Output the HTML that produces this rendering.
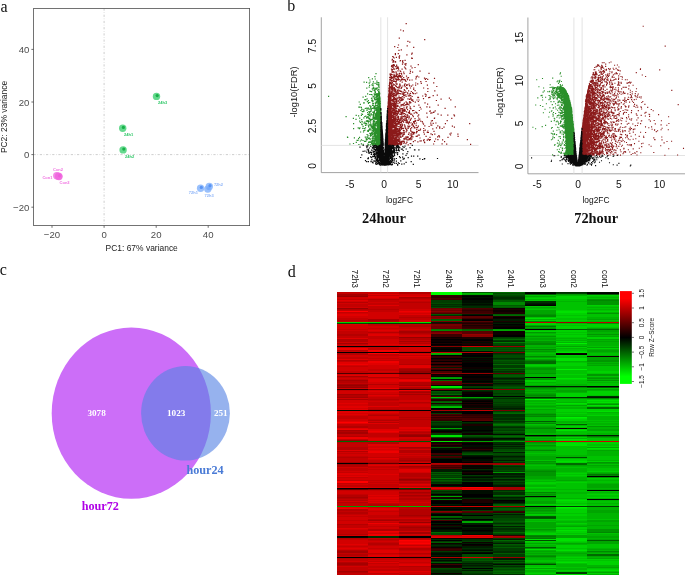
<!DOCTYPE html>
<html><head><meta charset="utf-8"><title>Figure</title>
<style>html,body{margin:0;padding:0;background:#fff}svg{display:block}.s{font-family:"Liberation Sans",Arial,sans-serif}.t{font-family:"Liberation Serif","Times New Roman",serif}</style></head><body>
<svg width="685" height="575" viewBox="0 0 685 575">
<rect width="685" height="575" fill="#fff"/>
<text class="t" x="0.5" y="11.6" font-size="16" fill="#111">a</text>
<text class="t" x="287.2" y="11.2" font-size="16" fill="#111">b</text>
<text class="t" x="-0.3" y="275.1" font-size="16" fill="#111">c</text>
<text class="t" x="287.7" y="276.7" font-size="16" fill="#111">d</text>
<g id="pca">
<line x1="104.1" y1="8.5" x2="104.1" y2="225.6" stroke="#c8c8c8" stroke-width="0.9" stroke-dasharray="2.2 1.7 0.6 1.7"/>
<line x1="33.6" y1="154.6" x2="249.6" y2="154.6" stroke="#c8c8c8" stroke-width="0.9" stroke-dasharray="2.2 1.7 0.6 1.7"/>
<rect x="33.6" y="8.5" width="216.0" height="217.1" fill="none" stroke="#505050" stroke-width="0.8"/>
<line x1="52.0" y1="225.6" x2="52.0" y2="227.79999999999998" stroke="#4a4a4a" stroke-width="0.8"/><text class="s" x="52.0" y="238.2" font-size="9.6" fill="#4d4d4d" text-anchor="middle">−20</text>
<line x1="31.400000000000002" y1="207.2" x2="33.6" y2="207.2" stroke="#4a4a4a" stroke-width="0.8"/><text class="s" x="29.4" y="210.7" font-size="9.6" fill="#4d4d4d" text-anchor="end">−20</text>
<line x1="104.1" y1="225.6" x2="104.1" y2="227.79999999999998" stroke="#4a4a4a" stroke-width="0.8"/><text class="s" x="104.1" y="238.2" font-size="9.6" fill="#4d4d4d" text-anchor="middle">0</text>
<line x1="31.400000000000002" y1="154.6" x2="33.6" y2="154.6" stroke="#4a4a4a" stroke-width="0.8"/><text class="s" x="29.4" y="158.1" font-size="9.6" fill="#4d4d4d" text-anchor="end">0</text>
<line x1="156.2" y1="225.6" x2="156.2" y2="227.79999999999998" stroke="#4a4a4a" stroke-width="0.8"/><text class="s" x="156.2" y="238.2" font-size="9.6" fill="#4d4d4d" text-anchor="middle">20</text>
<line x1="31.400000000000002" y1="102.0" x2="33.6" y2="102.0" stroke="#4a4a4a" stroke-width="0.8"/><text class="s" x="29.4" y="105.5" font-size="9.6" fill="#4d4d4d" text-anchor="end">20</text>
<line x1="208.2" y1="225.6" x2="208.2" y2="227.79999999999998" stroke="#4a4a4a" stroke-width="0.8"/><text class="s" x="208.2" y="238.2" font-size="9.6" fill="#4d4d4d" text-anchor="middle">40</text>
<line x1="31.400000000000002" y1="49.4" x2="33.6" y2="49.4" stroke="#4a4a4a" stroke-width="0.8"/><text class="s" x="29.4" y="52.9" font-size="9.6" fill="#4d4d4d" text-anchor="end">40</text>
<text class="s" x="141.7" y="250.7" font-size="8.45" fill="#222" text-anchor="middle">PC1: 67% variance</text>
<text class="s" transform="translate(7.4 117) rotate(-90)" font-size="8.45" fill="#222" text-anchor="middle">PC2: 23% variance</text>
<circle cx="156.5" cy="96.4" r="3.7" fill="#3fd072" fill-opacity="0.8"/><circle cx="157.2" cy="95.60000000000001" r="1.6" fill="#0aa83c" fill-opacity="0.85"/><circle cx="122.7" cy="128.2" r="3.7" fill="#3fd072" fill-opacity="0.8"/><circle cx="123.4" cy="127.39999999999999" r="1.6" fill="#0aa83c" fill-opacity="0.85"/><circle cx="123.1" cy="149.9" r="3.7" fill="#3fd072" fill-opacity="0.8"/><circle cx="123.8" cy="149.1" r="1.6" fill="#0aa83c" fill-opacity="0.85"/><circle cx="56.8" cy="175.8" r="3.7" fill="#f06adf" fill-opacity="0.8"/><circle cx="57.5" cy="175.0" r="1.6" fill="#ee5cdc" fill-opacity="0.85"/><circle cx="58.6" cy="176.2" r="3.7" fill="#f06adf" fill-opacity="0.8"/><circle cx="59.300000000000004" cy="175.39999999999998" r="1.6" fill="#ee5cdc" fill-opacity="0.85"/><circle cx="59.0" cy="176.6" r="3.7" fill="#f06adf" fill-opacity="0.8"/><circle cx="59.7" cy="175.79999999999998" r="1.6" fill="#ee5cdc" fill-opacity="0.85"/><circle cx="200.6" cy="188.2" r="3.7" fill="#7fb0fb" fill-opacity="0.8"/><circle cx="201.29999999999998" cy="187.39999999999998" r="1.6" fill="#4f8cf2" fill-opacity="0.85"/><circle cx="207.8" cy="189.1" r="3.7" fill="#7fb0fb" fill-opacity="0.8"/><circle cx="208.5" cy="188.29999999999998" r="1.6" fill="#4f8cf2" fill-opacity="0.85"/><circle cx="209.3" cy="186.5" r="3.7" fill="#7fb0fb" fill-opacity="0.8"/><circle cx="210.0" cy="185.7" r="1.6" fill="#4f8cf2" fill-opacity="0.85"/><text class="s" x="158.1" y="103.9" font-size="4.0" font-weight="bold" fill="#2fc868">24h3</text><text class="s" x="124.1" y="136.1" font-size="4.0" font-weight="bold" fill="#2fc868">24h1</text><text class="s" x="125.0" y="157.7" font-size="4.0" font-weight="bold" fill="#2fc868">24h2</text><text class="s" x="53.0" y="171.3" font-size="4.0" font-weight="bold" fill="#f070e0">Con2</text><text class="s" x="42.4" y="179.1" font-size="4.0" font-weight="bold" fill="#f070e0">Con1</text><text class="s" x="59.6" y="183.8" font-size="4.0" font-weight="bold" fill="#f070e0">Con3</text><text class="s" x="213.9" y="185.5" font-size="4.0" font-weight="bold" fill="#8db4f8">72h2</text><text class="s" x="188.8" y="193.6" font-size="4.0" font-weight="bold" fill="#8db4f8">72h1</text><text class="s" x="204.5" y="196.7" font-size="4.0" font-weight="bold" fill="#8db4f8">72h3</text>
</g>
<g id="volcano24">
<path d="M321.3 17.3V172.6H478.5" fill="none" stroke="#8a8a8a" stroke-width="0.8"/>
<path d="M380.8 17.3V172.6M387.6 17.3V172.6M321.3 145.4H478.5" fill="none" stroke="#dcdcdc" stroke-width="0.8"/>
<text class="s" transform="translate(316.3 166.0) rotate(-90)" font-size="10.3" fill="#111" text-anchor="middle">0</text><text class="s" transform="translate(316.3 126.0) rotate(-90)" font-size="10.3" fill="#111" text-anchor="middle">2.5</text><text class="s" transform="translate(316.3 86.0) rotate(-90)" font-size="10.3" fill="#111" text-anchor="middle">5</text><text class="s" transform="translate(316.3 46.0) rotate(-90)" font-size="10.3" fill="#111" text-anchor="middle">7.5</text><text class="s" x="349.9" y="187.7" font-size="10.3" fill="#111" text-anchor="middle">-5</text><text class="s" x="384.2" y="187.7" font-size="10.3" fill="#111" text-anchor="middle">0</text><text class="s" x="418.5" y="187.7" font-size="10.3" fill="#111" text-anchor="middle">5</text><text class="s" x="452.8" y="187.7" font-size="10.3" fill="#111" text-anchor="middle">10</text><text class="s" transform="translate(296.5 92.0) rotate(-90)" font-size="9.3" fill="#111" text-anchor="middle">-log10(FDR)</text><text class="s" x="399.5" y="203.1" font-size="8.4" fill="#111" text-anchor="middle">log2FC</text><text class="t" x="384" y="222.5" font-size="14.4" font-weight="bold" fill="#111" text-anchor="middle">24hour</text>
<path d="M380.8 145.2L380.8 143.8L380.8 142.3L380.8 140.9L380.8 139.4L380.8 138.0L380.8 136.6L380.8 135.1L380.8 133.7L380.8 132.2L380.8 130.8L380.8 129.4L380.8 127.9L380.8 126.5L380.8 125.0L380.8 123.6L380.8 122.2L380.8 120.7L380.8 119.3L380.8 117.8L380.8 116.4L380.8 115.0L380.8 113.5L380.8 112.1L380.8 110.6L380.8 109.2L380.7 107.8L380.6 106.3L380.6 104.9L380.5 103.4L380.4 102.0L380.3 100.6L380.2 99.1L380.1 97.7L380.0 96.2L380.0 94.8L379.9 93.4L379.7 91.9L379.6 90.5L379.5 89.0L379.3 87.6L379.3 87.6L379.3 89.0L379.2 90.5L379.2 91.9L379.1 93.4L379.0 94.8L378.9 96.2L378.8 97.7L378.8 99.1L378.7 100.6L378.6 102.0L378.5 103.4L378.4 104.9L378.3 106.3L378.2 107.8L378.0 109.2L377.9 110.6L377.7 112.1L377.5 113.5L377.3 115.0L377.3 116.4L377.3 117.8L377.3 119.3L377.3 120.7L377.3 122.2L377.2 123.6L377.2 125.0L377.2 126.5L377.2 127.9L377.2 129.4L377.2 130.8L377.1 132.2L377.1 133.7L377.1 135.1L377.1 136.6L377.1 138.0L377.1 139.4L377.0 140.9L377.0 142.3L377.0 143.8L377.0 145.2z" fill="#2a8f2a"/>
<path d="M387.6 145.2L387.6 143.5L387.6 141.8L387.6 140.0L387.6 138.3L387.6 136.6L387.6 134.9L387.6 133.2L387.6 131.4L387.6 129.7L387.6 128.0L387.6 126.3L387.6 124.6L387.6 122.8L387.6 121.1L387.6 119.4L387.6 117.7L387.6 116.0L387.6 114.2L387.6 112.5L387.6 110.8L387.6 109.1L387.6 107.4L387.7 105.6L387.9 103.9L388.0 102.2L388.1 100.5L388.2 98.8L388.3 97.0L388.4 95.3L388.5 93.6L388.7 91.9L388.8 90.2L388.9 88.4L389.0 86.7L389.1 85.0L389.2 83.3L389.3 81.6L389.4 79.8L389.5 78.1L389.7 76.4L389.7 76.4L389.7 78.1L389.8 79.8L389.9 81.6L390.0 83.3L390.1 85.0L390.2 86.7L390.3 88.4L390.4 90.2L390.5 91.9L390.6 93.6L390.6 95.3L390.7 97.0L390.7 98.8L390.8 100.5L390.8 102.2L390.9 103.9L390.9 105.6L391.0 107.4L391.2 109.1L391.4 110.8L391.5 112.5L391.7 114.2L391.7 116.0L391.7 117.7L391.7 119.4L391.7 121.1L391.7 122.8L391.7 124.6L391.7 126.3L391.7 128.0L391.7 129.7L391.7 131.4L391.7 133.2L391.7 134.9L391.7 136.6L391.7 138.3L391.7 140.0L391.7 141.8L391.7 143.5L391.7 145.2z" fill="#8b1a1a"/>
<path d="M383.3 145.2L383.2 144.3L383.2 143.4L383.1 142.4L383.1 141.5L383.0 140.6L382.9 139.7L382.9 138.8L382.8 137.8L382.8 136.9L382.7 136.0L382.6 135.1L382.6 134.2L382.5 133.2L382.5 132.3L382.4 131.4L382.3 130.5L382.3 129.6L382.2 128.6L382.1 127.7L382.1 126.8L382.0 125.9L382.0 125.0L381.9 124.0L381.8 123.1L381.8 122.2L381.7 121.3L381.7 120.4L381.6 119.4L381.5 118.5L381.5 117.6L381.4 116.7L381.4 115.8L381.3 114.8L381.2 113.9L381.2 113.0L381.1 112.1L381.0 111.2L380.9 110.2L380.8 109.3L380.8 108.4L380.8 108.4L380.8 109.3L380.8 110.2L380.8 111.2L380.8 112.1L380.8 113.0L380.8 113.9L380.8 114.8L380.8 115.8L380.8 116.7L380.8 117.6L380.8 118.5L380.8 119.4L380.8 120.4L380.8 121.3L380.8 122.2L380.8 123.1L380.8 124.0L380.8 125.0L380.8 125.9L380.8 126.8L380.8 127.7L380.8 128.6L380.8 129.6L380.8 130.5L380.8 131.4L380.8 132.3L380.8 133.2L380.8 134.2L380.8 135.1L380.8 136.0L380.8 136.9L380.8 137.8L380.8 138.8L380.8 139.7L380.8 140.6L380.8 141.5L380.8 142.4L380.8 143.4L380.8 144.3L380.8 145.2z" fill="#0a0a0a"/>
<path d="M384.2 165.2L384.2 164.7L384.2 164.2L384.1 163.7L384.1 163.2L384.1 162.7L384.1 162.2L384.0 161.7L384.0 161.2L384.0 160.7L384.0 160.2L384.0 159.7L383.9 159.2L383.9 158.7L383.9 158.2L383.9 157.7L383.8 157.2L383.8 156.7L383.8 156.2L383.8 155.7L383.8 155.2L383.7 154.7L383.7 154.2L383.7 153.7L383.7 153.2L383.6 152.7L383.6 152.2L383.6 151.7L383.6 151.2L383.6 150.7L383.5 150.2L383.5 149.7L383.5 149.2L383.5 148.7L383.4 148.2L383.4 147.7L383.4 147.2L383.4 146.7L383.4 146.2L383.3 145.7L383.3 145.2L375.4 145.2L375.6 145.7L375.7 146.2L375.8 146.7L376.0 147.2L376.1 147.7L376.3 148.2L376.4 148.7L376.5 149.2L376.7 149.7L376.8 150.2L377.0 150.7L377.1 151.2L377.2 151.7L377.4 152.2L377.5 152.7L377.7 153.2L377.8 153.7L377.9 154.2L378.1 154.7L378.2 155.2L378.4 155.7L378.5 156.2L378.6 156.7L378.8 157.2L378.9 157.7L379.1 158.2L379.2 158.7L379.3 159.2L379.5 159.7L379.6 160.2L379.8 160.7L379.9 161.2L380.1 161.7L380.3 162.2L380.5 162.7L380.7 163.2L380.9 163.7L381.1 164.2L381.3 164.7L381.5 165.2z" fill="#0a0a0a"/>
<path d="M385.1 145.2L385.2 144.2L385.2 143.3L385.3 142.3L385.3 141.4L385.4 140.4L385.5 139.5L385.5 138.5L385.6 137.6L385.7 136.6L385.7 135.7L385.8 134.7L385.8 133.8L385.9 132.8L386.0 131.9L386.0 130.9L386.1 130.0L386.2 129.0L386.2 128.1L386.3 127.1L386.4 126.2L386.4 125.2L386.5 124.3L386.5 123.3L386.6 122.4L386.7 121.4L386.7 120.4L386.8 119.5L386.9 118.5L386.9 117.6L387.0 116.6L387.0 115.7L387.1 114.7L387.2 113.8L387.2 112.8L387.3 111.9L387.4 110.9L387.4 110.0L387.5 109.0L387.6 108.1L387.6 107.1L387.6 107.1L387.6 108.1L387.6 109.0L387.6 110.0L387.6 110.9L387.6 111.9L387.6 112.8L387.6 113.8L387.6 114.7L387.6 115.7L387.6 116.6L387.6 117.6L387.6 118.5L387.6 119.5L387.6 120.4L387.6 121.4L387.6 122.4L387.6 123.3L387.6 124.3L387.6 125.2L387.6 126.2L387.6 127.1L387.6 128.1L387.6 129.0L387.6 130.0L387.6 130.9L387.6 131.9L387.6 132.8L387.6 133.8L387.6 134.7L387.6 135.7L387.6 136.6L387.6 137.6L387.6 138.5L387.6 139.5L387.6 140.4L387.6 141.4L387.6 142.3L387.6 143.3L387.6 144.2L387.6 145.2z" fill="#0a0a0a"/>
<path d="M384.2 165.2L384.2 164.7L384.2 164.2L384.3 163.7L384.3 163.2L384.3 162.7L384.3 162.2L384.4 161.7L384.4 161.2L384.4 160.7L384.4 160.2L384.4 159.7L384.5 159.2L384.5 158.7L384.5 158.2L384.5 157.7L384.6 157.2L384.6 156.7L384.6 156.2L384.6 155.7L384.6 155.2L384.7 154.7L384.7 154.2L384.7 153.7L384.7 153.2L384.8 152.7L384.8 152.2L384.8 151.7L384.8 151.2L384.8 150.7L384.9 150.2L384.9 149.7L384.9 149.2L384.9 148.7L385.0 148.2L385.0 147.7L385.0 147.2L385.0 146.7L385.0 146.2L385.1 145.7L385.1 145.2L393.0 145.2L392.8 145.7L392.7 146.2L392.6 146.7L392.4 147.2L392.3 147.7L392.1 148.2L392.0 148.7L391.9 149.2L391.7 149.7L391.6 150.2L391.4 150.7L391.3 151.2L391.2 151.7L391.0 152.2L390.9 152.7L390.7 153.2L390.6 153.7L390.5 154.2L390.3 154.7L390.2 155.2L390.0 155.7L389.9 156.2L389.8 156.7L389.6 157.2L389.5 157.7L389.3 158.2L389.2 158.7L389.1 159.2L388.9 159.7L388.8 160.2L388.6 160.7L388.5 161.2L388.3 161.7L388.1 162.2L387.9 162.7L387.7 163.2L387.5 163.7L387.3 164.2L387.1 164.7L386.9 165.2z" fill="#0a0a0a"/>
<path d="M379.0 125.9h0M378.5 124.6h0M379.4 112.3h0M375.1 91.5h0M375.9 108.3h0M380.1 120.7h0M372.4 78.8h0M380.1 132.5h0M379.6 107.8h0M378.5 129.8h0M380.1 140.1h0M370.7 111.5h0M377.3 130.5h0M379.8 105.9h0M379.9 110.4h0M365.7 96.4h0M379.2 109.9h0M379.1 107.3h0M372.4 141.5h0M377.5 121.0h0M374.9 92.0h0M346.1 116.7h0M369.7 118.3h0M371.8 119.4h0M377.0 112.5h0M378.0 133.2h0M378.3 133.0h0M374.1 108.6h0M370.1 128.6h0M377.8 144.9h0M375.2 103.2h0M380.7 133.1h0M379.1 94.7h0M380.2 137.0h0M373.4 128.8h0M379.2 144.1h0M380.4 112.5h0M366.4 121.1h0M379.1 134.5h0M373.8 115.0h0M373.5 142.8h0M374.3 125.5h0M374.9 110.3h0M369.6 112.5h0M379.8 134.4h0M380.4 112.7h0M375.8 117.1h0M378.2 127.5h0M371.4 133.2h0M379.6 139.4h0M377.8 144.4h0M377.8 111.7h0M380.6 143.4h0M377.1 99.1h0M378.0 135.5h0M375.5 123.0h0M379.8 131.1h0M378.2 140.6h0M377.6 127.2h0M374.9 138.4h0M370.4 135.6h0M380.5 119.4h0M379.4 100.8h0M375.7 114.9h0M368.6 142.5h0M378.2 114.4h0M377.8 108.1h0M375.5 144.8h0M378.2 106.5h0M369.9 128.3h0M373.1 100.8h0M372.3 132.3h0M378.8 114.2h0M380.1 143.2h0M379.6 125.4h0M374.9 121.8h0M376.8 144.6h0M371.8 142.4h0M375.8 128.2h0M368.5 114.8h0M379.1 143.6h0M380.3 124.1h0M376.0 125.8h0M361.4 143.8h0M369.5 138.0h0M369.5 129.9h0M380.2 142.0h0M380.2 120.4h0M378.8 131.8h0M378.6 94.2h0M378.8 137.1h0M369.2 87.2h0M380.2 129.4h0M380.2 108.6h0M380.7 122.8h0M380.6 137.5h0M375.1 83.3h0M378.0 99.5h0M380.5 129.2h0M378.0 143.1h0M376.8 141.1h0M379.0 141.9h0M377.3 96.5h0M380.2 136.0h0M378.3 102.9h0M380.2 133.9h0M375.2 125.7h0M379.3 136.8h0M374.1 125.5h0M375.7 143.4h0M375.9 137.9h0M379.3 114.4h0M377.9 120.2h0M379.0 118.1h0M373.8 120.5h0M372.8 103.6h0M378.9 118.0h0M360.4 141.0h0M380.3 140.4h0M377.8 90.3h0M378.9 126.4h0M378.5 103.7h0M378.7 93.3h0M359.9 127.9h0M379.8 138.2h0M376.6 112.1h0M358.2 127.8h0M375.0 127.0h0M375.6 129.8h0M380.1 136.0h0M373.6 127.4h0M375.9 117.6h0M379.4 121.2h0M379.9 138.2h0M379.0 136.5h0M377.3 134.8h0M380.1 125.7h0M379.0 118.1h0M380.7 124.3h0M377.4 131.5h0M379.0 110.1h0M377.5 144.8h0M376.6 112.6h0M374.9 123.4h0M378.7 126.4h0M366.9 108.9h0M368.8 118.7h0M364.9 130.1h0M359.5 137.3h0M373.5 123.9h0M376.3 102.6h0M376.3 135.9h0M376.1 141.1h0M376.8 132.1h0M356.2 115.3h0M378.0 107.1h0M376.8 101.6h0M380.1 101.7h0M376.0 102.2h0M370.0 91.1h0M374.4 111.4h0M372.8 101.8h0M378.8 110.6h0M372.2 143.9h0M353.6 128.6h0M370.6 139.2h0M357.1 140.3h0M379.9 105.6h0M379.7 96.9h0M377.4 120.7h0M362.2 121.9h0M374.9 136.7h0M371.1 126.4h0M376.6 144.3h0M379.2 98.3h0M376.6 121.7h0M373.2 127.8h0M380.7 127.6h0M373.7 113.8h0M377.2 144.2h0M379.8 105.3h0M369.7 111.9h0M380.8 126.6h0M377.9 127.4h0M376.4 144.0h0M376.5 141.1h0M378.2 97.8h0M379.4 123.4h0M377.5 143.6h0M378.9 124.4h0M373.5 108.2h0M373.8 130.7h0M376.4 134.0h0M377.5 137.5h0M370.6 136.2h0M380.2 132.8h0M377.0 129.6h0M378.6 120.4h0M375.8 93.8h0M376.6 113.9h0M373.9 131.9h0M379.1 138.3h0M377.8 138.1h0M373.3 122.7h0M372.2 135.0h0M375.9 117.6h0M376.2 109.8h0M380.4 125.7h0M380.7 127.1h0M379.8 128.2h0M372.8 114.8h0M377.7 131.8h0M378.8 111.7h0M379.0 96.3h0M380.0 131.8h0M372.9 83.5h0M380.5 129.2h0M378.4 108.6h0M377.5 114.4h0M378.6 132.7h0M368.4 122.8h0M369.9 80.0h0M375.3 144.9h0M373.6 116.4h0M380.4 114.2h0M374.5 133.7h0M380.2 122.0h0M380.7 135.4h0M379.1 139.0h0M379.0 131.4h0M368.0 135.4h0M378.7 119.9h0M375.7 103.7h0M373.3 125.5h0M379.7 130.5h0M378.8 138.4h0M380.4 144.3h0M380.7 124.2h0M376.9 81.1h0M369.2 83.1h0M368.4 121.4h0M373.6 117.9h0M377.9 121.7h0M374.5 128.9h0M369.9 114.0h0M359.2 102.0h0M379.4 119.1h0M377.7 132.2h0M378.0 110.2h0M374.2 96.2h0M377.8 107.1h0M378.1 133.0h0M374.2 93.8h0M376.9 107.5h0M379.4 117.2h0M375.1 94.8h0M380.7 134.0h0M353.6 123.7h0M377.4 132.7h0M374.9 76.6h0M359.7 121.1h0M378.1 142.9h0M373.4 115.9h0M378.2 113.6h0M380.3 143.7h0M377.4 140.8h0M365.9 123.4h0M375.1 144.9h0M377.9 117.8h0M378.1 107.8h0M371.8 129.0h0M370.8 125.5h0M380.3 131.4h0M373.7 130.6h0M379.6 138.4h0M375.4 92.5h0M378.4 136.1h0M375.5 128.6h0M379.9 131.6h0M361.7 119.7h0M374.4 135.2h0M374.8 121.8h0M372.7 144.6h0M380.7 145.0h0M378.8 85.8h0M380.1 131.0h0M380.5 131.1h0M374.6 143.2h0M367.6 93.9h0M369.9 133.4h0M374.3 119.2h0M378.0 127.7h0M379.4 134.1h0M380.0 116.7h0M364.0 123.1h0M374.1 142.3h0M372.1 140.9h0M369.6 124.8h0M373.0 133.9h0M379.2 106.8h0M379.6 137.7h0M379.3 136.6h0M373.7 140.6h0M378.4 126.6h0M378.8 99.7h0M380.1 128.3h0M380.3 141.8h0M380.3 139.5h0M379.2 143.0h0M380.3 125.8h0M353.4 118.4h0M367.1 98.8h0M379.3 92.8h0M379.7 93.3h0M377.4 119.2h0M380.7 111.2h0M376.9 88.7h0M375.5 134.5h0M380.0 124.7h0M372.1 130.4h0M377.5 135.0h0M372.1 127.5h0M377.9 120.1h0M376.8 82.9h0M378.1 82.6h0M373.7 113.1h0M376.2 136.6h0M377.6 110.3h0M374.1 98.0h0M377.5 139.6h0M376.9 116.9h0M369.7 141.8h0M379.4 139.9h0M378.4 125.5h0M377.9 114.7h0M375.1 89.5h0M368.5 130.0h0M380.7 121.2h0M377.8 133.7h0M378.4 134.1h0M380.1 126.8h0M368.4 138.3h0M363.0 140.5h0M380.5 140.7h0M377.9 99.2h0M379.0 130.1h0M379.3 121.9h0M369.9 112.0h0M368.4 131.5h0M373.4 129.3h0M362.2 111.5h0M373.1 112.0h0M376.8 99.7h0M369.5 112.4h0M376.5 121.7h0M371.3 114.1h0M376.8 95.9h0M375.7 138.5h0M380.6 127.9h0M378.5 98.6h0M370.6 123.0h0M379.5 136.8h0M378.6 137.8h0M374.4 127.4h0M379.4 132.3h0M377.5 141.8h0M368.7 126.1h0M354.4 137.8h0M377.7 135.5h0M379.6 93.8h0M377.1 121.4h0M368.7 142.2h0M362.2 124.6h0M372.0 132.1h0M378.3 112.5h0M380.6 131.1h0M375.3 132.1h0M379.4 129.6h0M368.8 102.5h0M380.0 120.2h0M374.7 94.7h0M374.6 121.2h0M373.3 87.2h0M358.6 138.7h0M376.5 108.7h0M377.1 114.6h0M377.7 118.3h0M375.9 94.6h0M377.5 128.7h0M373.8 120.7h0M380.1 141.1h0M364.1 82.2h0M379.6 114.8h0M379.3 119.1h0M379.9 121.0h0M379.2 97.6h0M374.8 106.6h0M374.6 135.7h0M380.0 123.5h0M373.9 131.0h0M379.5 119.9h0M373.0 138.9h0M369.6 85.3h0M378.3 129.9h0M379.0 144.8h0M380.1 142.0h0M375.9 135.7h0M378.4 120.9h0M379.5 132.9h0M371.4 127.1h0M375.2 108.8h0M378.5 130.4h0M370.1 82.0h0M379.2 135.8h0M373.2 96.6h0M379.0 124.8h0M378.8 120.1h0M377.8 134.8h0M366.4 139.9h0M373.2 118.5h0M379.2 133.2h0M371.2 141.0h0M376.6 138.2h0M374.2 108.1h0M373.1 117.2h0M378.5 133.5h0M378.2 124.6h0M377.1 141.5h0M375.4 136.4h0M377.8 98.9h0M362.5 114.3h0M376.2 106.0h0M369.8 102.5h0M365.3 108.5h0M379.0 123.6h0M376.8 84.4h0M368.3 117.2h0M375.1 91.0h0M365.5 125.3h0M372.3 119.5h0M374.7 141.6h0M376.8 141.8h0M372.5 126.1h0M372.3 88.8h0M379.2 129.9h0M378.5 123.9h0M378.2 112.4h0M368.9 111.5h0M380.3 132.6h0M380.4 140.9h0M379.6 114.5h0M380.4 103.6h0M375.9 115.5h0M375.3 134.9h0M370.3 129.8h0M375.7 123.1h0M377.7 112.2h0M378.7 114.8h0M376.1 123.7h0M377.4 123.3h0M374.6 90.3h0M377.4 132.1h0M374.9 134.3h0M375.8 108.1h0M375.0 135.6h0M371.2 114.8h0M380.6 129.6h0M380.0 111.6h0M376.1 99.3h0M366.9 125.0h0M374.5 121.6h0M380.4 140.7h0M377.4 117.8h0M380.1 109.8h0M380.7 130.0h0M374.8 135.0h0M379.2 110.4h0M380.2 129.6h0M380.1 130.3h0M379.7 119.4h0M380.7 141.1h0M380.6 144.3h0M379.0 108.7h0M378.4 135.7h0M378.5 116.3h0M364.9 99.6h0M380.3 141.8h0M370.7 119.7h0M380.6 128.1h0M375.6 131.8h0M376.9 143.2h0M378.1 126.5h0M380.0 126.0h0M373.5 128.4h0M378.5 117.0h0M373.8 125.0h0M378.6 143.8h0M377.2 101.2h0M376.0 95.0h0M379.3 104.2h0M379.0 104.7h0M379.0 127.3h0M370.0 142.3h0M361.7 124.2h0M379.5 109.4h0M379.7 121.7h0M356.3 142.3h0M375.3 129.7h0M377.6 137.1h0M364.8 122.0h0M372.5 108.4h0M374.5 143.1h0M376.9 144.0h0M376.0 103.0h0M379.5 120.6h0M377.0 143.3h0M379.4 130.1h0M376.1 118.8h0M371.6 143.7h0M366.5 123.7h0M378.8 82.8h0M377.2 122.0h0M378.6 145.1h0M374.8 124.3h0M379.9 130.1h0M378.1 132.7h0M362.9 111.6h0M377.2 102.8h0M375.7 136.6h0M375.4 124.2h0M377.2 113.7h0M365.3 123.7h0M379.1 137.2h0M376.6 123.6h0M366.6 82.3h0M376.7 109.9h0M374.6 127.4h0M379.6 98.8h0M374.4 118.5h0M373.4 103.6h0M367.1 139.7h0M378.9 86.5h0M371.5 94.5h0M378.6 142.3h0M379.5 109.1h0M371.6 143.8h0M375.3 143.7h0M378.5 110.0h0M379.6 145.1h0M378.8 95.1h0M372.9 85.5h0M373.3 121.7h0M371.8 100.7h0M379.7 129.6h0M370.0 106.0h0M375.6 99.1h0M378.5 141.3h0M380.5 126.2h0M377.1 124.7h0M380.7 132.2h0M378.9 140.8h0M375.2 123.2h0M375.0 123.6h0M369.9 105.7h0M378.5 93.9h0M375.6 138.1h0M362.0 109.5h0M375.9 97.3h0M379.4 106.2h0M378.3 127.8h0M380.7 126.0h0M379.1 125.2h0M378.6 140.3h0M380.6 129.4h0M375.2 119.2h0M375.6 88.9h0M380.0 136.5h0M366.7 117.4h0M374.9 128.7h0M378.9 142.8h0M379.1 123.2h0M378.1 123.8h0M376.6 125.9h0M377.4 131.5h0M368.7 77.6h0M380.2 130.2h0M376.9 105.6h0M377.7 126.2h0M378.4 93.8h0M375.6 105.9h0M374.4 129.6h0M376.0 117.8h0M370.9 106.6h0M378.9 132.5h0M371.8 125.8h0M379.9 108.1h0M377.4 121.5h0M379.4 120.1h0M379.9 142.1h0M376.0 119.3h0M378.3 115.4h0M376.9 130.7h0M378.1 122.9h0M379.4 108.6h0M379.7 142.3h0M376.4 110.6h0M378.4 99.4h0M375.5 134.1h0M379.7 131.4h0M378.8 126.3h0M377.8 136.2h0M376.2 133.7h0M377.5 111.8h0M378.3 130.2h0M378.8 132.1h0M372.0 84.8h0M379.0 137.9h0M380.7 131.4h0M378.7 103.9h0M375.6 131.4h0M363.9 111.1h0M380.5 130.7h0M378.9 131.9h0M380.2 144.9h0M365.8 141.3h0M372.5 136.8h0M377.5 109.0h0M380.2 120.5h0M376.1 97.0h0M379.1 140.0h0M379.7 93.6h0M375.4 129.9h0M379.3 107.1h0M378.1 129.9h0M370.2 116.2h0M370.7 120.9h0M366.2 108.0h0M380.4 133.3h0M363.9 117.8h0M369.8 118.2h0M380.0 143.1h0M376.5 122.3h0M367.6 137.1h0M377.5 138.0h0M377.0 143.0h0M379.5 142.0h0M376.7 140.6h0M379.9 128.3h0M378.3 116.5h0M379.2 136.6h0M376.8 123.4h0M378.5 121.1h0M358.0 140.4h0M364.8 116.5h0M376.4 137.1h0M376.9 98.2h0M377.6 127.9h0M367.2 121.3h0M367.1 120.5h0M377.3 130.3h0M379.6 115.6h0M379.6 122.1h0M380.5 142.1h0M379.6 108.2h0M376.9 144.2h0M373.5 137.2h0M379.9 101.2h0M374.9 121.4h0M376.6 88.3h0M367.6 112.7h0M378.4 102.7h0M380.6 117.1h0M379.5 116.4h0M380.2 143.5h0M378.7 143.8h0M378.1 126.7h0M377.2 133.8h0M375.3 123.6h0M368.4 100.7h0M379.0 111.3h0M373.3 143.8h0M379.7 145.0h0M369.8 121.5h0M379.7 142.7h0M374.3 133.6h0M379.8 143.3h0M380.4 143.8h0M378.8 92.3h0M380.6 121.9h0M377.1 138.1h0M379.9 111.3h0M377.2 124.0h0M375.7 141.0h0M372.4 138.4h0M374.3 111.7h0M380.5 134.3h0M377.8 128.6h0M374.9 117.0h0M375.1 99.8h0M379.4 127.1h0M378.7 145.1h0M374.9 89.2h0M378.5 123.3h0M372.5 105.4h0M380.5 111.4h0M380.0 103.0h0M376.0 136.4h0M375.2 135.9h0M376.7 142.6h0M371.1 111.0h0M378.1 116.3h0M378.3 143.5h0M380.1 141.0h0M375.7 99.7h0M376.2 107.8h0M377.1 93.6h0M375.0 127.7h0M380.3 142.6h0M379.8 121.2h0M380.7 139.1h0M376.8 110.7h0M377.4 140.0h0M371.4 109.0h0M379.4 117.7h0M378.5 91.4h0M360.9 110.5h0M367.9 144.2h0M379.0 136.2h0M373.5 127.4h0M378.6 107.3h0M380.6 110.4h0M380.7 113.8h0M379.7 125.0h0M358.6 115.8h0M369.5 115.4h0M372.7 140.2h0M379.1 117.3h0M367.0 110.5h0M366.8 118.1h0M378.0 104.1h0M359.4 128.6h0M370.7 107.3h0M379.9 142.7h0M378.5 123.4h0M379.1 101.4h0M380.0 135.6h0M377.4 114.8h0M380.5 134.6h0M379.2 142.3h0M378.6 130.0h0M378.1 137.1h0M371.3 113.9h0M365.3 137.2h0M379.7 121.9h0M379.0 111.9h0M378.3 136.4h0M363.2 144.4h0M376.0 136.9h0M379.9 129.2h0M377.0 136.4h0M380.5 120.4h0M379.2 100.5h0M378.3 144.8h0M378.4 98.8h0M363.1 97.1h0M378.5 112.8h0M380.0 98.2h0M377.4 105.5h0M375.5 115.0h0M379.0 145.0h0M380.6 142.0h0M365.8 116.2h0M377.8 116.1h0M379.9 107.2h0M380.5 114.9h0M370.4 122.8h0M379.2 126.3h0M375.7 94.7h0M379.9 143.4h0M379.4 107.9h0M377.4 134.1h0M378.1 119.1h0M369.8 94.5h0M375.0 118.6h0M375.1 94.2h0M377.8 122.4h0M380.5 119.7h0M377.7 137.6h0M370.3 91.5h0M363.9 130.6h0M377.5 140.4h0M379.9 132.2h0M378.6 124.3h0M375.1 124.8h0M378.0 115.9h0M379.0 137.3h0M368.2 121.5h0M378.7 133.6h0M379.9 99.4h0M372.2 100.9h0M361.7 109.1h0M379.5 126.6h0M369.7 109.1h0M379.9 134.0h0M370.0 128.3h0M376.2 129.4h0M377.1 125.6h0M378.6 114.6h0M370.7 139.2h0M378.7 126.9h0M375.3 113.5h0M379.7 136.5h0M378.2 140.8h0M370.6 134.6h0M368.8 125.0h0M371.2 94.5h0M379.7 136.0h0M368.6 130.5h0M367.9 116.7h0M378.3 118.8h0M375.4 114.7h0M374.2 142.0h0M380.4 136.0h0M377.2 131.2h0M362.8 128.4h0M379.0 144.2h0M378.7 82.5h0M379.3 104.2h0M380.3 127.1h0M377.7 122.3h0M375.6 135.8h0M372.9 141.4h0M378.2 128.3h0M378.9 124.1h0M379.5 114.1h0M379.0 87.5h0M379.3 126.5h0M379.8 125.7h0M373.0 144.1h0M380.6 137.4h0M377.7 137.0h0M378.8 137.6h0M369.8 129.4h0M375.9 132.3h0M377.7 113.5h0M363.8 109.9h0M370.9 142.2h0M379.3 139.7h0M368.1 117.5h0M377.8 121.4h0M379.3 97.8h0M380.4 134.4h0M377.1 109.7h0M353.5 143.5h0M380.0 141.5h0M373.9 138.8h0M378.9 115.6h0M380.0 136.0h0M360.3 104.3h0M379.3 117.4h0M377.6 100.4h0M378.7 130.5h0M379.2 117.3h0M377.0 142.6h0M374.2 106.0h0M379.0 128.5h0M371.3 108.9h0M378.5 133.9h0M372.4 140.8h0M375.9 117.5h0M374.1 140.6h0M379.8 138.6h0M379.9 109.4h0M371.1 133.7h0M380.1 107.0h0M375.6 135.8h0M380.7 140.5h0M377.4 96.7h0M378.0 137.7h0M375.3 117.1h0M372.2 95.0h0M365.8 99.9h0M376.5 94.5h0M373.0 126.3h0M377.4 110.6h0M379.7 133.8h0M373.2 120.0h0M375.2 134.0h0M377.2 125.6h0M376.2 128.6h0M366.8 88.2h0M380.0 111.8h0M375.8 131.2h0M380.5 137.2h0M380.5 119.5h0M375.8 140.4h0M379.9 121.3h0M378.5 144.7h0M377.0 139.8h0M368.1 107.8h0M379.6 139.1h0M377.0 100.0h0M360.4 122.5h0M379.2 116.0h0M347.7 137.5h0M374.4 117.4h0M377.2 130.2h0M379.6 143.9h0M379.8 107.0h0M379.8 140.5h0M380.1 142.2h0M379.0 140.1h0M379.5 93.9h0M380.4 121.0h0M380.7 126.2h0M376.0 144.5h0M380.5 131.1h0M377.4 140.6h0M375.4 138.5h0M366.1 137.1h0M376.3 143.3h0M378.9 84.4h0M375.1 135.7h0M377.1 122.6h0M373.4 88.3h0M347.5 137.2h0M374.8 128.5h0M376.7 118.7h0M367.9 131.1h0M372.6 142.9h0M373.9 133.9h0M361.5 139.9h0M375.9 126.0h0M377.8 133.3h0M374.3 112.8h0M379.3 144.5h0M373.3 126.2h0M380.2 137.0h0M378.7 91.8h0M374.4 128.7h0M379.0 129.4h0M372.2 127.2h0M373.3 130.8h0M371.5 98.7h0M374.2 126.6h0M377.8 95.4h0M373.2 131.4h0M377.3 133.7h0M376.5 122.9h0M366.2 138.6h0M379.9 110.1h0M380.7 109.3h0M372.7 128.5h0M370.4 144.8h0M368.2 120.8h0M377.2 87.9h0M379.9 129.7h0M375.0 137.9h0M375.5 125.7h0M373.1 90.1h0M377.8 126.3h0M378.7 139.5h0M379.4 135.9h0M379.3 143.8h0M378.0 125.9h0M378.9 84.8h0M379.7 132.0h0M374.0 124.4h0M374.6 99.2h0M377.8 119.4h0M377.8 122.5h0M377.1 142.8h0M375.3 91.1h0M380.4 131.0h0M378.6 126.5h0M374.9 108.8h0M376.4 143.1h0M377.4 105.3h0M376.0 73.6h0M363.9 103.1h0M371.9 132.5h0M367.5 130.8h0M378.2 143.7h0M379.4 113.9h0M376.6 88.3h0M378.0 84.8h0M379.6 144.5h0M378.7 101.2h0M380.0 143.5h0M378.1 131.9h0M374.5 97.8h0M379.6 143.1h0M369.6 129.7h0M376.0 130.8h0M378.4 130.3h0M375.3 115.6h0M373.4 144.4h0M370.8 108.2h0M374.9 139.4h0M379.5 102.5h0M375.5 140.2h0M376.8 132.6h0M380.5 122.5h0M378.3 123.7h0M378.1 144.8h0M378.7 89.4h0M360.6 132.0h0M377.5 122.8h0M380.7 117.8h0M369.2 113.9h0M379.0 136.2h0M379.6 124.2h0M362.0 121.6h0M379.8 142.1h0M380.3 101.0h0M375.0 88.5h0M376.9 133.1h0M379.7 133.8h0M365.5 127.8h0M377.5 143.0h0M376.3 96.3h0M378.3 108.8h0M370.2 135.4h0M380.4 144.6h0M372.9 112.3h0M358.9 144.5h0M372.5 134.6h0M370.8 124.9h0M377.2 130.7h0M376.3 139.8h0M379.5 121.9h0M374.6 117.9h0M377.7 113.0h0M380.7 117.4h0M379.4 136.8h0M377.6 129.9h0M367.4 101.6h0M378.3 124.8h0M358.9 107.2h0M380.6 131.0h0M374.0 106.8h0M377.0 118.7h0M374.2 131.2h0M380.7 124.2h0M375.3 79.0h0M376.0 134.0h0M378.9 142.2h0M379.0 114.2h0M364.0 102.6h0M379.5 131.7h0M368.5 103.3h0M368.5 144.9h0M372.3 133.9h0M371.0 124.4h0M380.1 126.3h0M380.1 138.7h0M375.3 132.1h0M377.9 128.8h0M377.8 106.4h0M361.4 107.4h0M380.2 120.0h0M378.8 129.8h0M372.3 138.3h0M378.8 134.3h0M374.0 133.2h0M376.6 124.0h0M380.4 111.7h0M370.9 120.4h0M371.2 135.3h0M375.0 124.4h0M378.7 92.9h0M380.3 128.4h0M363.5 132.0h0M376.5 119.1h0M380.6 115.9h0M378.5 143.5h0M379.7 119.4h0M379.9 144.0h0M375.3 124.8h0M374.4 144.2h0M376.7 89.2h0M368.7 109.0h0M367.8 136.9h0M373.4 81.8h0M375.2 132.7h0M374.4 118.5h0M379.8 134.8h0M375.9 139.2h0M377.3 143.0h0M378.3 95.6h0M361.4 115.5h0M379.6 104.8h0M378.6 102.4h0M367.1 134.5h0M380.7 117.3h0M370.2 139.2h0M364.5 141.3h0M375.6 105.0h0M375.4 118.0h0M375.3 139.0h0M377.3 121.5h0M372.7 126.0h0M378.2 120.9h0M380.7 117.9h0M380.5 115.8h0M365.6 141.3h0M376.1 142.9h0M380.3 131.6h0M379.5 129.2h0M379.3 124.0h0M376.5 123.6h0M377.6 143.5h0M379.1 124.3h0M378.4 135.1h0M374.9 88.1h0M372.0 133.4h0M380.5 143.0h0M379.9 137.8h0M373.4 124.4h0M372.4 100.1h0M376.3 117.8h0M378.2 139.8h0M378.0 111.4h0M378.1 123.0h0M378.8 120.6h0M369.7 119.9h0M377.6 131.4h0M373.3 122.8h0M367.8 114.5h0M380.3 127.8h0M379.6 98.2h0M379.5 98.7h0M379.4 125.4h0M377.4 96.4h0M379.6 112.8h0M375.2 124.1h0M378.6 129.6h0M377.7 101.4h0M376.7 115.6h0M377.9 133.7h0M373.0 118.2h0M378.8 111.4h0M380.4 116.3h0M377.3 113.8h0M380.1 137.4h0M379.9 114.9h0M380.1 106.7h0M379.0 109.5h0M375.6 99.3h0M371.9 98.2h0M380.4 141.7h0M376.5 94.0h0M377.8 134.1h0M369.8 118.0h0M379.1 111.9h0M373.1 105.4h0M380.4 112.9h0M378.3 119.5h0M377.1 95.3h0M372.5 145.1h0M378.8 109.5h0M356.0 119.4h0M379.2 100.0h0M375.0 137.2h0M379.1 134.2h0M378.4 115.7h0M380.0 143.1h0M378.7 131.1h0M376.5 145.1h0M368.8 114.0h0M375.4 137.4h0M376.4 114.5h0M373.2 144.8h0M379.0 101.9h0M377.3 94.1h0M380.2 122.9h0M374.9 130.1h0M376.6 144.7h0M369.8 138.9h0M379.9 130.4h0M364.3 128.5h0M379.1 128.0h0M379.1 134.3h0M378.5 124.1h0M374.9 107.8h0M368.1 138.7h0M376.2 125.8h0M371.1 110.1h0M380.1 134.5h0M378.0 100.7h0M376.8 133.7h0M372.3 127.7h0M379.1 108.6h0M380.1 128.8h0M367.5 109.0h0M373.0 138.6h0M377.7 95.8h0M368.6 127.0h0M380.4 141.3h0M376.3 131.6h0M379.9 140.5h0M373.5 121.4h0M379.0 144.0h0M379.3 130.6h0M379.9 142.4h0M365.3 123.4h0M376.0 73.6h0M363.1 126.4h0M375.2 113.3h0M379.8 111.8h0M371.6 91.6h0M359.7 118.1h0M372.8 124.2h0M377.4 139.7h0M379.1 132.9h0M377.2 114.5h0M380.5 143.3h0M349.9 144.0h0M375.8 116.7h0M378.8 139.3h0M380.7 125.5h0M379.1 106.0h0M373.8 136.2h0M375.0 132.9h0M380.2 121.7h0M375.3 140.7h0M378.2 103.4h0M376.5 138.7h0M373.2 85.0h0M361.5 114.0h0M375.3 143.8h0M376.4 141.8h0M380.7 110.7h0M368.6 144.9h0M380.0 127.5h0M380.2 123.2h0M359.8 107.1h0M328.6 96.4h0" stroke="#2a8f2a" stroke-width="1.2" stroke-linecap="square" fill="none"/>
<path d="M400.5 60.5h0M404.9 90.5h0M426.2 94.8h0M394.0 72.6h0M399.3 138.5h0M403.1 141.6h0M407.9 94.0h0M438.2 105.1h0M389.9 138.4h0M392.1 122.7h0M397.1 133.2h0M387.6 127.3h0M388.7 105.9h0M398.6 134.2h0M427.3 132.4h0M389.0 108.3h0M398.5 79.8h0M432.0 112.8h0M404.1 73.6h0M393.6 123.0h0M396.2 131.9h0M390.1 119.7h0M388.8 96.0h0M394.7 127.5h0M406.1 131.8h0M416.2 136.4h0M403.1 133.1h0M394.2 142.4h0M411.8 100.5h0M395.2 118.2h0M401.5 99.8h0M391.8 143.5h0M394.0 142.8h0M387.9 126.4h0M392.0 141.2h0M439.0 135.5h0M399.1 134.4h0M393.5 101.5h0M387.7 108.0h0M392.4 132.2h0M403.7 72.2h0M392.3 88.7h0M396.8 94.6h0M390.6 143.9h0M413.3 126.4h0M388.8 132.0h0M399.7 84.1h0M393.8 88.1h0M390.4 121.8h0M388.7 117.3h0M387.9 125.7h0M403.8 96.0h0M389.6 142.4h0M395.9 115.1h0M395.7 138.7h0M389.6 143.5h0M401.1 104.8h0M389.6 136.0h0M395.3 91.1h0M397.6 106.0h0M389.2 119.9h0M399.0 75.2h0M389.1 104.1h0M391.2 120.5h0M391.3 127.8h0M395.6 81.6h0M395.8 129.6h0M395.5 61.7h0M387.9 140.7h0M391.1 98.4h0M393.0 62.2h0M393.9 103.8h0M417.9 116.2h0M392.1 87.5h0M390.2 127.2h0M396.1 133.8h0M408.9 127.2h0M390.1 125.2h0M388.3 138.3h0M424.7 142.6h0M394.6 69.2h0M396.5 134.3h0M426.1 81.5h0M389.8 130.0h0M392.8 65.7h0M394.9 121.8h0M392.7 110.6h0M389.4 136.6h0M390.8 107.7h0M406.6 85.4h0M401.1 143.4h0M389.7 127.2h0M391.5 69.1h0M394.4 99.4h0M390.2 114.5h0M400.1 61.0h0M411.6 58.2h0M390.0 139.2h0M391.7 76.7h0M390.2 136.9h0M387.7 113.9h0M397.4 141.9h0M399.3 73.6h0M401.4 122.3h0M391.8 84.4h0M389.4 109.8h0M406.4 108.2h0M406.9 54.9h0M402.0 78.7h0M391.7 104.3h0M407.0 106.7h0M401.4 87.8h0M388.3 127.6h0M389.5 135.7h0M389.9 103.5h0M387.7 144.6h0M400.6 144.8h0M389.3 142.1h0M397.8 143.7h0M435.9 123.0h0M388.4 121.8h0M389.5 122.6h0M413.8 133.9h0M389.0 119.2h0M401.1 80.2h0M438.8 135.9h0M388.8 124.3h0M391.0 133.0h0M401.7 112.8h0M389.2 131.5h0M408.1 104.3h0M388.6 114.1h0M392.2 141.4h0M393.5 126.4h0M391.4 127.5h0M389.8 140.3h0M413.1 134.2h0M389.5 123.5h0M388.2 144.9h0M390.4 131.7h0M389.4 91.0h0M404.6 85.5h0M396.2 95.9h0M407.6 103.1h0M409.6 113.3h0M395.2 141.5h0M413.7 89.3h0M398.4 123.2h0M395.0 120.5h0M392.8 88.9h0M391.4 113.9h0M391.7 142.0h0M388.2 137.7h0M406.7 103.1h0M392.4 89.7h0M407.9 41.4h0M432.4 120.6h0M390.4 82.7h0M400.5 133.8h0M394.9 119.1h0M427.6 104.1h0M394.4 89.3h0M417.9 120.3h0M389.1 143.9h0M393.6 60.5h0M390.3 140.7h0M389.5 105.2h0M391.9 71.0h0M388.3 122.7h0M396.7 66.0h0M420.2 107.4h0M394.4 136.0h0M391.5 85.7h0M387.9 138.7h0M401.1 128.3h0M389.6 136.3h0M390.0 102.6h0M399.3 141.3h0M394.4 118.4h0M394.8 135.6h0M393.3 133.0h0M408.2 144.8h0M389.7 112.6h0M412.1 80.0h0M408.1 126.0h0M418.3 64.6h0M411.9 138.9h0M389.0 103.9h0M389.9 134.0h0M427.9 88.7h0M388.7 98.7h0M398.9 93.6h0M404.1 130.7h0M391.4 128.0h0M393.6 119.2h0M392.3 134.5h0M388.4 140.5h0M413.9 132.3h0M395.5 90.5h0M397.2 121.2h0M402.5 110.6h0M393.0 125.6h0M393.3 130.2h0M401.7 113.5h0M392.5 104.0h0M393.9 99.2h0M392.3 141.2h0M388.4 135.3h0M400.0 132.3h0M389.1 96.7h0M394.3 137.9h0M396.8 141.1h0M393.4 120.1h0M388.0 143.2h0M390.6 135.7h0M393.5 68.8h0M419.9 141.0h0M391.2 105.9h0M389.0 115.4h0M415.8 112.2h0M394.0 95.6h0M395.2 99.8h0M437.9 139.6h0M398.7 141.3h0M392.8 87.5h0M393.9 117.9h0M395.7 95.5h0M388.4 144.2h0M389.1 97.0h0M388.1 138.4h0M388.2 128.9h0M403.2 120.9h0M389.6 127.1h0M390.9 139.9h0M390.8 134.5h0M389.9 93.0h0M398.5 143.6h0M390.7 123.7h0M427.4 85.1h0M391.4 141.2h0M388.0 124.9h0M403.5 92.0h0M425.3 130.1h0M391.4 83.9h0M394.2 101.1h0M398.9 130.7h0M389.1 85.7h0M388.3 121.4h0M387.6 127.9h0M389.6 136.0h0M391.5 66.6h0M389.3 133.7h0M401.1 88.3h0M392.8 125.9h0M392.6 120.1h0M404.4 109.5h0M388.5 129.7h0M399.0 110.1h0M390.1 103.6h0M393.7 79.5h0M410.7 95.6h0M402.0 120.3h0M392.0 128.4h0M390.0 136.7h0M390.4 105.5h0M441.2 115.1h0M411.8 134.8h0M441.1 99.1h0M396.8 131.8h0M394.7 103.1h0M405.9 139.1h0M388.9 90.8h0M402.8 60.6h0M391.7 119.9h0M399.1 75.6h0M410.7 119.5h0M436.5 127.9h0M399.4 131.4h0M392.2 130.6h0M403.7 95.7h0M416.2 76.9h0M394.1 142.6h0M394.2 144.5h0M391.2 139.8h0M405.5 128.5h0M392.9 134.0h0M392.8 101.1h0M388.4 101.3h0M400.8 133.2h0M390.1 103.9h0M388.9 130.6h0M399.3 131.8h0M395.8 101.6h0M387.9 142.6h0M393.5 143.8h0M393.1 93.8h0M419.9 130.4h0M398.2 101.6h0M397.8 132.8h0M423.5 124.2h0M387.8 117.2h0M439.7 128.1h0M389.2 125.1h0M393.0 145.1h0M395.2 81.5h0M402.5 64.2h0M399.8 114.0h0M393.5 142.9h0M389.8 109.1h0M393.0 110.2h0M398.4 112.8h0M412.7 115.3h0M387.9 122.7h0M409.5 95.9h0M404.5 84.9h0M408.3 122.8h0M398.2 144.7h0M389.0 119.5h0M392.5 96.4h0M395.7 122.3h0M389.2 102.9h0M388.8 129.6h0M392.0 117.8h0M392.3 138.0h0M391.2 129.2h0M390.1 135.8h0M390.2 111.5h0M393.1 138.2h0M403.6 122.1h0M394.8 76.3h0M393.2 142.0h0M395.8 144.3h0M395.2 132.3h0M389.7 100.6h0M416.7 129.6h0M394.6 105.9h0M391.8 128.2h0M392.9 85.5h0M389.6 115.0h0M393.3 89.2h0M390.9 119.3h0M400.8 124.5h0M398.9 135.4h0M394.7 144.4h0M410.5 71.7h0M416.4 77.1h0M394.1 131.7h0M391.3 142.8h0M427.2 140.1h0M433.7 82.9h0M389.8 127.3h0M395.1 102.0h0M390.0 143.7h0M396.4 145.1h0M390.0 100.8h0M389.0 135.6h0M390.3 124.6h0M399.4 111.1h0M392.2 96.7h0M392.6 100.1h0M390.8 138.8h0M391.0 93.2h0M410.2 143.5h0M397.8 93.9h0M395.3 134.0h0M409.2 138.5h0M389.9 141.4h0M389.6 142.6h0M391.1 109.2h0M389.2 137.9h0M404.7 120.5h0M392.1 129.8h0M397.7 98.2h0M387.7 122.6h0M395.7 112.1h0M391.4 143.7h0M387.9 140.6h0M420.7 121.1h0M388.0 132.7h0M394.0 84.5h0M397.3 76.3h0M402.9 112.9h0M391.5 125.6h0M391.7 100.5h0M402.5 79.6h0M392.5 121.1h0M393.1 127.5h0M407.5 109.7h0M394.3 87.7h0M409.4 111.7h0M389.7 143.3h0M418.7 120.2h0M423.8 130.5h0M391.8 108.9h0M400.0 100.1h0M399.2 132.8h0M397.2 106.3h0M388.7 127.4h0M388.4 123.7h0M431.4 121.0h0M399.2 121.2h0M400.6 132.8h0M394.6 95.6h0M388.5 133.9h0M395.6 139.3h0M391.8 106.9h0M402.2 82.2h0M407.5 79.7h0M401.4 144.0h0M398.7 140.2h0M398.0 77.0h0M401.5 121.9h0M396.8 137.9h0M393.0 93.1h0M407.6 114.8h0M397.1 74.1h0M398.4 130.3h0M393.8 141.5h0M396.4 110.0h0M393.3 143.0h0M391.8 142.2h0M389.1 139.2h0M396.9 84.5h0M411.6 114.1h0M395.1 141.1h0M392.2 121.4h0M408.1 137.5h0M418.8 77.0h0M401.2 142.4h0M388.1 130.5h0M398.5 116.4h0M388.0 133.3h0M389.2 137.8h0M393.5 97.0h0M398.9 126.5h0M430.2 110.8h0M394.7 81.5h0M397.0 68.4h0M406.9 137.8h0M393.5 134.0h0M401.1 116.7h0M391.8 134.5h0M396.2 133.0h0M392.1 136.3h0M388.0 114.7h0M395.9 95.3h0M393.5 113.1h0M392.7 121.4h0M393.6 90.9h0M391.9 135.0h0M409.6 112.6h0M398.0 144.1h0M401.7 141.6h0M393.5 77.2h0M389.7 101.6h0M401.4 144.5h0M469.7 123.6h0M388.4 122.3h0M392.3 65.3h0M388.4 118.5h0M388.3 114.1h0M395.7 107.9h0M401.0 133.5h0M394.6 118.2h0M394.5 138.4h0M392.2 138.6h0M390.6 130.2h0M458.1 136.4h0M393.7 112.5h0M392.2 143.2h0M388.6 96.0h0M388.6 133.8h0M414.7 121.0h0M412.7 93.0h0M390.3 141.8h0M394.2 103.7h0M407.0 139.9h0M414.5 132.6h0M389.7 129.3h0M391.1 130.7h0M394.1 97.7h0M388.9 139.0h0M388.6 112.2h0M401.8 79.5h0M397.8 79.8h0M405.7 114.4h0M404.5 113.5h0M424.4 134.1h0M409.1 84.2h0M422.7 96.0h0M396.6 125.2h0M389.4 103.5h0M398.0 113.3h0M405.3 110.9h0M390.2 141.4h0M394.9 145.1h0M388.5 119.4h0M388.9 128.6h0M395.0 128.5h0M400.0 84.4h0M398.3 117.8h0M389.3 108.7h0M391.2 143.5h0M401.0 114.2h0M397.2 126.1h0M400.5 134.0h0M393.7 143.9h0M395.8 123.3h0M407.2 45.9h0M390.8 118.7h0M392.2 130.7h0M390.9 130.2h0M392.3 122.1h0M396.9 124.7h0M389.9 118.4h0M389.2 91.6h0M410.6 114.2h0M398.1 117.3h0M410.0 73.3h0M394.1 130.3h0M391.2 128.2h0M388.6 142.1h0M410.2 106.9h0M399.1 86.5h0M400.9 142.7h0M395.5 79.1h0M391.2 77.2h0M393.3 95.8h0M398.7 143.7h0M400.3 130.3h0M404.7 95.3h0M393.1 132.7h0M393.1 118.0h0M391.1 131.7h0M392.9 112.6h0M398.3 53.6h0M394.4 102.1h0M391.5 144.4h0M399.7 73.3h0M402.2 109.6h0M393.0 94.0h0M406.3 129.4h0M411.3 99.2h0M392.1 108.2h0M395.3 131.2h0M409.1 132.9h0M394.9 125.1h0M394.8 88.5h0M394.3 81.5h0M389.5 103.7h0M392.2 60.1h0M391.0 73.8h0M391.3 88.6h0M420.8 81.7h0M390.8 107.1h0M389.4 128.9h0M409.8 126.1h0M388.3 126.6h0M411.7 136.0h0M406.0 63.7h0M390.3 121.9h0M410.6 130.0h0M389.1 128.9h0M408.6 90.9h0M389.4 133.7h0M404.9 109.7h0M391.7 138.9h0M392.6 125.4h0M390.3 83.5h0M391.8 139.8h0M401.0 137.5h0M409.1 126.5h0M400.1 91.4h0M408.0 136.8h0M396.4 68.6h0M388.6 142.9h0M397.2 74.5h0M407.5 122.5h0M391.4 95.3h0M389.7 123.0h0M390.0 127.1h0M427.3 117.1h0M392.1 89.6h0M405.8 116.8h0M406.1 122.4h0M407.8 128.0h0M396.8 144.9h0M432.4 134.7h0M395.0 90.5h0M392.5 131.8h0M391.9 129.6h0M388.3 121.8h0M398.9 111.7h0M396.0 136.3h0M396.8 116.0h0M393.8 71.8h0M411.6 136.8h0M406.1 96.5h0M389.5 116.4h0M388.8 131.7h0M392.3 130.6h0M388.3 106.0h0M392.5 137.1h0M399.1 76.3h0M389.3 112.5h0M388.6 111.0h0M390.0 119.4h0M388.3 132.6h0M391.8 112.9h0M395.8 104.4h0M389.0 141.8h0M387.8 122.6h0M442.2 128.5h0M387.6 136.0h0M400.6 108.9h0M398.9 119.7h0M396.9 108.3h0M399.5 141.7h0M397.1 114.9h0M429.6 140.4h0M410.9 131.1h0M389.2 116.6h0M412.7 99.8h0M391.3 76.6h0M387.9 139.4h0M392.9 80.3h0M391.9 127.1h0M397.0 91.7h0M406.6 87.8h0M389.0 103.6h0M397.7 113.6h0M411.2 118.3h0M425.7 96.3h0M389.0 111.0h0M399.6 134.2h0M403.7 77.6h0M395.0 108.0h0M397.0 135.1h0M393.3 100.7h0M388.2 115.3h0M396.0 93.3h0M390.7 118.0h0M395.6 142.0h0M390.6 132.0h0M410.8 97.9h0M396.5 139.3h0M392.7 138.8h0M415.3 102.1h0M395.8 103.7h0M389.8 143.6h0M388.3 113.6h0M408.5 77.6h0M395.7 120.2h0M403.5 128.3h0M390.6 128.5h0M393.9 78.5h0M401.6 74.2h0M395.3 66.6h0M388.8 128.5h0M393.8 113.2h0M402.7 120.9h0M404.3 90.0h0M399.1 109.0h0M389.8 140.3h0M390.9 106.3h0M433.2 123.4h0M387.7 109.3h0M389.8 104.3h0M395.7 144.4h0M388.1 135.9h0M394.6 107.5h0M400.6 98.0h0M407.2 78.2h0M400.3 120.6h0M390.5 131.6h0M389.5 126.9h0M390.0 128.7h0M396.7 113.4h0M395.0 138.8h0M389.1 136.2h0M410.5 93.3h0M396.1 121.4h0M390.8 108.4h0M389.6 131.8h0M391.1 137.1h0M388.4 129.4h0M391.7 123.6h0M392.4 59.3h0M408.9 116.0h0M394.4 132.8h0M416.0 127.8h0M388.4 139.2h0M391.0 137.2h0M447.2 120.6h0M388.4 131.5h0M392.3 117.4h0M389.3 134.8h0M390.4 75.4h0M388.7 133.3h0M390.2 119.5h0M389.3 88.9h0M396.4 139.4h0M417.0 100.0h0M406.9 88.7h0M415.7 83.0h0M392.1 130.7h0M399.4 110.8h0M399.7 144.2h0M390.6 86.8h0M391.6 108.7h0M388.1 112.6h0M392.8 62.0h0M395.8 111.7h0M413.7 47.4h0M387.7 119.4h0M395.0 144.2h0M392.1 112.2h0M389.2 118.8h0M416.8 93.0h0M392.2 145.1h0M406.7 107.5h0M390.0 94.1h0M425.4 79.4h0M397.1 138.2h0M393.5 126.1h0M401.4 77.1h0M394.5 75.2h0M396.2 81.2h0M395.4 145.0h0M391.6 100.3h0M394.5 109.5h0M394.3 104.0h0M389.0 120.6h0M395.5 142.1h0M394.8 130.9h0M403.2 99.6h0M393.2 142.4h0M392.2 105.3h0M388.7 120.6h0M401.5 142.2h0M426.8 113.2h0M388.2 119.9h0M454.4 127.1h0M389.7 143.1h0M395.4 53.5h0M399.7 122.1h0M396.7 126.8h0M418.3 101.5h0M397.6 124.1h0M395.1 143.1h0M393.6 115.1h0M389.6 142.8h0M389.6 103.6h0M444.0 127.2h0M405.4 80.6h0M422.3 121.6h0M445.4 123.7h0M389.1 116.1h0M397.8 111.4h0M393.4 64.7h0M401.8 128.7h0M389.5 121.3h0M393.9 145.1h0M398.1 92.5h0M391.1 123.4h0M402.4 125.8h0M394.8 106.6h0M395.9 76.5h0M388.7 126.1h0M390.3 125.0h0M396.8 99.3h0M408.9 118.8h0M401.2 141.4h0M422.8 123.0h0M407.3 121.3h0M390.5 105.8h0M391.7 111.2h0M394.5 113.7h0M399.5 128.6h0M403.9 119.5h0M421.1 109.0h0M395.0 112.8h0M401.0 125.9h0M410.3 95.6h0M409.3 121.5h0M387.8 134.8h0M391.5 107.9h0M389.4 128.5h0M397.8 79.5h0M404.9 138.0h0M392.7 56.5h0M393.8 65.5h0M396.7 124.6h0M413.4 93.7h0M390.6 135.0h0M391.2 106.6h0M394.8 129.3h0M388.2 122.8h0M393.8 122.4h0M393.4 127.6h0M403.4 116.7h0M397.2 123.3h0M395.2 135.5h0M390.0 140.8h0M388.0 109.8h0M406.6 111.8h0M390.0 142.6h0M389.8 98.9h0M407.9 117.4h0M396.3 81.7h0M393.0 138.1h0M403.9 138.7h0M405.7 104.7h0M393.0 121.7h0M410.9 137.7h0M399.5 133.0h0M437.6 136.9h0M396.9 66.7h0M391.8 134.7h0M397.6 135.8h0M390.1 133.5h0M401.9 119.2h0M401.0 141.5h0M393.8 117.7h0M399.8 103.0h0M406.0 137.0h0M391.3 122.3h0M391.6 120.1h0M389.0 136.1h0M390.0 111.9h0M410.8 143.7h0M399.4 143.6h0M395.4 54.7h0M394.8 126.6h0M398.9 137.6h0M391.3 138.7h0M388.8 128.3h0M391.0 131.5h0M401.8 114.9h0M406.0 81.4h0M390.3 143.7h0M389.2 141.4h0M395.0 137.9h0M396.4 134.8h0M392.3 141.0h0M389.5 107.1h0M405.3 68.2h0M394.9 134.4h0M390.5 131.2h0M400.1 120.6h0M398.3 131.1h0M393.5 122.5h0M390.0 79.6h0M389.2 129.8h0M442.6 139.9h0M388.3 135.8h0M414.4 127.8h0M389.2 135.0h0M393.7 61.3h0M397.9 117.0h0M391.3 131.0h0M394.2 126.6h0M388.9 94.5h0M395.6 103.8h0M388.6 106.5h0M399.1 141.2h0M395.8 125.5h0M411.0 122.8h0M388.8 101.9h0M394.9 111.5h0M418.5 97.3h0M398.3 76.0h0M399.4 87.8h0M413.2 133.6h0M388.9 138.5h0M390.0 140.7h0M414.5 127.2h0M439.5 136.8h0M391.8 105.8h0M389.4 117.4h0M402.1 100.4h0M389.5 105.6h0M387.6 128.9h0M400.1 70.8h0M394.7 140.4h0M389.3 122.1h0M387.9 115.0h0M395.4 112.3h0M394.5 110.5h0M393.8 141.1h0M394.1 90.8h0M402.6 61.6h0M396.6 86.6h0M391.1 115.8h0M394.5 97.5h0M402.8 99.2h0M398.7 139.0h0M388.2 135.7h0M400.0 98.3h0M407.1 120.8h0M414.2 122.4h0M418.9 105.1h0M395.4 137.5h0M433.2 95.6h0M389.0 128.8h0M413.7 88.0h0M420.0 138.0h0M403.4 130.4h0M393.9 129.5h0M400.3 119.8h0M390.5 114.6h0M406.1 101.9h0M398.1 134.0h0M396.0 78.5h0M399.4 58.2h0M412.7 123.6h0M388.3 127.2h0M398.0 70.9h0M433.6 144.0h0M393.8 142.8h0M409.7 94.2h0M413.5 122.1h0M397.8 119.4h0M393.3 141.3h0M406.0 92.1h0M389.1 126.2h0M393.0 94.4h0M392.1 143.5h0M393.7 119.4h0M388.2 143.9h0M400.5 91.0h0M393.4 109.3h0M404.5 142.2h0M396.7 101.1h0M395.6 98.3h0M404.0 119.5h0M398.4 140.2h0M405.2 116.5h0M389.8 106.6h0M398.5 121.8h0M391.9 111.2h0M391.9 137.9h0M391.5 80.3h0M408.0 98.9h0M391.2 141.6h0M392.5 139.9h0M414.1 106.3h0M402.9 112.5h0M397.6 134.8h0M404.8 105.7h0M403.0 116.3h0M392.7 69.5h0M389.6 99.6h0M388.4 140.4h0M397.4 87.5h0M393.1 143.2h0M406.8 130.6h0M389.1 140.0h0M388.5 116.1h0M394.6 99.3h0M395.7 85.3h0M395.9 94.8h0M390.1 140.6h0M388.6 113.4h0M418.1 97.6h0M392.5 115.2h0M415.1 121.2h0M389.7 82.9h0M398.2 133.6h0M393.6 108.2h0M388.3 119.9h0M391.1 139.2h0M389.5 83.8h0M417.1 113.1h0M392.5 124.4h0M388.8 104.9h0M391.1 87.3h0M390.9 115.1h0M392.8 130.2h0M390.6 138.5h0M426.1 136.4h0M412.9 136.8h0M389.0 133.8h0M399.6 127.0h0M388.6 133.9h0M388.5 116.3h0M390.3 137.3h0M391.4 135.1h0M395.8 129.4h0M389.7 77.4h0M418.7 114.8h0M390.7 125.0h0M408.2 128.5h0M415.1 90.6h0M391.5 138.4h0M388.5 99.5h0M409.2 121.6h0M406.9 142.3h0M391.0 87.8h0M397.9 128.6h0M388.5 139.5h0M392.9 140.0h0M392.6 136.1h0M390.5 106.4h0M393.0 77.5h0M411.0 66.2h0M389.3 122.3h0M390.0 133.6h0M388.1 135.0h0M388.5 138.1h0M401.8 104.8h0M388.1 116.4h0M394.6 132.7h0M434.6 118.0h0M401.8 142.9h0M389.9 84.2h0M390.0 108.2h0M392.0 126.3h0M391.1 124.4h0M419.8 119.1h0M451.8 118.4h0M400.9 126.9h0M393.8 126.4h0M392.1 113.2h0M388.4 142.1h0M393.6 108.2h0M390.5 112.3h0M391.8 127.9h0M398.1 106.5h0M427.7 79.3h0M388.7 115.2h0M398.6 131.6h0M402.6 124.8h0M396.7 143.0h0M412.2 53.2h0M388.0 103.0h0M439.7 126.8h0M400.0 124.4h0M390.1 140.7h0M390.7 77.1h0M388.2 111.8h0M393.5 117.2h0M389.5 113.8h0M398.0 121.6h0M434.6 141.3h0M390.2 140.1h0M396.2 130.1h0M390.3 117.1h0M401.4 104.8h0M428.3 139.2h0M417.8 97.3h0M390.9 115.1h0M389.0 127.7h0M389.6 97.7h0M400.3 125.5h0M394.3 110.7h0M402.1 69.2h0M427.8 91.5h0M393.3 89.0h0M390.0 118.8h0M395.3 144.7h0M392.7 87.1h0M392.1 78.4h0M396.4 143.5h0M395.7 143.7h0M389.0 127.3h0M391.7 66.5h0M403.9 141.7h0M388.0 142.2h0M391.0 106.0h0M389.3 142.6h0M396.3 134.0h0M388.7 126.3h0M389.5 110.8h0M393.0 134.3h0M409.9 99.1h0M391.6 86.0h0M405.1 60.4h0M412.1 67.9h0M395.9 107.1h0M388.2 108.3h0M426.2 78.5h0M389.1 118.0h0M416.6 131.9h0M417.9 141.8h0M388.2 137.8h0M391.6 93.4h0M395.9 137.2h0M388.7 102.2h0M391.2 124.1h0M400.2 135.0h0M393.3 66.9h0M413.6 121.7h0M418.6 118.0h0M393.5 94.2h0M392.9 131.4h0M425.2 94.1h0M399.7 120.2h0M403.0 62.7h0M388.2 144.9h0M412.1 132.4h0M390.7 144.4h0M391.8 123.6h0M423.6 88.0h0M424.8 125.8h0M402.3 96.6h0M400.0 142.3h0M396.3 93.2h0M401.0 125.9h0M401.7 87.4h0M398.5 141.1h0M396.8 98.0h0M391.3 139.5h0M388.7 97.4h0M437.8 125.9h0M393.1 120.8h0M391.5 86.5h0M388.4 144.6h0M410.5 88.0h0M391.5 130.7h0M417.2 127.4h0M404.1 97.7h0M389.3 132.4h0M404.9 111.1h0M407.7 136.8h0M391.6 93.9h0M412.8 85.0h0M387.8 133.4h0M388.8 106.8h0M391.1 74.8h0M407.4 136.8h0M454.0 114.8h0M387.9 106.5h0M390.9 120.5h0M390.3 113.3h0M390.4 133.8h0M388.2 131.7h0M402.1 92.1h0M397.1 121.6h0M395.1 114.0h0M390.9 113.0h0M392.8 142.7h0M393.2 103.9h0M394.2 58.0h0M401.1 129.4h0M390.1 120.6h0M393.0 144.4h0M388.7 100.1h0M396.3 73.1h0M404.2 139.1h0M392.6 110.4h0M410.2 135.2h0M401.6 97.8h0M393.8 140.4h0M399.3 38.2h0M398.7 126.6h0M431.8 125.2h0M393.0 122.5h0M393.3 109.4h0M403.7 119.3h0M391.5 132.3h0M403.9 113.9h0M390.6 141.8h0M390.7 122.4h0M395.8 92.2h0M389.9 131.0h0M390.4 112.0h0M405.0 79.6h0M393.2 144.0h0M393.9 136.5h0M388.7 114.0h0M390.1 98.6h0M390.7 141.0h0M391.4 111.8h0M388.3 134.4h0M391.1 126.8h0M391.2 112.3h0M396.2 131.2h0M388.9 112.0h0M389.6 111.8h0M399.9 139.9h0M409.5 110.8h0M396.1 101.2h0M400.0 93.5h0M388.3 143.0h0M389.7 128.8h0M388.2 139.2h0M410.9 139.6h0M389.7 136.9h0M404.2 139.3h0M389.2 90.2h0M392.9 140.7h0M388.5 140.2h0M389.2 136.6h0M393.6 140.8h0M413.2 125.4h0M388.7 139.9h0M394.4 118.8h0M393.2 140.0h0M390.5 138.0h0M390.9 78.0h0M417.4 136.2h0M393.5 140.9h0M392.0 138.2h0M407.0 130.1h0M396.4 57.4h0M408.4 112.6h0M390.7 141.4h0M420.5 129.2h0M396.2 140.2h0M391.2 121.4h0M399.9 132.7h0M393.9 138.3h0M413.4 93.7h0M409.9 101.5h0M392.2 125.2h0M394.6 95.4h0M398.2 100.3h0M390.1 124.4h0M390.9 109.7h0M398.2 90.6h0M395.7 125.6h0M398.2 67.1h0M389.2 134.3h0M398.9 139.3h0M390.4 119.7h0M396.0 75.8h0M401.9 98.8h0M402.0 132.9h0M392.7 100.0h0M391.5 85.8h0M396.1 128.3h0M435.6 139.0h0M410.2 70.0h0M389.1 141.8h0M395.9 108.4h0M390.8 94.4h0M392.2 101.2h0M429.5 139.6h0M391.6 142.1h0M388.5 105.0h0M388.7 133.1h0M406.0 120.7h0M391.6 131.2h0M393.8 101.8h0M392.5 103.2h0M399.1 137.1h0M395.9 99.5h0M402.4 128.3h0M392.3 130.1h0M409.2 105.0h0M391.9 108.8h0M407.6 92.9h0M396.4 142.0h0M434.4 118.3h0M402.4 108.6h0M387.7 109.8h0M390.8 145.1h0M393.2 123.8h0M398.2 89.2h0M390.9 117.2h0M395.8 123.0h0M391.3 118.8h0M395.1 109.8h0M389.2 103.6h0M387.6 137.7h0M404.0 95.1h0M394.0 121.7h0M399.0 143.7h0M389.9 144.0h0M393.5 125.6h0M415.1 140.6h0M395.3 111.1h0M390.5 106.9h0M399.4 128.5h0M391.8 123.3h0M388.7 138.1h0M412.6 92.6h0M401.2 112.7h0M402.1 121.3h0M390.9 125.1h0M388.9 95.7h0M411.7 54.1h0M393.3 137.2h0M391.9 134.1h0M400.4 111.8h0M411.3 91.5h0M404.3 89.6h0M438.0 114.1h0M388.2 126.3h0M390.2 125.6h0M389.7 120.5h0M389.6 135.6h0M392.8 67.4h0M397.4 134.1h0M388.8 143.0h0M399.7 143.7h0M400.8 122.5h0M391.5 93.1h0M391.2 133.1h0M415.2 93.6h0M395.4 105.7h0M412.4 124.7h0M451.1 133.2h0M395.3 104.2h0M389.6 128.2h0M391.1 100.6h0M393.0 67.1h0M393.7 116.8h0M392.3 103.2h0M400.2 136.4h0M391.1 99.8h0M395.3 137.7h0M409.4 117.1h0M400.1 102.0h0M388.1 138.4h0M398.6 110.2h0M430.8 125.0h0M393.6 106.4h0M427.9 131.0h0M398.6 116.6h0M389.4 111.5h0M455.3 106.8h0M406.8 142.1h0M389.6 107.8h0M419.2 135.2h0M400.9 142.2h0M390.7 82.3h0M394.6 109.8h0M394.2 93.6h0M401.5 143.6h0M401.6 127.3h0M388.7 110.1h0M404.9 126.8h0M389.1 141.8h0M394.9 119.9h0M419.3 110.5h0M389.3 138.4h0M396.1 137.9h0M397.3 131.5h0M388.9 88.1h0M390.3 136.7h0M398.7 87.5h0M392.6 133.0h0M394.4 93.8h0M393.0 135.6h0M391.5 138.5h0M400.6 133.2h0M406.2 120.1h0M397.1 142.0h0M395.8 104.9h0M387.7 135.1h0M390.3 126.3h0M395.3 124.6h0M408.3 95.9h0M389.5 143.0h0M404.4 134.1h0M394.3 114.8h0M421.2 140.8h0M414.7 123.6h0M395.0 104.8h0M387.7 108.9h0M393.7 71.8h0M391.7 141.6h0M396.6 119.1h0M410.9 137.3h0M430.4 139.5h0M393.9 125.6h0M413.2 101.4h0M407.5 109.3h0M393.5 122.2h0M394.0 74.8h0M393.9 64.6h0M391.4 141.4h0M395.4 127.9h0M388.3 128.1h0M389.7 116.1h0M393.3 112.6h0M390.9 133.6h0M390.4 83.1h0M400.3 127.7h0M406.8 119.8h0M401.1 105.8h0M416.3 132.9h0M396.1 136.7h0M391.6 129.7h0M388.1 122.7h0M395.3 116.6h0M407.0 122.8h0M399.7 123.2h0M388.8 139.3h0M390.4 136.5h0M388.8 95.9h0M389.3 95.2h0M396.0 83.2h0M398.0 103.5h0M392.5 105.4h0M392.1 130.8h0M419.0 100.0h0M405.5 92.1h0M395.2 95.7h0M392.8 144.4h0M403.9 104.0h0M389.0 110.8h0M389.2 97.1h0M391.6 134.8h0M393.1 131.3h0M397.8 47.5h0M390.0 94.7h0M396.7 111.1h0M393.4 99.0h0M394.3 141.2h0M401.1 142.3h0M404.1 110.6h0M389.6 137.5h0M389.5 135.8h0M389.7 112.4h0M404.4 92.6h0M388.7 116.8h0M392.6 123.3h0M404.7 116.9h0M388.5 140.9h0M391.4 117.4h0M402.1 118.2h0M388.5 114.2h0M412.6 110.7h0M388.3 119.6h0M401.0 144.1h0M388.1 132.8h0M391.6 126.8h0M411.5 86.2h0M390.8 143.1h0M429.8 97.4h0M392.2 144.4h0M398.0 136.6h0M390.1 117.2h0M391.4 132.9h0M401.0 100.7h0M389.6 132.2h0M395.9 106.5h0M389.0 144.6h0M388.9 118.9h0M417.6 127.6h0M396.8 135.7h0M396.7 128.6h0M389.6 135.4h0M391.0 77.9h0M389.7 108.3h0M395.5 140.7h0M388.9 136.9h0M409.7 80.1h0M395.9 141.0h0M390.0 74.1h0M389.1 140.9h0M431.0 133.9h0M390.8 129.9h0M389.2 90.3h0M395.1 142.8h0M396.2 131.8h0M397.2 143.9h0M393.9 104.4h0M397.9 124.0h0M450.6 135.0h0M412.1 100.4h0M390.7 105.4h0M406.0 136.9h0M391.1 125.7h0M398.3 68.4h0M389.8 138.8h0M388.0 141.0h0M423.6 140.6h0M388.0 127.0h0M402.4 93.9h0M388.3 113.6h0M394.4 106.7h0M388.3 145.1h0M391.8 77.5h0M400.6 85.9h0M394.0 120.9h0M416.5 123.0h0M396.8 125.5h0M393.3 93.1h0M408.7 123.9h0M387.8 136.2h0M389.4 109.7h0M398.6 117.4h0M390.7 77.6h0M394.1 101.7h0M391.6 128.0h0M414.3 127.9h0M403.8 79.6h0M393.4 93.4h0M397.5 117.1h0M388.4 122.1h0M399.3 129.7h0M393.9 126.9h0M393.5 108.6h0M452.4 126.2h0M395.8 118.3h0M426.9 106.8h0M394.0 116.7h0M401.9 123.8h0M409.4 139.2h0M417.2 131.6h0M388.8 117.6h0M392.9 112.3h0M391.7 115.0h0M389.7 125.4h0M406.1 121.0h0M402.8 141.2h0M399.7 99.6h0M392.5 145.0h0M398.5 109.7h0M402.8 86.0h0M399.6 102.1h0M428.4 132.5h0M391.3 134.8h0M397.2 67.6h0M390.5 126.4h0M399.7 90.4h0M391.5 123.6h0M400.7 137.2h0M400.2 81.1h0M391.3 118.0h0M393.3 143.2h0M392.4 123.0h0M396.0 71.9h0M410.8 102.6h0M394.6 142.4h0M392.0 81.3h0M388.5 131.3h0M390.4 98.0h0M388.3 107.6h0M415.9 78.8h0M389.5 137.1h0M405.1 83.8h0M402.2 104.5h0M409.8 86.0h0M390.0 97.2h0M399.6 143.2h0M391.9 134.0h0M389.3 135.3h0M393.6 143.1h0M403.2 104.4h0M390.8 135.5h0M391.7 89.8h0M388.5 143.4h0M389.2 126.3h0M397.8 123.9h0M392.9 96.0h0M388.9 134.7h0M407.1 115.3h0M392.4 88.9h0M405.7 128.2h0M391.4 124.3h0M392.2 99.6h0M396.3 102.0h0M388.5 133.1h0M389.6 114.5h0M388.5 108.6h0M394.4 81.1h0M424.1 139.6h0M404.5 67.0h0M412.7 132.4h0M389.6 129.7h0M389.6 126.5h0M397.7 77.6h0M389.7 128.9h0M409.5 101.8h0M412.3 58.3h0M393.4 99.4h0M397.3 140.5h0M396.7 102.1h0M389.7 130.3h0M387.7 136.8h0M408.9 112.8h0M398.2 143.0h0M391.1 78.5h0M390.8 95.4h0M411.1 133.6h0M389.5 103.5h0M390.5 123.1h0M398.9 118.7h0M388.0 117.7h0M389.3 116.2h0M405.7 65.1h0M388.2 144.8h0M399.7 107.2h0M391.2 117.0h0M397.5 105.7h0M392.7 145.2h0M394.8 143.8h0M394.8 130.3h0M396.4 142.8h0M389.7 116.5h0M393.4 113.9h0M399.6 55.8h0M389.3 117.6h0M389.9 133.7h0M393.8 102.0h0M388.9 105.5h0M428.7 97.7h0M393.6 120.8h0M410.2 108.4h0M404.0 107.8h0M390.4 117.4h0M392.2 92.2h0M389.9 125.6h0M434.0 112.2h0M396.1 104.9h0M389.1 102.3h0M396.3 74.8h0M404.4 103.0h0M395.8 86.1h0M454.5 115.9h0M395.2 135.5h0M446.7 144.1h0M397.7 139.7h0M449.8 134.0h0M389.0 123.2h0M410.4 138.3h0M389.4 109.3h0M406.4 117.9h0M394.7 112.0h0M389.8 111.3h0M388.9 118.2h0M467.4 139.7h0M415.0 67.5h0M389.5 144.6h0M401.4 79.6h0M392.5 132.0h0M392.1 70.4h0M394.9 109.2h0M423.7 132.1h0M396.6 76.7h0M400.7 118.2h0M390.7 102.9h0M416.2 125.4h0M395.9 117.5h0M418.4 135.0h0M400.7 118.6h0M400.5 77.1h0M413.8 110.5h0M393.6 125.0h0M398.0 130.8h0M394.7 95.8h0M390.3 144.7h0M416.4 112.6h0M393.4 57.1h0M394.3 84.8h0M404.0 141.1h0M388.1 117.8h0M392.0 144.3h0M390.1 90.0h0M401.4 73.4h0M391.3 83.5h0M390.9 80.7h0M395.8 94.5h0M391.8 125.7h0M388.2 135.0h0M388.9 141.4h0M392.4 136.9h0M393.7 137.8h0M389.0 117.1h0M411.7 127.6h0M393.3 126.3h0M391.7 132.5h0M392.3 110.8h0M412.6 72.2h0M389.3 131.3h0M398.3 122.1h0M390.0 127.1h0M434.8 90.8h0M404.3 132.6h0M390.5 104.1h0M395.7 89.3h0M427.6 140.0h0M432.8 128.8h0M399.1 56.8h0M389.3 97.5h0M388.3 124.7h0M415.0 118.7h0M394.3 128.0h0M410.9 108.9h0M388.1 114.9h0M390.4 133.5h0M389.7 93.3h0M437.3 95.1h0M397.6 136.6h0M399.2 132.3h0M391.3 108.6h0M391.0 111.0h0M390.6 106.7h0M403.9 111.3h0M436.8 86.5h0M395.6 130.4h0M413.4 141.6h0M388.1 138.0h0M396.2 128.0h0M401.5 141.7h0M421.1 141.0h0M393.2 124.7h0M400.7 71.5h0M392.1 131.6h0M389.9 126.9h0M418.4 126.1h0M393.1 141.1h0M399.1 122.0h0M400.2 76.9h0M449.4 98.1h0M389.4 128.9h0M398.8 137.6h0M397.6 120.1h0M389.7 126.3h0M397.2 145.0h0M393.6 127.5h0M389.9 105.2h0M394.3 110.5h0M394.6 102.6h0M388.1 126.4h0M388.1 127.1h0M399.5 110.0h0M407.2 117.5h0M406.1 118.9h0M402.5 118.0h0M403.1 94.3h0M411.5 137.0h0M388.5 97.2h0M391.9 133.4h0M389.3 113.7h0M388.7 133.7h0M391.6 128.7h0M394.6 126.4h0M390.9 126.7h0M388.4 143.9h0M410.3 120.5h0M391.6 121.8h0M407.3 88.3h0M388.7 127.3h0M415.3 121.5h0M388.1 130.5h0M393.0 121.5h0M394.4 65.4h0M391.5 127.9h0M392.3 139.2h0M412.2 96.5h0M402.8 99.2h0M397.9 136.1h0M396.7 131.5h0M397.7 129.1h0M391.6 107.3h0M417.7 83.9h0M447.8 115.1h0M392.7 136.0h0M394.9 90.0h0M395.0 141.8h0M392.7 127.3h0M393.5 135.3h0M391.8 122.6h0M392.6 119.7h0M402.2 76.2h0M389.9 138.8h0M394.2 133.6h0M396.7 79.8h0M429.1 126.5h0M393.3 143.1h0M391.2 96.8h0M387.7 136.0h0M394.6 112.8h0M388.0 128.2h0M394.8 91.8h0M391.7 65.6h0M396.0 128.5h0M391.1 111.1h0M393.0 135.0h0M388.0 116.6h0M395.3 127.4h0M397.5 114.6h0M390.8 83.2h0M392.6 86.5h0M389.3 134.1h0M389.5 136.2h0M390.3 107.9h0M409.4 122.5h0M392.4 82.6h0M391.2 126.8h0M400.8 112.0h0M392.7 125.6h0M388.6 128.1h0M388.6 130.6h0M407.2 116.1h0M434.5 78.4h0M414.2 122.0h0M418.5 130.4h0M388.5 106.3h0M400.6 132.7h0M392.1 141.7h0M388.7 138.1h0M391.0 144.9h0M390.0 116.3h0M396.5 103.2h0M398.1 79.2h0M388.5 138.4h0M402.1 114.0h0M390.5 118.0h0M403.8 109.3h0M390.6 133.0h0M406.5 76.1h0M396.1 144.9h0M436.4 100.5h0M389.7 129.5h0M430.0 137.4h0M403.9 132.0h0M393.9 62.0h0M388.9 139.5h0M388.2 144.3h0M388.9 130.1h0M429.0 73.3h0M398.7 93.5h0M388.3 96.7h0M434.8 134.1h0M393.1 108.6h0M423.5 98.7h0M403.7 110.7h0M389.9 138.7h0M399.2 130.3h0M390.8 121.2h0M388.7 102.2h0M388.3 120.9h0M391.5 95.4h0M392.1 138.3h0M399.1 137.4h0M401.3 49.8h0M408.5 134.3h0M392.3 140.1h0M390.5 117.0h0M394.8 77.4h0M391.9 103.1h0M425.0 102.9h0M391.9 142.0h0M389.2 108.8h0M396.6 79.5h0M389.1 112.5h0M389.7 137.4h0M392.4 131.3h0M398.4 134.3h0M390.2 96.0h0M390.0 131.5h0M394.6 107.0h0M403.9 143.4h0M387.7 123.6h0M390.3 98.0h0M399.4 75.3h0M409.5 85.6h0M403.0 135.8h0M410.7 128.6h0M390.2 107.0h0M409.5 99.5h0M402.8 116.6h0M388.1 106.3h0M392.8 120.3h0M395.1 95.8h0M389.4 119.8h0M388.4 101.4h0M394.3 120.7h0M398.6 69.2h0M388.0 144.0h0M395.1 126.2h0M397.1 119.0h0M391.1 144.7h0M389.7 99.9h0M409.2 132.8h0M402.2 136.5h0M388.9 131.0h0M396.6 100.5h0M395.3 133.3h0M394.7 126.8h0M421.3 83.3h0M407.5 84.8h0M396.0 132.6h0M390.9 131.3h0M387.7 127.0h0M389.5 125.9h0M396.8 124.1h0M406.6 84.9h0M397.5 142.1h0M397.3 93.2h0M429.7 107.2h0M387.7 142.6h0M393.8 75.0h0M392.6 134.6h0M401.3 91.3h0M389.3 142.0h0M390.4 126.1h0M409.8 103.2h0M392.5 124.1h0M393.2 61.9h0M389.7 108.6h0M392.6 134.1h0M401.5 126.5h0M398.5 78.1h0M389.0 127.4h0M396.1 119.0h0M390.5 139.6h0M390.1 137.0h0M398.1 139.6h0M399.6 122.4h0M404.9 118.9h0M388.4 140.2h0M388.3 143.0h0M388.9 129.1h0M404.5 124.8h0M392.5 94.4h0M388.3 138.6h0M399.3 143.8h0M388.0 129.1h0M396.8 145.0h0M397.4 111.9h0M397.3 90.4h0M394.8 134.2h0M389.1 134.0h0M392.7 132.3h0M395.6 131.5h0M388.6 133.1h0M405.9 69.0h0M393.0 103.0h0M394.4 126.6h0M395.4 115.1h0M389.1 118.7h0M430.8 123.2h0M398.0 129.0h0M391.6 135.3h0M397.0 129.6h0M393.7 144.8h0M403.6 134.5h0M394.9 123.5h0M395.3 108.4h0M394.3 98.6h0M405.9 138.4h0M414.2 113.1h0M393.2 132.7h0M399.4 97.7h0M394.3 130.1h0M387.8 114.0h0M389.2 143.7h0M388.2 136.6h0M394.1 135.8h0M393.8 98.9h0M394.1 106.9h0M394.5 112.8h0M445.1 108.4h0M388.3 122.3h0M393.5 105.1h0M415.6 85.1h0M450.8 99.9h0M393.3 136.3h0M392.8 139.3h0M394.4 88.4h0M388.2 119.3h0M389.8 142.6h0M391.9 83.2h0M388.5 144.6h0M391.0 109.6h0M409.8 42.2h0M401.4 108.5h0M396.6 75.8h0M403.7 93.4h0M390.8 119.2h0M395.6 125.9h0M393.0 71.5h0M395.1 126.0h0M393.1 95.6h0M392.3 90.8h0M402.2 109.8h0M388.1 123.6h0M390.2 126.6h0M388.2 112.3h0M404.0 109.9h0M395.3 123.5h0M388.6 132.9h0M394.1 122.9h0M403.2 105.7h0M393.0 132.6h0M391.7 123.5h0M400.4 97.5h0M389.5 137.3h0M390.3 127.3h0M398.3 92.0h0M399.0 50.4h0M390.2 126.8h0M390.7 79.7h0M400.5 75.7h0M393.7 135.8h0M406.9 104.7h0M392.7 104.0h0M399.4 86.0h0M393.4 110.8h0M393.4 117.4h0M394.6 123.4h0M390.6 102.4h0M390.7 93.4h0M390.2 113.2h0M396.1 145.0h0M397.4 136.3h0M402.3 111.8h0M392.1 74.7h0M388.2 117.0h0M402.0 110.1h0M416.8 131.6h0M392.6 131.8h0M448.0 137.3h0M394.0 75.7h0M389.1 102.8h0M392.0 134.3h0M402.2 136.2h0M457.9 134.2h0M400.5 132.0h0M420.0 71.1h0M389.3 111.3h0M392.6 123.7h0M430.8 113.2h0M391.0 91.5h0M401.3 117.2h0M392.1 127.3h0M391.9 141.1h0M401.6 143.9h0M388.5 143.4h0M442.1 143.8h0M390.5 144.1h0M397.9 105.4h0M405.9 94.9h0M389.4 134.5h0M394.7 46.6h0M390.8 119.9h0M401.1 106.0h0M413.3 116.6h0M404.8 115.7h0M429.9 111.5h0M397.4 130.1h0M397.6 140.1h0M396.0 113.7h0M392.0 112.7h0M397.9 139.5h0M396.3 105.2h0M390.5 132.4h0M411.7 125.0h0M394.5 118.1h0M397.0 111.9h0M388.9 107.1h0M395.8 140.6h0M424.5 78.1h0M388.4 129.4h0M387.7 131.2h0M400.2 136.6h0M388.5 104.4h0M417.3 76.1h0M389.0 94.2h0M396.6 129.7h0M396.5 123.9h0M393.4 98.4h0M395.6 62.1h0M394.3 125.5h0M433.5 112.3h0M398.2 97.8h0M409.2 139.6h0M398.5 124.2h0M393.8 76.5h0M395.9 136.2h0M405.1 126.2h0M399.8 85.9h0M393.0 116.2h0M408.0 139.9h0M401.3 144.0h0M444.6 141.6h0M398.5 45.0h0M415.7 120.7h0M393.6 81.4h0M397.3 120.3h0M396.6 144.8h0M392.0 134.8h0M390.0 87.9h0M391.4 126.1h0M392.1 129.2h0M403.8 113.6h0M394.8 99.3h0M391.6 116.5h0M390.1 130.7h0M393.5 84.2h0M391.5 80.4h0M391.2 92.0h0M406.0 143.7h0M389.9 114.0h0M391.4 129.6h0M389.6 95.9h0M391.9 130.4h0M405.1 86.7h0M388.0 115.7h0M392.9 124.1h0M394.3 139.1h0M397.6 93.6h0M390.3 77.3h0M391.7 116.1h0M388.0 139.8h0M400.8 93.8h0M392.5 136.8h0M394.5 143.1h0M389.7 107.2h0M403.7 94.5h0M389.8 107.6h0M400.1 114.4h0M390.7 126.0h0M407.9 126.2h0M402.9 134.9h0M399.0 96.1h0M435.2 110.8h0M390.3 123.2h0M423.7 128.5h0M434.0 131.4h0M394.3 105.5h0M398.6 69.2h0M424.5 142.2h0M395.0 131.5h0M389.8 132.6h0M396.6 65.0h0M400.2 110.4h0M399.3 79.5h0M390.0 145.1h0M400.3 75.9h0M392.9 134.2h0M389.1 144.2h0M394.1 112.4h0M401.5 133.9h0M397.0 83.9h0M397.1 137.7h0M389.1 138.9h0M395.4 131.7h0M397.5 105.3h0M388.1 128.0h0M389.0 129.3h0M412.0 131.9h0M399.5 129.3h0M392.2 72.4h0M404.9 64.2h0M470.6 144.4h0M406.2 23.6h0M424.7 39.6h0M400.7 30.0h0M403.4 30.8h0" stroke="#8b1a1a" stroke-width="1.2" stroke-linecap="square" fill="none"/>
<path d="M383.2 149.0h0M384.1 164.9h0M382.2 160.4h0M382.5 138.5h0M382.2 152.6h0M375.1 158.5h0M383.8 160.3h0M378.4 150.6h0M382.7 156.8h0M380.2 157.3h0M381.5 145.4h0M382.3 135.1h0M379.6 153.5h0M381.4 123.8h0M376.0 145.9h0M382.3 150.8h0M381.4 139.3h0M381.0 143.5h0M379.3 164.5h0M374.0 154.3h0M370.5 152.4h0M382.5 153.2h0M377.4 161.8h0M374.6 156.6h0M376.2 155.3h0M382.2 130.5h0M382.0 144.5h0M382.9 164.3h0M382.0 139.4h0M383.0 155.8h0M374.6 156.1h0M381.2 130.0h0M360.0 147.2h0M381.1 114.2h0M382.3 143.4h0M381.5 128.8h0M378.3 154.7h0M378.9 148.2h0M375.2 156.5h0M383.0 141.5h0M382.9 160.7h0M382.8 155.0h0M382.4 145.2h0M383.0 150.7h0M381.8 131.7h0M384.1 163.8h0M381.4 127.9h0M371.2 161.1h0M382.3 131.4h0M381.6 132.3h0M380.5 158.1h0M380.9 146.3h0M381.4 132.5h0M381.4 122.0h0M381.1 155.8h0M383.1 144.8h0M371.9 150.1h0M379.6 147.1h0M383.9 164.2h0M377.8 147.3h0M380.8 122.3h0M383.0 164.0h0M382.8 142.3h0M378.8 151.7h0M382.9 147.7h0M380.2 159.1h0M380.3 153.9h0M379.0 163.6h0M377.3 152.5h0M382.7 152.2h0M374.5 156.0h0M383.5 163.0h0M382.3 150.9h0M379.6 159.6h0M380.5 146.2h0M383.3 162.1h0M374.1 148.8h0M383.6 159.8h0M382.0 142.7h0M380.9 135.8h0M371.7 157.3h0M381.9 145.4h0M381.0 139.4h0M382.7 142.6h0M383.9 162.7h0M380.4 158.6h0M378.4 157.6h0M379.1 150.9h0M381.6 139.5h0M378.7 147.1h0M382.6 139.8h0M366.7 161.6h0M381.8 124.4h0M381.9 155.8h0M381.5 140.2h0M382.4 135.0h0M382.3 136.0h0M381.9 156.3h0M382.3 151.3h0M382.1 132.7h0M383.7 154.4h0M382.4 136.2h0M380.8 139.5h0M373.9 152.6h0M383.2 163.1h0M383.2 159.1h0M379.5 160.5h0M377.1 159.2h0M381.9 127.3h0M383.1 159.5h0M381.7 140.5h0M380.3 155.4h0M381.4 155.3h0M382.7 159.0h0M381.9 148.8h0M376.1 151.4h0M382.9 157.0h0M383.5 160.4h0M382.3 136.2h0M375.2 145.3h0M383.2 160.1h0M381.2 158.3h0M382.3 161.1h0M382.5 139.2h0M382.5 133.9h0M376.2 160.0h0M382.0 137.2h0M380.9 144.6h0M375.1 147.6h0M381.9 143.7h0M384.0 162.2h0M381.7 131.6h0M380.6 161.1h0M381.3 133.0h0M382.4 134.6h0M376.0 152.6h0M368.6 151.4h0M382.4 138.3h0M381.4 128.7h0M382.9 163.3h0M380.1 153.5h0M381.1 144.6h0M381.4 157.1h0M380.9 129.8h0M381.1 158.3h0M382.3 133.2h0M381.9 155.1h0M381.8 140.9h0M382.3 140.1h0M381.5 163.8h0M381.3 156.2h0M383.1 147.9h0M380.9 137.7h0M382.8 138.4h0M381.4 164.4h0M383.0 141.8h0M381.3 126.5h0M382.3 163.1h0M383.0 141.8h0M381.5 141.1h0M382.6 155.6h0M383.3 163.9h0M368.4 161.6h0M380.4 147.9h0M382.1 140.1h0M381.0 163.7h0M381.0 127.9h0M381.1 132.5h0M382.0 144.6h0M382.2 140.1h0M375.5 147.6h0M363.2 145.4h0M383.1 157.0h0M382.9 158.1h0M381.4 133.4h0M381.7 145.4h0M381.7 128.0h0M381.0 126.9h0M382.5 140.9h0M377.8 158.3h0M379.0 161.6h0M377.7 152.6h0M383.5 151.8h0M381.1 135.6h0M380.9 118.9h0M381.7 129.9h0M380.8 123.5h0M374.7 153.6h0M381.6 143.4h0M382.1 138.0h0M380.8 137.7h0M380.8 147.3h0M382.1 157.8h0M369.5 148.0h0M381.3 158.2h0M379.8 149.4h0M383.3 153.8h0M381.4 136.3h0M381.8 130.2h0M376.1 163.0h0M376.4 160.0h0M381.3 136.1h0M381.6 154.6h0M383.2 163.2h0M383.8 157.1h0M383.4 163.3h0M371.7 152.7h0M381.5 126.4h0M377.1 156.9h0M383.2 147.7h0M379.1 150.4h0M382.4 158.3h0M381.4 135.2h0M376.6 148.7h0M381.1 130.4h0M379.7 151.2h0M381.9 142.5h0M383.2 154.5h0M381.9 144.6h0M374.2 146.5h0M378.8 156.1h0M366.5 146.2h0M382.7 143.2h0M382.9 143.5h0M376.6 153.8h0M380.8 113.0h0M380.9 139.9h0M379.1 155.4h0M381.2 123.3h0M382.4 162.2h0M382.8 160.6h0M382.3 149.9h0M382.4 143.4h0M366.9 147.6h0M383.9 161.5h0M382.8 142.9h0M382.8 158.6h0M380.8 144.5h0M380.6 161.9h0M381.0 164.8h0M383.0 159.1h0M381.7 140.3h0M379.6 151.5h0M380.3 155.3h0M381.9 142.8h0M381.4 134.6h0M381.2 140.1h0M381.1 145.6h0M363.1 151.3h0M382.8 141.7h0M381.7 134.3h0M370.3 152.2h0M379.9 147.9h0M383.7 158.6h0M382.7 139.7h0M378.3 154.2h0M381.8 130.3h0M382.2 159.8h0M378.8 156.7h0M383.3 151.0h0M380.9 144.7h0M377.5 159.1h0M382.7 156.9h0M378.3 146.9h0M381.2 141.3h0M382.5 134.1h0M381.1 163.5h0M382.1 129.0h0M381.4 134.8h0M368.5 152.8h0M379.5 157.9h0M374.6 151.3h0M381.7 124.8h0M381.3 163.2h0M380.3 159.7h0M380.9 134.0h0M384.1 164.8h0M380.8 122.9h0M379.1 160.3h0M383.1 143.1h0M383.4 157.4h0M383.3 160.8h0M367.2 150.0h0M381.7 142.4h0M381.2 117.1h0M382.3 149.2h0M375.8 161.9h0M381.8 137.5h0M381.5 123.2h0M381.1 133.2h0M377.0 159.6h0M383.1 161.5h0M380.7 155.4h0M381.3 164.6h0M377.9 155.2h0M382.3 147.9h0M384.0 162.0h0M382.3 133.2h0M381.7 123.9h0M383.6 159.5h0M382.8 152.4h0M382.3 133.0h0M382.9 139.6h0M381.3 118.2h0M383.3 157.1h0M381.6 143.5h0M381.9 139.7h0M382.6 134.8h0M368.3 158.6h0M381.9 143.4h0M380.9 135.5h0M381.5 130.1h0M383.8 164.5h0M382.7 163.2h0M383.0 142.0h0M384.0 164.6h0M381.3 162.6h0M382.8 143.9h0M381.5 129.3h0M383.6 156.3h0M382.9 164.5h0M380.9 112.5h0M371.7 152.3h0M371.4 154.3h0M381.2 126.2h0M380.8 116.9h0M382.3 161.8h0M381.6 133.9h0M382.1 136.0h0M383.2 152.4h0M382.6 136.9h0M382.1 163.7h0M382.3 156.1h0M370.6 156.8h0M379.1 149.0h0M383.7 163.3h0M381.8 162.0h0M374.6 154.2h0M381.3 159.9h0M381.3 132.0h0M382.3 137.6h0M381.6 161.2h0M380.4 145.5h0M382.3 148.7h0M378.1 161.9h0M376.6 152.2h0M382.0 133.2h0M376.9 149.9h0M381.3 142.9h0M380.8 129.7h0M381.3 140.3h0M382.6 138.5h0M381.3 144.7h0M382.3 133.4h0M382.6 136.2h0M381.1 144.7h0M381.6 127.4h0M376.7 150.1h0M383.3 151.0h0M379.6 156.3h0M381.8 158.5h0M382.2 135.7h0M383.3 150.6h0M377.3 160.4h0M365.5 160.7h0M382.0 126.4h0M381.6 138.0h0M376.0 147.8h0M382.2 134.2h0M367.9 158.7h0M382.3 137.0h0M383.7 154.6h0M382.5 137.3h0M379.6 162.6h0M382.4 151.8h0M383.3 163.2h0M379.5 147.5h0M383.1 144.4h0M380.9 132.0h0M382.1 164.2h0M381.5 136.3h0M383.1 164.6h0M381.9 143.8h0M367.5 145.9h0M377.2 159.3h0M382.1 142.9h0M381.4 123.2h0M380.6 155.6h0M383.3 151.3h0M370.8 146.5h0M382.3 139.1h0M380.0 149.1h0M383.0 152.4h0M381.8 159.1h0M374.2 147.8h0M382.6 138.9h0M379.2 151.7h0M381.0 153.8h0M378.9 156.9h0M382.0 130.3h0M381.2 125.4h0M382.8 143.5h0M378.9 161.2h0M381.7 124.4h0M381.0 164.9h0M382.5 135.8h0M381.2 150.1h0M381.2 133.3h0M377.4 157.9h0M372.7 156.4h0M382.1 149.4h0M382.5 139.3h0M383.0 155.0h0M382.1 140.1h0M379.7 145.7h0M381.5 136.5h0M380.9 131.7h0M380.9 145.7h0M383.0 145.4h0M381.8 137.0h0M382.7 164.1h0M382.5 155.4h0M382.1 142.6h0M381.4 130.4h0M383.5 152.3h0M382.4 154.3h0M371.4 154.0h0M381.6 128.9h0M383.1 155.6h0M381.4 137.7h0M382.4 140.7h0M378.3 162.7h0M382.9 144.0h0M382.1 149.6h0M382.5 163.8h0M381.5 126.2h0M377.0 159.2h0M377.9 157.6h0M378.2 153.6h0M383.9 160.1h0M382.2 140.1h0M378.1 157.2h0M382.1 132.0h0M382.6 135.2h0M369.5 152.9h0M381.1 119.1h0M383.5 161.7h0M383.2 162.4h0M374.0 148.8h0M383.2 156.6h0M378.4 152.4h0M379.4 159.3h0M382.2 132.8h0M378.6 146.0h0M381.6 126.8h0M380.8 127.4h0M382.4 132.7h0M381.8 128.2h0M381.4 132.1h0M383.0 155.0h0M382.7 139.8h0M378.9 150.6h0M375.4 150.3h0M381.4 122.5h0M381.4 144.9h0M369.3 153.2h0M380.8 131.1h0M374.0 149.5h0M380.8 109.9h0M381.9 136.0h0M376.5 153.3h0M382.1 137.3h0M383.0 163.3h0M381.7 130.5h0M381.2 119.8h0M368.2 149.4h0M380.9 122.2h0M383.4 163.6h0M382.6 143.9h0M378.1 146.7h0M381.7 132.6h0M373.9 156.7h0M382.9 139.5h0M381.1 139.0h0M383.6 159.4h0M382.5 138.7h0M382.4 138.3h0M374.5 153.6h0M382.6 157.5h0M382.2 160.3h0M379.2 156.8h0M378.7 155.2h0M381.0 119.7h0M376.6 160.6h0M378.7 155.5h0M380.9 117.0h0M382.8 160.0h0M380.3 163.5h0M381.0 154.9h0M381.8 125.7h0M383.3 153.5h0M382.6 158.9h0M377.4 163.7h0M378.6 154.0h0M382.6 145.0h0M382.4 141.9h0M379.1 161.4h0M382.0 132.2h0M380.8 137.7h0M382.5 153.7h0M381.3 141.4h0M383.1 164.7h0M376.9 158.2h0M377.8 158.8h0M382.7 156.4h0M375.3 154.3h0M381.3 116.0h0M383.2 143.9h0M380.7 147.6h0M382.6 153.8h0M376.3 147.3h0M381.9 131.1h0M381.8 147.2h0M371.3 154.5h0M382.1 131.4h0M381.8 163.2h0M380.6 158.6h0M381.8 122.5h0M378.4 163.2h0M373.1 162.9h0M383.1 144.7h0M382.5 162.8h0M377.5 163.7h0M381.5 144.9h0M378.7 152.0h0M382.5 151.1h0M382.7 148.5h0M381.0 138.3h0M383.2 144.3h0M382.0 144.2h0M381.0 144.6h0M381.4 155.8h0M380.9 119.7h0M382.6 141.6h0M381.2 150.6h0M381.4 144.6h0M381.3 128.1h0M381.6 142.5h0M381.6 140.4h0M382.0 143.4h0M382.8 152.9h0M381.7 129.8h0M382.8 156.1h0M379.9 151.2h0M381.1 160.5h0M381.7 160.0h0M380.2 154.8h0M382.2 159.1h0M379.0 148.0h0M382.4 141.5h0M382.0 156.0h0M381.9 128.8h0M382.7 138.3h0M381.0 139.4h0M382.7 136.3h0M380.1 160.4h0M383.6 153.9h0M380.0 164.8h0M380.8 131.5h0M380.8 129.3h0M381.3 137.1h0M380.1 157.9h0M381.6 147.1h0M381.0 136.4h0M382.7 137.4h0M382.5 147.6h0M383.4 150.6h0M375.4 157.3h0M383.6 160.3h0M381.1 141.7h0M382.3 136.4h0M382.5 160.9h0M381.9 148.6h0M381.9 134.2h0M381.0 134.6h0M382.1 129.6h0M383.0 154.7h0M373.4 154.7h0M382.0 129.9h0M380.3 146.4h0M380.9 140.4h0M373.3 152.0h0M383.4 151.8h0M382.9 139.2h0M381.4 141.4h0M381.0 151.1h0M375.4 147.0h0M381.2 142.9h0M382.0 157.7h0M379.1 162.6h0M381.3 156.2h0M377.4 150.3h0M382.3 154.8h0M373.9 152.9h0M382.8 143.5h0M383.6 161.7h0M381.1 155.2h0M382.7 159.8h0M380.6 156.9h0M380.2 158.0h0M382.7 144.3h0M382.3 140.8h0M381.4 126.4h0M378.6 152.7h0M379.6 163.2h0M379.4 148.6h0M377.7 150.1h0M381.4 122.0h0M383.0 142.2h0M376.4 145.9h0M381.1 125.8h0M382.4 137.1h0M380.9 117.4h0M374.5 161.1h0M383.7 156.9h0M381.3 143.3h0M381.9 159.4h0M382.1 145.5h0M375.0 160.9h0M383.5 151.8h0M377.8 148.7h0M382.8 144.9h0M380.0 153.3h0M383.3 164.8h0M382.1 139.5h0M378.2 149.1h0M376.4 162.8h0M374.0 151.9h0M380.8 161.1h0M382.5 149.5h0M364.9 151.1h0M381.1 133.7h0M381.0 147.8h0M373.3 161.0h0M379.5 145.8h0M383.0 160.4h0M382.2 137.5h0M379.9 147.0h0M374.0 145.5h0M382.0 159.4h0M381.7 125.4h0M383.9 162.6h0M381.4 135.9h0M380.8 134.2h0M382.7 144.5h0M378.0 157.6h0M378.6 155.6h0M381.9 154.5h0M380.6 154.9h0M381.6 138.8h0M381.9 150.4h0M382.0 132.0h0M383.8 162.8h0M379.5 160.5h0M381.3 156.0h0M382.4 132.9h0M380.2 152.2h0M381.4 146.4h0M373.2 151.1h0M380.6 159.5h0M381.3 126.5h0M382.9 145.2h0M382.4 141.5h0M371.9 159.4h0M378.6 160.4h0M381.1 138.4h0M382.3 140.2h0M378.2 149.0h0M380.0 157.5h0M380.2 159.4h0M380.1 154.1h0M382.8 140.4h0M383.0 159.5h0M368.6 150.3h0M381.5 139.0h0M382.2 144.5h0M381.1 120.2h0M360.7 157.5h0M382.5 153.0h0M381.8 164.2h0M383.3 161.1h0M366.7 152.2h0M382.0 127.1h0M382.7 143.2h0M379.9 149.8h0M381.3 126.8h0M382.6 157.8h0M379.5 145.4h0M382.2 153.1h0M382.9 139.2h0M382.2 136.0h0M380.9 142.9h0M382.2 143.4h0M368.4 157.8h0M382.0 137.9h0M381.3 136.6h0M382.2 137.6h0M380.9 130.2h0M383.7 157.1h0M378.8 154.4h0M377.2 154.2h0M382.7 143.7h0M377.8 153.8h0M382.4 139.1h0M381.4 140.1h0M383.6 163.5h0M381.3 141.5h0M381.8 128.7h0M376.1 147.5h0M361.8 154.9h0M381.6 152.5h0M373.7 148.2h0M382.7 160.5h0M371.5 150.1h0M375.2 149.6h0M381.0 157.9h0M381.3 121.6h0M382.1 144.0h0M383.7 160.2h0M381.6 133.8h0M381.5 162.2h0M381.5 159.9h0M380.9 129.9h0M380.6 153.9h0M383.0 143.5h0M380.0 158.2h0M372.9 146.0h0M381.3 121.5h0M382.2 141.3h0M381.7 157.8h0M381.0 132.1h0M381.4 141.8h0M382.1 137.9h0M383.4 159.8h0M380.8 108.7h0M372.5 162.3h0M382.9 139.6h0M375.2 158.6h0M383.2 157.3h0M383.9 161.4h0M383.0 157.3h0M381.3 125.6h0M383.5 162.7h0M382.1 134.9h0M381.0 133.9h0M377.6 155.8h0M381.4 164.6h0M382.7 136.0h0M381.3 131.0h0M380.6 157.9h0M381.3 150.1h0M382.9 140.1h0M376.8 164.5h0M381.9 139.7h0M381.0 112.5h0M382.2 140.3h0M383.1 163.2h0M383.8 161.6h0M382.6 144.0h0M382.3 142.8h0M380.4 146.9h0M383.7 159.6h0M375.3 154.0h0M382.3 148.1h0M381.8 146.6h0M382.4 165.0h0M382.6 144.5h0M382.6 164.0h0M383.3 147.5h0M381.4 130.2h0M380.8 117.0h0M381.8 137.3h0M376.8 154.1h0M371.0 161.6h0M380.4 165.1h0M377.5 160.6h0M380.9 125.3h0M378.3 152.4h0M379.0 148.6h0M380.8 160.5h0M381.9 164.2h0M383.8 159.6h0M381.2 129.1h0M381.0 125.4h0M381.0 141.9h0M372.4 147.5h0M382.1 151.8h0M376.8 156.6h0M380.4 150.2h0M382.1 153.5h0M380.6 156.3h0M383.8 157.7h0M378.8 154.7h0M375.6 163.9h0M381.1 123.8h0M380.4 146.2h0M381.1 129.0h0M381.0 143.8h0M376.7 152.2h0M381.2 153.6h0M378.7 154.7h0M377.7 155.5h0M383.2 156.0h0M378.2 153.8h0M382.0 131.5h0M383.4 156.6h0M379.9 155.3h0M374.5 153.9h0M382.5 141.8h0M380.9 113.3h0M382.8 150.9h0M375.9 149.5h0M382.2 138.2h0M381.0 134.2h0M383.7 161.0h0M383.9 162.6h0M382.4 135.2h0M382.3 137.9h0M380.2 163.5h0M367.7 146.1h0M381.1 130.9h0M374.4 155.0h0M382.5 157.4h0M373.8 147.8h0M382.1 152.8h0M381.2 131.8h0M381.2 149.3h0M383.0 159.7h0M383.5 159.6h0M382.5 138.0h0M373.6 146.8h0M376.4 159.4h0M381.0 155.0h0M382.3 162.7h0M383.3 164.8h0M382.4 153.6h0M382.4 151.0h0M383.1 153.5h0M381.8 123.7h0M381.2 124.2h0M382.4 133.1h0M379.3 146.7h0M372.4 148.2h0M384.0 163.9h0M380.8 122.3h0M381.3 116.1h0M381.9 141.6h0M379.4 154.4h0M382.2 145.0h0M381.6 137.1h0M381.9 138.6h0M382.4 156.3h0M387.5 151.2h0M387.2 114.4h0M385.1 161.3h0M384.9 149.6h0M422.6 159.5h0M387.5 136.5h0M387.4 132.0h0M387.2 163.5h0M399.5 156.7h0M386.4 137.1h0M385.4 159.3h0M393.6 149.9h0M385.7 141.9h0M391.7 150.6h0M385.0 158.7h0M384.5 157.4h0M387.6 108.7h0M386.5 132.3h0M389.6 150.8h0M385.5 141.3h0M387.5 141.0h0M387.0 136.0h0M386.8 131.0h0M387.0 127.6h0M387.2 138.0h0M391.9 152.5h0M390.2 158.3h0M387.2 142.5h0M386.9 137.3h0M413.7 156.1h0M387.2 136.5h0M389.5 151.5h0M386.8 163.1h0M384.8 156.1h0M391.9 155.6h0M389.5 151.8h0M387.3 136.4h0M386.5 144.8h0M387.4 123.4h0M385.5 162.6h0M385.6 162.6h0M393.9 152.6h0M386.6 143.1h0M386.9 160.1h0M385.8 148.8h0M386.7 143.4h0M387.5 145.7h0M385.5 145.0h0M386.1 135.7h0M388.2 164.0h0M384.6 164.2h0M384.5 160.9h0M390.9 149.2h0M389.3 147.0h0M386.6 124.9h0M387.1 126.9h0M385.4 161.1h0M384.4 164.6h0M386.0 141.8h0M390.1 153.6h0M385.3 152.9h0M391.3 159.1h0M391.8 149.7h0M385.5 153.2h0M386.4 141.3h0M397.6 154.5h0M386.0 144.9h0M389.6 162.3h0M410.1 147.7h0M385.2 157.8h0M385.2 147.8h0M385.3 157.1h0M384.9 160.0h0M386.4 138.3h0M385.4 156.3h0M384.9 155.0h0M385.8 136.3h0M390.6 147.0h0M386.0 149.2h0M385.3 147.1h0M387.4 131.3h0M387.6 144.7h0M385.9 143.6h0M394.2 151.9h0M385.7 163.1h0M388.4 161.9h0M386.9 130.3h0M387.1 131.1h0M384.8 163.7h0M414.9 149.8h0M384.6 165.2h0M389.6 150.9h0M387.2 151.7h0M384.8 156.4h0M385.0 162.9h0M387.3 147.3h0M387.2 136.4h0M384.9 163.2h0M387.6 164.4h0M385.9 133.9h0M384.5 160.6h0M386.2 134.4h0M385.2 154.3h0M386.8 148.3h0M387.3 136.5h0M387.5 162.3h0M387.4 126.9h0M393.2 146.1h0M384.6 162.6h0M387.4 117.5h0M384.9 164.6h0M385.1 153.4h0M387.3 144.6h0M384.8 155.0h0M391.3 153.8h0M389.0 159.6h0M387.0 122.5h0M388.5 157.4h0M384.6 160.8h0M384.3 164.0h0M385.4 153.1h0M386.1 155.8h0M387.5 139.4h0M385.5 141.0h0M388.4 148.9h0M387.3 140.9h0M390.1 162.9h0M387.2 138.5h0M387.3 134.2h0M387.4 130.8h0M387.4 140.7h0M386.2 139.5h0M388.5 150.0h0M387.0 147.8h0M390.3 154.9h0M399.8 147.6h0M387.1 143.4h0M386.8 124.5h0M384.6 159.8h0M397.9 145.4h0M386.0 139.7h0M387.4 154.3h0M385.3 144.5h0M385.2 154.8h0M385.1 144.9h0M388.1 157.1h0M385.3 156.8h0M388.5 160.6h0M386.8 158.5h0M386.1 133.0h0M386.8 141.6h0M398.4 162.8h0M390.1 150.3h0M386.7 137.1h0M387.2 153.7h0M386.4 142.9h0M387.1 146.2h0M386.4 126.2h0M385.1 149.4h0M387.6 155.2h0M386.8 126.7h0M387.5 160.3h0M392.1 145.4h0M391.2 146.3h0M386.7 135.5h0M386.8 146.2h0M386.3 140.9h0M394.1 147.2h0M387.1 144.5h0M385.7 158.4h0M393.7 147.9h0M397.3 147.6h0M396.3 146.1h0M393.8 148.7h0M387.1 153.7h0M389.6 147.9h0M386.9 145.1h0M387.6 163.3h0M387.9 155.1h0M385.5 162.8h0M387.0 135.4h0M390.3 145.8h0M391.8 156.5h0M391.3 146.5h0M386.1 164.9h0M386.2 161.2h0M394.0 147.0h0M387.5 138.1h0M387.2 138.2h0M386.8 140.2h0M396.4 161.1h0M386.7 164.2h0M385.2 149.0h0M387.0 141.0h0M386.4 159.5h0M386.4 149.0h0M387.5 111.6h0M389.0 150.0h0M384.8 164.5h0M387.3 133.8h0M389.8 162.1h0M389.9 155.5h0M396.3 148.5h0M387.4 128.9h0M385.9 138.8h0M386.4 159.2h0M387.1 145.3h0M413.3 164.3h0M386.4 133.0h0M387.1 138.9h0M386.5 158.4h0M385.1 155.3h0M385.7 139.3h0M387.4 123.6h0M387.2 135.9h0M387.2 141.4h0M399.3 150.8h0M387.5 144.5h0M388.2 158.2h0M389.8 163.3h0M386.6 125.2h0M387.5 163.6h0M385.8 145.3h0M386.3 164.3h0M384.9 160.1h0M384.6 158.5h0M386.7 132.7h0M387.9 159.2h0M390.3 147.8h0M392.0 148.4h0M386.0 150.8h0M387.7 149.2h0M389.6 163.9h0M386.5 140.1h0M388.8 164.4h0M390.3 155.9h0M386.7 148.7h0M385.2 152.1h0M387.1 153.4h0M387.4 116.4h0M385.1 163.6h0M387.6 142.4h0M388.6 162.8h0M386.1 144.7h0M396.7 147.3h0M388.3 150.3h0M385.4 153.1h0M387.0 140.4h0M397.7 152.6h0M387.5 138.6h0M386.7 154.5h0M384.5 160.2h0M387.4 160.8h0M387.4 151.2h0M385.5 140.3h0M387.4 153.6h0M385.8 164.0h0M391.1 153.3h0M406.0 155.4h0M389.1 164.5h0M387.0 133.8h0M385.7 162.5h0M392.0 153.3h0M386.1 136.5h0M385.1 149.6h0M385.0 150.7h0M386.3 163.5h0M386.3 161.7h0M386.8 159.8h0M385.2 153.7h0M384.7 161.4h0M386.1 161.3h0M387.4 157.2h0M388.5 157.7h0M387.4 147.3h0M391.5 146.2h0M398.2 146.5h0M386.5 136.5h0M386.5 163.7h0M387.6 124.2h0M388.3 153.1h0M384.7 162.8h0M386.3 137.4h0M386.4 127.0h0M384.7 159.6h0M386.7 144.7h0M388.7 152.4h0M387.9 150.4h0M385.5 162.7h0M387.2 129.7h0M385.9 157.1h0M385.8 145.1h0M385.1 161.0h0M389.1 146.2h0M386.9 157.3h0M384.9 162.8h0M391.8 148.4h0M386.8 130.2h0M387.3 136.9h0M396.3 149.7h0M385.3 151.6h0M391.6 149.4h0M387.2 113.9h0M384.9 149.7h0M389.7 155.0h0M388.5 159.5h0M386.5 128.4h0M386.9 143.8h0M386.4 130.2h0M385.7 137.4h0M385.2 144.2h0M407.0 153.7h0M389.9 145.2h0M386.9 143.0h0M388.9 164.3h0M418.9 149.8h0M394.9 150.5h0M384.4 164.3h0M385.8 155.2h0M389.2 162.8h0M385.7 162.0h0M384.4 160.5h0M385.3 150.5h0M387.5 132.7h0M386.4 155.8h0M385.7 139.6h0M386.7 150.4h0M387.6 151.0h0M386.2 157.3h0M387.6 129.2h0M391.8 159.3h0M386.6 162.8h0M387.4 138.9h0M385.7 156.9h0M387.5 118.6h0M385.8 157.5h0M385.9 158.7h0M386.0 143.3h0M387.6 140.3h0M391.5 151.6h0M389.0 162.1h0M387.6 123.0h0M387.5 112.4h0M394.4 152.0h0M389.4 164.6h0M384.4 163.3h0M386.6 135.4h0M386.2 154.8h0M387.0 135.8h0M392.7 152.0h0M386.4 136.9h0M389.6 148.4h0M386.4 136.8h0M386.3 163.9h0M391.5 159.0h0M387.9 151.8h0M389.0 153.8h0M386.5 124.3h0M390.8 146.2h0M387.5 142.3h0M386.5 123.6h0M385.8 142.2h0M392.4 147.3h0M387.2 162.6h0M387.4 110.5h0M390.5 153.1h0M387.2 133.0h0M385.3 143.8h0M384.8 154.1h0M396.0 152.3h0M387.3 145.1h0M385.5 144.8h0M384.8 154.7h0M402.6 157.1h0M385.9 152.7h0M392.0 150.9h0M388.7 155.1h0M391.7 156.2h0M386.8 132.8h0M386.3 131.2h0M388.5 147.3h0M386.7 149.0h0M391.3 150.6h0M385.2 160.6h0M393.7 156.1h0M403.2 150.5h0M387.1 130.5h0M391.5 154.9h0M386.9 152.2h0M385.9 138.8h0M387.6 155.8h0M385.8 140.8h0M388.7 152.7h0M386.0 142.5h0M386.8 121.1h0M395.2 148.0h0M424.7 158.6h0M385.3 156.4h0M387.4 145.3h0M385.7 141.5h0M417.7 156.2h0M386.1 162.0h0M385.5 164.7h0M389.0 156.9h0M387.4 141.6h0M387.4 143.7h0M387.3 156.0h0M384.6 156.8h0M424.3 158.8h0M390.9 147.3h0M386.0 162.5h0M388.7 161.3h0M389.5 164.4h0M386.9 137.0h0M397.6 165.1h0M388.6 161.7h0M403.9 158.9h0M388.3 152.4h0M388.7 161.6h0M386.4 142.1h0M388.6 154.7h0M398.1 147.4h0M385.2 159.4h0M386.0 153.2h0M386.1 140.2h0M386.8 163.5h0M385.5 161.9h0M386.4 142.2h0M390.3 152.5h0M391.8 146.2h0M386.5 147.1h0M392.3 157.7h0M392.7 151.2h0M396.4 158.5h0M389.5 159.9h0M386.1 136.5h0M386.5 140.3h0M394.4 151.7h0M386.7 148.2h0M385.1 161.1h0M387.6 143.1h0M387.8 162.6h0M386.9 146.4h0M389.3 161.7h0M386.5 126.2h0M387.2 162.0h0M386.8 128.6h0M387.3 154.5h0M387.2 128.1h0M386.3 163.8h0M386.8 156.9h0M386.7 124.8h0M385.4 159.8h0M388.0 145.8h0M385.6 146.5h0M386.6 156.3h0M385.2 158.0h0M389.9 164.2h0M402.9 146.7h0M385.4 150.3h0M387.0 163.1h0M387.6 126.2h0M385.2 151.9h0M389.0 152.6h0M384.5 162.5h0M387.4 128.0h0M393.9 148.2h0M385.4 160.1h0M387.6 162.4h0M403.1 159.1h0M386.7 159.1h0M385.3 142.4h0M387.0 140.5h0M387.5 141.6h0M388.2 158.7h0M392.4 156.2h0M387.2 113.9h0M384.9 159.4h0M386.1 130.8h0M386.9 136.3h0M387.0 127.8h0M390.2 156.5h0M386.4 126.2h0M385.5 155.6h0M387.9 159.2h0M399.0 150.1h0M387.2 150.8h0M398.8 146.5h0M386.2 136.4h0M387.5 159.6h0M385.9 146.8h0M386.1 154.7h0M388.3 155.3h0M389.4 164.1h0M386.2 141.5h0M386.3 146.7h0M388.4 160.5h0M406.1 162.4h0M384.7 153.3h0M387.4 119.1h0M396.6 150.6h0M387.3 124.0h0M390.4 156.7h0M390.3 157.4h0M387.6 141.3h0M384.4 162.4h0M386.8 131.9h0M387.2 138.6h0M385.1 165.1h0M397.6 153.1h0M384.9 156.8h0M388.9 148.4h0M391.8 161.6h0M411.5 156.2h0M391.0 161.1h0M390.5 157.5h0M385.1 152.8h0M386.8 136.5h0M387.6 164.0h0M396.9 146.5h0M392.4 159.7h0M385.6 158.6h0M389.4 153.8h0M391.0 150.0h0M407.8 151.6h0M386.0 139.3h0M394.3 153.2h0M386.1 129.8h0M402.9 153.8h0M392.2 156.4h0M385.5 144.3h0M386.0 149.4h0M387.3 135.1h0M384.3 164.5h0M385.5 146.5h0M386.7 150.3h0M386.8 133.1h0M385.4 151.6h0M386.6 126.2h0M387.5 152.6h0M387.2 136.8h0M387.4 148.9h0M384.9 156.1h0M385.2 149.2h0M390.0 158.4h0M387.4 150.1h0M387.1 136.4h0M385.7 152.4h0M386.0 150.3h0M397.7 164.6h0M386.4 155.5h0M385.5 140.5h0M390.4 151.1h0M390.7 152.5h0M385.9 142.6h0M386.8 128.6h0M392.8 160.9h0M385.4 157.4h0M387.4 114.1h0M391.5 157.4h0M387.2 141.1h0M390.5 147.8h0M385.9 154.2h0M386.7 150.6h0M387.5 123.2h0M396.1 152.9h0M387.7 163.1h0M385.8 139.4h0M406.2 149.0h0M390.9 160.7h0M389.3 156.8h0M385.9 151.2h0M386.1 136.1h0M386.9 156.5h0M386.1 143.7h0M386.7 152.1h0M386.8 123.9h0M388.4 150.4h0M386.5 125.3h0M386.2 153.0h0M394.3 150.5h0M387.3 134.5h0M387.0 136.7h0M386.4 139.6h0M393.8 145.5h0M384.4 163.3h0M385.0 162.1h0M391.8 158.8h0M387.1 142.1h0M387.2 158.6h0M391.8 153.7h0M386.2 151.9h0M387.3 156.7h0M386.7 134.5h0M388.7 153.1h0M387.1 141.4h0M386.9 131.0h0M385.5 139.4h0M386.5 138.2h0M387.5 153.3h0M414.5 149.9h0M387.7 146.7h0M385.3 159.6h0M387.1 128.3h0M385.7 165.0h0M385.3 158.1h0M385.8 139.6h0M385.0 159.4h0M385.0 159.7h0M388.4 151.6h0M386.1 144.4h0M389.4 161.5h0M385.2 152.5h0M387.9 157.7h0M391.6 159.7h0M385.8 135.6h0M388.1 152.2h0M387.2 133.2h0M388.2 160.0h0M390.2 153.4h0M387.8 158.5h0M387.1 152.8h0M386.0 159.5h0M386.6 147.4h0M388.9 161.7h0M384.9 153.1h0M387.2 115.4h0M387.1 124.5h0M386.7 128.4h0M393.1 145.5h0M384.7 163.1h0M390.7 154.0h0M385.4 140.2h0M390.1 163.6h0M385.7 149.5h0M385.4 145.8h0M387.0 135.6h0M401.4 149.2h0M385.6 153.0h0M398.5 149.2h0M391.9 154.8h0M396.3 163.4h0M385.3 143.6h0M384.4 164.7h0M385.5 152.3h0M389.5 161.9h0M386.0 141.3h0M394.6 159.2h0M385.9 140.8h0M387.9 150.8h0M386.6 152.1h0M388.2 147.3h0M390.9 164.5h0M384.5 163.4h0M395.8 152.5h0M387.5 151.2h0M387.6 136.2h0M387.0 133.4h0M385.9 157.9h0M385.5 156.5h0M387.1 116.4h0M387.2 138.1h0M385.4 143.6h0M386.7 155.7h0M391.7 162.1h0M386.3 145.9h0M385.8 134.6h0M385.1 156.6h0M397.3 145.6h0M387.2 120.0h0M394.6 155.4h0M385.4 164.5h0M384.5 157.9h0M384.4 162.5h0M388.6 158.3h0M392.5 158.9h0M385.2 163.1h0M386.4 133.9h0M385.3 150.9h0M391.2 162.4h0M387.2 127.9h0M386.1 145.0h0M386.1 144.1h0M386.7 164.1h0M387.2 122.0h0M387.6 149.3h0M384.6 160.2h0M386.2 141.6h0M388.4 145.5h0M386.9 153.8h0M387.2 139.5h0M385.6 153.9h0M386.8 143.7h0M392.4 164.6h0M387.4 117.2h0M386.5 140.1h0M387.6 138.0h0M386.7 139.5h0M386.6 144.9h0M387.7 149.1h0M387.1 123.2h0M386.6 153.0h0M387.1 151.7h0M385.6 147.2h0M387.6 128.7h0M385.9 140.5h0M390.7 163.6h0M386.7 134.6h0M385.1 163.0h0M387.3 160.9h0M384.3 164.1h0M388.8 159.0h0M398.9 146.6h0M388.3 155.2h0M385.8 138.2h0M386.4 145.0h0M388.4 148.6h0M388.1 152.5h0M389.1 152.2h0M387.6 141.6h0M386.5 139.2h0M386.6 139.2h0M385.2 156.7h0M387.3 135.8h0M385.2 162.5h0M387.4 147.2h0M385.6 141.8h0M386.6 163.2h0M385.6 162.2h0M387.0 142.7h0M385.1 158.9h0M388.3 164.9h0M386.9 165.0h0M387.6 150.5h0M405.0 146.2h0M400.3 157.7h0M412.3 145.4h0M387.2 140.7h0M393.1 147.6h0M392.5 155.4h0M385.6 142.6h0M386.0 154.5h0M387.0 144.7h0M386.0 160.6h0M391.2 164.8h0M437.5 158.5h0M388.9 151.8h0M398.4 146.1h0M391.9 159.9h0M394.5 163.1h0M385.5 144.6h0M387.1 118.5h0M398.1 150.4h0M387.7 154.1h0M387.5 115.8h0M387.1 164.3h0M385.2 159.8h0M402.6 149.2h0M386.9 156.4h0M389.1 160.2h0M386.5 125.3h0M386.6 139.3h0M385.3 164.8h0M393.1 148.4h0M386.0 132.8h0M386.3 135.6h0M404.2 163.9h0M386.5 135.7h0M386.8 144.7h0M387.0 143.0h0M385.4 148.6h0M384.8 160.9h0M390.3 154.3h0M385.8 138.8h0M387.5 153.4h0M388.7 146.4h0M385.9 137.4h0M386.1 134.6h0M386.7 134.3h0M394.3 160.8h0M385.7 142.4h0M388.9 152.5h0M386.7 128.1h0M392.5 164.0h0M398.9 148.0h0M387.3 135.9h0M390.5 160.9h0M385.8 158.3h0M387.5 156.4h0M387.7 149.1h0M387.0 140.8h0M386.4 159.8h0M392.9 158.8h0M392.2 154.2h0M387.3 138.7h0M384.4 160.8h0M387.1 134.1h0M411.2 161.6h0M394.4 149.4h0M386.2 153.8h0M386.1 151.7h0M389.6 161.7h0M389.1 159.6h0M389.9 149.7h0M385.8 134.5h0M385.9 137.4h0M389.0 147.2h0M392.4 152.5h0M408.2 157.6h0M386.2 147.8h0M386.1 142.5h0M389.9 153.3h0M387.0 159.8h0M386.1 140.5h0M393.2 162.5h0M392.6 160.3h0M387.6 161.8h0M388.0 154.0h0M387.1 155.0h0M386.5 154.9h0M384.7 165.0h0M388.7 158.6h0M391.6 157.5h0M385.1 154.7h0M393.4 146.6h0M387.0 117.1h0M387.4 150.0h0M384.5 160.2h0M387.3 156.1h0M384.4 161.3h0M397.5 154.6h0M386.2 157.4h0M387.3 111.9h0M387.5 142.0h0M387.6 123.8h0M386.8 125.5h0M386.9 135.6h0M384.8 163.8h0M387.2 124.1h0M386.6 129.8h0M419.9 158.9h0M387.0 133.1h0M386.4 150.8h0M389.8 161.9h0M384.6 163.3h0M385.6 159.4h0M385.6 151.7h0M386.5 142.8h0M385.8 148.3h0M385.0 163.3h0M387.3 142.9h0M387.4 156.2h0M393.5 150.7h0M386.3 129.6h0M386.6 132.6h0M404.2 158.3h0M388.8 152.0h0M388.4 152.8h0M387.2 148.5h0M385.6 144.9h0M391.2 154.5h0M386.4 134.1h0M386.8 134.3h0M393.6 156.6h0M387.3 122.5h0M385.2 143.6h0M387.4 152.8h0M386.0 160.4h0M388.8 152.4h0M395.4 147.9h0M387.0 151.5h0M386.3 141.4h0M386.2 135.9h0M386.4 137.3h0M387.3 130.6h0M394.5 150.3h0M384.8 161.5h0M388.2 160.8h0M404.1 147.5h0M385.6 145.0h0M385.5 155.9h0M393.9 151.9h0M389.3 146.9h0M385.3 146.0h0M386.3 136.7h0M386.3 158.8h0M385.1 156.3h0M387.3 161.0h0M385.6 139.2h0M388.0 150.7h0M385.6 141.8h0M385.9 158.5h0M386.2 143.6h0M387.1 124.1h0M384.9 157.0h0M399.3 163.5h0M393.1 148.4h0M386.5 142.8h0M400.8 160.8h0M385.3 157.0h0M386.7 142.6h0M385.5 162.2h0M387.3 141.4h0M385.6 145.6h0M401.8 164.1h0M386.2 141.7h0M384.5 163.6h0M387.0 124.7h0M387.2 120.1h0M388.0 151.3h0M387.1 122.8h0M386.0 155.0h0M387.4 147.1h0M390.8 158.0h0M387.5 120.9h0M389.2 148.7h0M386.5 162.2h0M386.3 138.5h0M387.6 112.1h0M394.3 154.1h0M386.1 161.5h0M392.9 152.8h0M385.8 142.6h0M386.1 163.7h0M387.0 154.7h0M385.6 162.3h0M386.7 128.3h0M385.5 141.9h0M386.8 141.8h0M388.4 162.8h0M387.2 138.6h0M394.4 158.9h0" stroke="#0a0a0a" stroke-width="1.2" stroke-linecap="square" fill="none"/>
</g>
<g id="volcano72">
<path d="M527.9 17.5V173.8H686" fill="none" stroke="#8a8a8a" stroke-width="0.8"/>
<path d="M573.9 17.5V173.8M582.1 17.5V173.8M527.9 155.5H686" fill="none" stroke="#dcdcdc" stroke-width="0.8"/>
<text class="s" transform="translate(522.9 166.5) rotate(-90)" font-size="10.3" fill="#111" text-anchor="middle">0</text><text class="s" transform="translate(522.9 123.5) rotate(-90)" font-size="10.3" fill="#111" text-anchor="middle">5</text><text class="s" transform="translate(522.9 80.5) rotate(-90)" font-size="10.3" fill="#111" text-anchor="middle">10</text><text class="s" transform="translate(522.9 37.5) rotate(-90)" font-size="10.3" fill="#111" text-anchor="middle">15</text><text class="s" x="537.2" y="187.7" font-size="10.3" fill="#111" text-anchor="middle">-5</text><text class="s" x="578.0" y="187.7" font-size="10.3" fill="#111" text-anchor="middle">0</text><text class="s" x="618.8" y="187.7" font-size="10.3" fill="#111" text-anchor="middle">5</text><text class="s" x="659.5" y="187.7" font-size="10.3" fill="#111" text-anchor="middle">10</text><text class="s" transform="translate(503.1 92.7) rotate(-90)" font-size="9.3" fill="#111" text-anchor="middle">-log10(FDR)</text><text class="s" x="596" y="203.1" font-size="8.4" fill="#111" text-anchor="middle">log2FC</text><text class="t" x="596.2" y="222.5" font-size="14.4" font-weight="bold" fill="#111" text-anchor="middle">72hour</text>
<path d="M573.9 155.3L573.9 153.6L573.9 151.9L573.9 150.2L573.9 148.4L573.9 146.7L573.9 145.0L573.9 143.3L573.9 141.6L573.9 139.8L573.9 138.1L573.9 136.4L573.9 134.7L573.9 133.0L573.9 131.2L573.9 129.5L573.7 127.8L573.5 126.1L573.3 124.4L573.1 122.6L573.0 120.9L572.8 119.2L572.6 117.5L572.4 115.8L572.2 114.0L572.1 112.3L571.9 110.6L571.7 108.9L571.4 107.2L570.9 105.4L570.5 103.7L570.1 102.0L569.7 100.3L569.3 98.6L568.8 96.8L568.2 95.1L567.3 93.4L566.4 91.7L565.6 90.0L564.3 88.2L562.5 86.5L562.5 86.5L562.4 88.2L562.4 90.0L562.7 91.7L563.1 93.4L563.4 95.1L563.4 96.8L563.3 98.6L563.2 100.3L563.4 102.0L563.7 103.7L563.9 105.4L564.2 107.2L564.4 108.9L564.4 110.6L564.4 112.3L564.4 114.0L564.4 115.8L564.5 117.5L564.5 119.2L564.5 120.9L564.5 122.6L564.5 124.4L564.5 126.1L564.8 127.8L565.0 129.5L565.2 131.2L565.2 133.0L565.3 134.7L565.4 136.4L565.5 138.1L565.5 139.8L565.6 141.6L565.7 143.3L565.8 145.0L565.8 146.7L565.9 148.4L566.0 150.2L566.0 151.9L566.1 153.6L566.2 155.3z" fill="#2a8f2a"/>
<path d="M582.1 155.3L582.1 153.4L582.1 151.6L582.1 149.7L582.1 147.8L582.1 146.0L582.1 144.1L582.1 142.2L582.1 140.4L582.1 138.5L582.1 136.6L582.1 134.7L582.1 132.9L582.1 131.0L582.1 129.1L582.1 127.3L582.4 125.4L582.7 123.5L582.9 121.7L583.2 119.8L583.4 117.9L583.7 116.0L583.9 114.2L584.2 112.3L584.5 110.4L584.7 108.6L584.9 106.7L585.2 104.8L585.4 102.9L585.6 101.1L585.8 99.2L586.0 97.3L586.3 95.5L586.8 93.6L587.2 91.7L587.7 89.9L588.2 88.0L588.7 86.1L589.1 84.2L589.6 82.4L590.2 80.5L590.2 80.5L589.8 82.4L589.5 84.2L589.2 86.1L589.0 88.0L588.7 89.9L588.4 91.7L588.1 93.6L587.8 95.5L587.7 97.3L587.7 99.2L587.7 101.1L587.6 102.9L587.5 104.8L587.4 106.7L587.3 108.6L587.1 110.4L587.0 112.3L586.9 114.2L586.7 116.0L586.6 117.9L586.4 119.8L586.3 121.7L586.2 123.5L586.0 125.4L585.8 127.3L585.8 129.1L585.8 131.0L585.8 132.9L585.9 134.7L585.9 136.6L585.9 138.5L585.9 140.4L586.0 142.2L586.0 144.1L586.0 146.0L586.0 147.8L586.1 149.7L586.1 151.6L586.1 153.4L586.1 155.3z" fill="#8b1a1a"/>
<path d="M576.4 155.3L576.3 154.7L576.2 154.0L576.2 153.4L576.1 152.8L576.0 152.1L576.0 151.5L575.9 150.9L575.9 150.2L575.8 149.6L575.7 149.0L575.7 148.3L575.6 147.7L575.6 147.0L575.5 146.4L575.4 145.8L575.4 145.1L575.3 144.5L575.3 143.9L575.2 143.2L575.1 142.6L575.1 142.0L575.0 141.3L574.9 140.7L574.9 140.0L574.8 139.4L574.8 138.8L574.7 138.1L574.6 137.5L574.6 136.9L574.5 136.2L574.5 135.6L574.4 135.0L574.3 134.3L574.3 133.7L574.2 133.0L574.2 132.4L574.1 131.8L574.0 131.1L574.0 130.5L573.9 129.9L573.9 129.9L573.9 130.5L573.9 131.1L573.9 131.8L573.9 132.4L573.9 133.0L573.9 133.7L573.9 134.3L573.9 135.0L573.9 135.6L573.9 136.2L573.9 136.9L573.9 137.5L573.9 138.1L573.9 138.8L573.9 139.4L573.9 140.0L573.9 140.7L573.9 141.3L573.9 142.0L573.9 142.6L573.9 143.2L573.9 143.9L573.9 144.5L573.9 145.1L573.9 145.8L573.9 146.4L573.9 147.0L573.9 147.7L573.9 148.3L573.9 149.0L573.9 149.6L573.9 150.2L573.9 150.9L573.9 151.5L573.9 152.1L573.9 152.8L573.9 153.4L573.9 154.0L573.9 154.7L573.9 155.3z" fill="#0a0a0a"/>
<path d="M578.0 166.1L578.0 165.8L577.9 165.5L577.9 165.3L577.8 165.0L577.8 164.7L577.8 164.5L577.7 164.2L577.7 163.9L577.6 163.7L577.6 163.4L577.5 163.1L577.5 162.8L577.5 162.6L577.4 162.3L577.4 162.0L577.3 161.8L577.3 161.5L577.3 161.2L577.2 161.0L577.2 160.7L577.1 160.4L577.1 160.2L577.0 159.9L577.0 159.6L577.0 159.4L576.9 159.1L576.9 158.8L576.8 158.5L576.8 158.3L576.8 158.0L576.7 157.7L576.7 157.5L576.6 157.2L576.6 156.9L576.6 156.7L576.5 156.4L576.5 156.1L576.4 155.9L576.4 155.6L576.4 155.3L564.9 155.3L565.2 155.6L565.5 155.9L565.7 156.1L566.0 156.4L566.2 156.7L566.5 156.9L566.8 157.2L567.0 157.5L567.3 157.7L567.5 158.0L567.8 158.3L568.1 158.5L568.3 158.8L568.6 159.1L568.8 159.4L569.1 159.6L569.3 159.9L569.6 160.2L569.9 160.4L570.1 160.7L570.4 161.0L570.6 161.2L570.9 161.5L571.2 161.8L571.4 162.0L571.7 162.3L571.9 162.6L572.2 162.8L572.5 163.1L572.7 163.4L573.0 163.7L573.2 163.9L573.5 164.2L573.8 164.5L574.0 164.7L574.2 165.0L574.5 165.3L574.7 165.5L575.0 165.8L575.2 166.1z" fill="#0a0a0a"/>
<path d="M579.1 155.3L579.2 154.6L579.2 153.9L579.3 153.2L579.4 152.6L579.4 151.9L579.5 151.2L579.6 150.5L579.7 149.8L579.7 149.1L579.8 148.4L579.9 147.7L580.0 147.0L580.0 146.3L580.1 145.6L580.2 144.9L580.2 144.2L580.3 143.6L580.4 142.9L580.5 142.2L580.5 141.5L580.6 140.8L580.7 140.1L580.8 139.4L580.8 138.7L580.9 138.0L581.0 137.3L581.1 136.6L581.1 135.9L581.2 135.2L581.3 134.6L581.3 133.9L581.4 133.2L581.5 132.5L581.6 131.8L581.6 131.1L581.7 130.4L581.8 129.7L581.9 129.0L582.0 128.3L582.1 127.6L582.1 127.6L582.1 128.3L582.1 129.0L582.1 129.7L582.1 130.4L582.1 131.1L582.1 131.8L582.1 132.5L582.1 133.2L582.1 133.9L582.1 134.6L582.1 135.2L582.1 135.9L582.1 136.6L582.1 137.3L582.1 138.0L582.1 138.7L582.1 139.4L582.1 140.1L582.1 140.8L582.1 141.5L582.1 142.2L582.1 142.9L582.1 143.6L582.1 144.2L582.1 144.9L582.1 145.6L582.1 146.3L582.1 147.0L582.1 147.7L582.1 148.4L582.1 149.1L582.1 149.8L582.1 150.5L582.1 151.2L582.1 151.9L582.1 152.6L582.1 153.2L582.1 153.9L582.1 154.6L582.1 155.3z" fill="#0a0a0a"/>
<path d="M578.0 166.1L578.0 165.8L578.1 165.5L578.1 165.3L578.1 165.0L578.1 164.7L578.2 164.5L578.2 164.2L578.2 163.9L578.2 163.7L578.3 163.4L578.3 163.1L578.3 162.8L578.3 162.6L578.4 162.3L578.4 162.0L578.4 161.8L578.5 161.5L578.5 161.2L578.5 161.0L578.5 160.7L578.6 160.4L578.6 160.2L578.6 159.9L578.6 159.6L578.7 159.4L578.7 159.1L578.7 158.8L578.8 158.5L578.8 158.3L578.8 158.0L578.8 157.7L578.9 157.5L578.9 157.2L578.9 156.9L578.9 156.7L579.0 156.4L579.0 156.1L579.0 155.9L579.0 155.6L579.1 155.3L590.5 155.3L590.2 155.6L590.0 155.9L589.8 156.1L589.5 156.4L589.3 156.7L589.0 156.9L588.8 157.2L588.5 157.5L588.3 157.7L588.0 158.0L587.8 158.3L587.5 158.5L587.3 158.8L587.1 159.1L586.8 159.4L586.6 159.6L586.3 159.9L586.1 160.2L585.8 160.4L585.6 160.7L585.3 161.0L585.1 161.2L584.8 161.5L584.6 161.8L584.4 162.0L584.1 162.3L583.9 162.6L583.6 162.8L583.4 163.1L583.1 163.4L582.9 163.7L582.6 163.9L582.4 164.2L582.2 164.5L581.9 164.7L581.7 165.0L581.5 165.3L581.2 165.5L581.0 165.8L580.8 166.1z" fill="#0a0a0a"/>
<path d="M565.6 90.9h0M572.9 126.5h0M570.4 125.1h0M570.7 105.4h0M567.6 115.3h0M565.5 94.2h0M571.4 110.4h0M568.3 106.5h0M573.3 143.0h0M572.2 130.2h0M572.1 118.0h0M570.1 107.3h0M552.8 92.9h0M544.3 90.9h0M569.5 131.8h0M565.4 90.7h0M567.1 143.8h0M570.7 126.7h0M556.9 94.7h0M565.0 127.3h0M572.2 139.1h0M564.0 117.5h0M568.7 118.5h0M573.4 124.8h0M560.2 101.9h0M568.8 109.0h0M572.6 149.8h0M569.1 118.7h0M557.5 94.3h0M567.6 121.5h0M572.3 135.5h0M563.2 90.1h0M565.6 99.8h0M573.3 136.4h0M568.4 97.4h0M572.7 147.1h0M573.3 137.7h0M557.5 89.9h0M565.1 130.7h0M570.6 150.0h0M564.2 107.1h0M570.3 114.4h0M570.6 133.8h0M568.3 125.7h0M556.2 92.4h0M561.5 96.6h0M569.8 152.6h0M570.2 119.0h0M571.8 127.2h0M565.0 125.1h0M560.6 89.6h0M552.8 114.0h0M564.5 126.1h0M573.7 129.3h0M559.1 89.1h0M570.1 136.8h0M567.6 134.3h0M570.7 119.2h0M564.9 95.3h0M553.9 101.6h0M568.1 149.9h0M562.2 90.3h0M562.3 116.4h0M568.6 141.9h0M569.2 101.1h0M570.5 131.3h0M573.2 127.2h0M563.1 109.8h0M569.0 100.7h0M569.4 120.9h0M564.5 115.0h0M566.1 137.2h0M565.2 90.7h0M570.6 131.0h0M560.2 86.4h0M567.4 95.2h0M570.3 138.5h0M561.2 86.1h0M569.1 112.0h0M569.7 102.4h0M570.6 122.7h0M573.0 129.8h0M556.6 91.2h0M565.2 108.2h0M543.4 112.8h0M565.1 92.5h0M563.0 119.8h0M569.6 113.1h0M570.3 114.5h0M570.3 110.1h0M567.7 95.1h0M558.8 108.2h0M563.4 118.4h0M568.2 96.5h0M567.4 132.7h0M561.6 105.5h0M566.0 94.1h0M563.9 102.9h0M564.4 99.3h0M562.8 125.5h0M564.8 142.3h0M567.0 147.9h0M566.1 100.5h0M564.6 89.9h0M569.9 140.0h0M563.5 93.4h0M568.9 106.4h0M562.3 112.6h0M569.8 102.9h0M569.4 100.3h0M571.5 154.8h0M560.8 153.1h0M562.8 110.1h0M565.4 122.2h0M553.5 107.7h0M573.1 134.1h0M557.6 93.8h0M561.1 116.5h0M571.5 147.8h0M559.6 94.1h0M564.3 105.8h0M572.6 137.7h0M558.8 102.3h0M564.0 90.3h0M572.4 153.7h0M571.9 140.5h0M566.2 115.8h0M561.6 100.7h0M569.7 118.5h0M564.0 90.8h0M557.8 97.2h0M564.5 96.0h0M567.2 95.3h0M573.8 140.1h0M568.4 132.0h0M560.3 132.8h0M563.3 99.6h0M568.0 116.5h0M564.7 113.5h0M571.7 127.6h0M571.0 149.3h0M559.3 93.6h0M566.9 129.4h0M573.5 145.1h0M571.4 154.0h0M569.9 107.5h0M571.8 153.9h0M569.1 104.5h0M566.5 96.4h0M558.3 97.1h0M567.1 131.3h0M569.4 137.2h0M566.7 120.5h0M567.8 116.0h0M555.9 87.5h0M572.6 130.0h0M570.0 125.5h0M563.4 96.4h0M568.2 128.0h0M573.2 139.5h0M572.8 121.9h0M556.7 89.2h0M568.4 152.7h0M554.1 94.2h0M569.9 127.4h0M570.7 135.9h0M558.6 151.6h0M570.5 110.5h0M571.7 137.3h0M554.3 87.6h0M557.9 94.6h0M560.6 93.9h0M573.0 133.5h0M570.3 106.1h0M567.9 154.0h0M563.9 96.5h0M563.0 115.6h0M572.3 117.2h0M553.3 131.1h0M572.1 144.8h0M560.4 136.8h0M565.8 117.9h0M569.3 102.1h0M552.6 88.0h0M565.6 112.1h0M567.2 131.0h0M572.1 140.9h0M571.7 111.0h0M572.6 147.4h0M560.7 97.7h0M561.4 81.5h0M571.5 141.2h0M572.4 131.6h0M568.2 153.9h0M566.0 132.2h0M570.3 113.1h0M571.2 137.9h0M567.2 144.7h0M571.6 111.6h0M568.6 103.3h0M569.0 107.4h0M571.9 118.2h0M566.0 92.6h0M569.1 112.9h0M570.9 121.6h0M571.6 113.3h0M569.4 137.5h0M571.1 138.9h0M572.5 124.3h0M569.3 143.2h0M561.5 100.6h0M560.9 102.7h0M568.6 101.9h0M560.5 123.2h0M561.8 115.6h0M572.0 118.7h0M571.3 112.9h0M565.9 135.4h0M565.2 94.2h0M571.7 139.0h0M562.6 148.6h0M567.4 123.8h0M568.6 154.0h0M572.2 118.8h0M563.8 89.7h0M563.5 89.5h0M568.7 147.8h0M564.6 144.5h0M563.5 136.8h0M571.1 123.1h0M571.3 136.8h0M570.3 102.9h0M566.2 93.4h0M572.1 146.5h0M567.6 123.8h0M561.8 89.2h0M572.8 146.6h0M559.3 89.1h0M560.4 93.9h0M568.8 106.4h0M567.8 113.2h0M570.7 122.1h0M566.5 108.5h0M562.5 85.1h0M552.9 94.5h0M562.2 91.9h0M559.4 98.0h0M570.2 124.4h0M571.7 140.6h0M557.9 86.5h0M554.2 118.2h0M572.4 128.4h0M559.8 95.7h0M567.1 103.4h0M560.1 89.2h0M567.8 117.8h0M572.1 114.2h0M572.3 134.4h0M573.7 143.1h0M536.7 79.7h0M570.0 134.6h0M572.7 132.8h0M573.3 135.8h0M569.4 104.5h0M571.8 130.8h0M571.5 116.0h0M562.5 150.4h0M557.7 88.5h0M564.6 109.5h0M570.8 114.2h0M571.0 135.7h0M563.8 102.9h0M569.8 120.7h0M565.5 141.0h0M571.9 126.9h0M567.5 105.9h0M569.5 130.5h0M568.2 109.3h0M564.4 111.9h0M566.5 138.2h0M568.7 96.5h0M570.2 150.2h0M559.1 143.9h0M568.7 98.7h0M572.0 121.1h0M564.8 122.8h0M566.5 94.9h0M568.2 119.5h0M568.1 120.0h0M561.2 88.7h0M573.9 144.4h0M568.4 107.6h0M552.3 127.5h0M563.7 132.2h0M573.6 152.2h0M569.6 110.2h0M560.2 90.4h0M569.9 113.9h0M565.2 101.6h0M567.6 113.6h0M567.5 98.4h0M571.4 135.2h0M568.4 122.3h0M571.8 110.2h0M572.6 127.1h0M573.2 143.2h0M572.0 122.7h0M568.1 99.5h0M566.9 149.5h0M561.1 108.0h0M560.0 90.8h0M571.1 127.7h0M565.7 99.7h0M560.2 87.4h0M565.1 103.7h0M569.5 150.9h0M565.8 100.2h0M561.2 152.1h0M564.6 91.1h0M564.1 91.2h0M565.2 99.5h0M571.4 115.0h0M561.7 92.6h0M566.6 130.9h0M571.9 138.0h0M557.8 96.1h0M562.0 116.1h0M569.9 108.5h0M569.0 132.7h0M571.4 133.2h0M571.7 129.3h0M567.8 96.2h0M568.5 103.7h0M566.9 120.4h0M565.9 90.8h0M570.2 124.6h0M569.1 153.6h0M563.5 96.5h0M570.5 107.7h0M562.1 90.0h0M564.3 110.9h0M573.0 140.1h0M570.5 147.1h0M569.0 110.6h0M558.3 140.4h0M569.3 112.2h0M573.4 152.6h0M569.8 110.4h0M559.6 100.9h0M566.9 100.2h0M566.8 109.6h0M572.5 121.2h0M573.3 143.8h0M569.4 127.5h0M572.2 143.0h0M567.8 143.5h0M554.4 88.6h0M572.7 133.3h0M569.4 132.9h0M572.6 133.3h0M568.9 132.3h0M565.1 95.3h0M570.6 151.6h0M561.8 125.4h0M560.2 131.3h0M564.9 124.4h0M565.7 94.2h0M549.7 91.3h0M567.2 110.1h0M558.0 96.7h0M569.3 113.2h0M571.5 150.5h0M565.9 98.6h0M559.1 88.0h0M567.5 142.7h0M570.6 144.3h0M568.0 97.5h0M572.9 127.1h0M572.0 146.9h0M570.3 122.3h0M567.1 93.7h0M568.2 97.6h0M557.1 99.3h0M573.1 147.1h0M558.8 96.5h0M569.9 102.7h0M568.2 96.2h0M560.8 85.8h0M560.1 109.1h0M569.6 138.4h0M564.0 97.1h0M553.0 116.2h0M551.3 121.4h0M554.4 137.6h0M571.9 116.9h0M557.4 115.6h0M570.6 131.2h0M572.8 130.9h0M562.0 95.3h0M561.8 92.7h0M545.6 125.4h0M569.2 109.4h0M568.2 96.1h0M562.8 96.9h0M573.7 133.7h0M565.7 99.8h0M568.7 101.0h0M567.2 100.2h0M538.9 86.7h0M561.4 91.2h0M573.2 147.4h0M567.7 118.8h0M568.2 122.4h0M568.7 129.7h0M569.0 98.1h0M570.3 140.1h0M567.8 98.2h0M567.3 135.4h0M568.9 141.7h0M568.6 111.2h0M566.4 99.6h0M559.2 145.0h0M572.2 118.6h0M561.2 126.5h0M555.8 93.4h0M568.5 142.1h0M571.1 118.9h0M565.6 94.5h0M571.0 147.1h0M573.9 143.3h0M562.7 88.1h0M566.3 102.9h0M549.5 112.2h0M568.5 113.4h0M569.6 133.8h0M571.9 145.2h0M570.4 117.4h0M571.5 120.2h0M569.4 142.6h0M572.4 131.4h0M568.2 126.7h0M569.8 104.5h0M566.2 98.8h0M556.9 98.1h0M564.0 127.2h0M552.7 89.3h0M562.0 104.8h0M573.4 135.3h0M562.3 112.4h0M562.6 90.8h0M573.0 121.6h0M571.9 147.0h0M561.4 105.8h0M572.6 120.3h0M572.1 138.4h0M555.6 91.4h0M565.1 111.8h0M556.6 92.7h0M570.0 106.6h0M563.0 112.6h0M571.2 126.1h0M571.0 124.0h0M560.4 91.2h0M565.8 101.8h0M567.4 149.0h0M570.4 115.8h0M560.7 88.2h0M570.2 144.7h0M572.8 130.9h0M570.1 113.7h0M559.6 88.3h0M571.4 149.2h0M568.8 129.5h0M565.0 142.0h0M570.8 107.8h0M566.7 93.3h0M566.8 125.7h0M564.4 112.8h0M572.9 149.6h0M561.5 89.8h0M558.8 127.7h0M573.3 151.0h0M565.5 108.4h0M567.8 97.0h0M555.6 113.5h0M567.7 132.2h0M571.1 121.4h0M562.8 100.5h0M572.4 118.2h0M553.3 115.0h0M543.1 92.1h0M566.4 99.5h0M573.0 140.4h0M568.0 139.1h0M570.9 110.6h0M551.7 91.0h0M563.3 126.4h0M572.7 121.5h0M560.7 98.8h0M569.0 108.8h0M569.7 144.8h0M565.6 115.0h0M560.4 113.6h0M559.0 95.1h0M570.7 137.6h0M563.1 97.8h0M564.3 92.7h0M570.2 124.2h0M558.3 145.7h0M564.2 90.2h0M563.7 95.3h0M569.5 106.7h0M564.0 99.1h0M562.3 98.0h0M563.5 91.6h0M570.1 118.1h0M565.3 106.9h0M549.1 95.5h0M563.7 137.7h0M571.0 137.1h0M557.2 87.4h0M561.4 152.8h0M570.5 107.9h0M569.1 112.3h0M572.8 126.2h0M565.7 130.1h0M558.8 105.1h0M570.6 131.3h0M570.5 150.5h0M567.4 138.0h0M573.0 133.0h0M567.7 97.1h0M571.4 144.4h0M557.5 98.9h0M564.9 153.3h0M573.8 145.8h0M563.9 91.1h0M571.4 126.7h0M559.5 88.6h0M570.6 110.0h0M573.9 131.9h0M556.2 89.6h0M571.2 109.0h0M557.5 127.3h0M569.3 103.9h0M561.1 153.5h0M571.0 120.8h0M565.4 117.3h0M542.8 106.5h0M565.6 143.5h0M559.3 91.5h0M567.5 118.9h0M560.4 93.6h0M559.0 123.5h0M565.1 111.7h0M566.5 111.8h0M572.8 132.1h0M570.2 134.8h0M572.0 114.4h0M566.0 150.2h0M559.4 152.1h0M560.8 147.3h0M571.0 129.5h0M570.6 123.9h0M562.7 127.2h0M571.6 128.8h0M566.3 94.2h0M568.1 95.8h0M572.8 122.2h0M563.7 99.0h0M569.5 107.5h0M573.7 135.1h0M565.4 131.3h0M562.3 97.7h0M563.3 101.6h0M553.0 97.6h0M563.4 107.5h0M573.2 124.0h0M555.5 103.7h0M563.2 95.5h0M542.5 78.5h0M570.6 107.2h0M567.6 105.0h0M568.9 110.0h0M551.5 128.1h0M568.6 109.9h0M573.1 130.2h0M567.9 120.8h0M572.0 141.8h0M569.2 102.3h0M569.9 122.0h0M570.3 112.5h0M560.3 110.2h0M564.2 145.3h0M572.6 129.6h0M567.4 113.8h0M568.0 102.9h0M562.4 89.2h0M561.4 102.2h0M571.8 120.2h0M571.8 131.5h0M564.0 90.7h0M560.3 115.3h0M541.1 95.6h0M551.0 96.7h0M566.2 126.2h0M554.6 134.4h0M565.9 120.0h0M561.6 99.4h0M561.5 110.8h0M549.9 107.7h0M565.8 136.9h0M570.9 148.6h0M566.3 153.2h0M567.1 109.3h0M571.6 112.9h0M563.9 122.3h0M570.4 135.8h0M569.8 109.4h0M560.8 120.7h0M570.1 117.9h0M572.7 149.4h0M568.8 138.7h0M550.2 84.8h0M569.8 150.0h0M566.5 95.4h0M565.2 90.7h0M571.1 142.9h0M561.4 89.1h0M571.7 146.4h0M569.2 149.5h0M573.3 127.4h0M569.3 113.3h0M565.0 91.8h0M569.9 124.9h0M569.8 106.0h0M571.5 126.0h0M572.6 152.2h0M570.2 124.1h0M572.5 138.3h0M551.4 111.2h0M572.1 118.7h0M566.1 151.4h0M562.0 93.5h0M566.0 120.5h0M561.0 88.0h0M564.5 114.6h0M562.6 148.0h0M566.3 141.0h0M554.2 133.5h0M569.2 109.1h0M573.9 142.6h0M559.4 97.1h0M573.3 128.9h0M552.8 95.6h0M570.1 103.2h0M565.4 115.5h0M565.4 116.8h0M573.2 131.1h0M564.5 89.5h0M569.2 104.0h0M569.8 101.0h0M572.0 146.4h0M556.9 92.5h0M571.7 118.0h0M573.4 129.6h0M569.6 111.4h0M569.1 132.2h0M572.8 145.0h0M571.2 111.4h0M572.2 141.4h0M567.5 124.0h0M563.3 140.6h0M567.4 98.5h0M570.3 115.4h0M559.8 107.7h0M570.2 129.0h0M566.8 145.7h0M570.5 120.8h0M570.0 104.5h0M571.8 139.8h0M573.9 129.8h0M573.4 144.7h0M567.5 130.0h0M564.6 153.2h0M571.7 130.6h0M553.5 98.6h0M569.9 113.2h0M555.0 144.6h0M573.6 130.8h0M563.3 153.3h0M565.5 91.7h0M567.9 98.3h0M561.4 88.4h0M572.3 148.8h0M560.0 94.9h0M566.3 92.2h0M570.2 135.9h0M570.1 119.9h0M569.7 139.1h0M572.8 152.2h0M564.6 92.9h0M573.6 152.0h0M570.0 132.6h0M564.2 99.2h0M561.4 108.0h0M560.6 145.4h0M558.8 88.7h0M545.0 109.2h0M568.9 126.4h0M573.2 127.5h0M565.9 133.1h0M565.2 90.8h0M565.8 91.3h0M559.8 91.9h0M569.7 111.4h0M566.4 99.1h0M571.7 133.5h0M568.8 134.0h0M563.2 103.6h0M569.8 138.7h0M570.1 110.4h0M572.1 119.5h0M569.3 141.0h0M569.2 100.0h0M570.6 125.6h0M540.4 105.5h0M566.7 120.5h0M569.4 144.3h0M564.7 115.7h0M569.7 120.0h0M572.0 127.4h0M559.5 94.8h0M573.9 151.0h0M571.7 110.2h0M563.5 88.7h0M562.7 143.7h0M565.3 131.0h0M567.3 93.5h0M572.0 118.6h0M571.7 134.8h0M562.7 95.3h0M565.0 148.5h0M566.8 129.8h0M568.7 104.6h0M559.6 87.6h0M570.3 142.8h0M573.1 123.8h0M572.5 120.2h0M568.6 101.8h0M564.0 101.0h0M563.6 114.6h0M546.4 103.7h0M569.6 134.3h0M561.5 91.7h0M566.3 141.4h0M571.4 133.3h0M553.5 90.5h0M558.1 97.4h0M559.9 94.9h0M571.4 111.4h0M571.8 128.2h0M560.0 74.0h0M568.4 111.4h0M558.3 91.8h0M560.4 125.9h0M569.6 119.8h0M571.2 144.5h0M570.8 117.7h0M570.6 112.0h0M573.3 136.2h0M571.6 110.2h0M573.3 127.0h0M545.6 97.2h0M565.1 107.0h0M563.4 89.3h0M571.5 119.9h0M570.9 110.0h0M568.2 134.8h0M563.6 127.9h0M570.8 129.7h0M573.3 124.7h0M567.3 113.0h0M570.4 118.4h0M553.5 88.4h0M565.5 101.1h0M569.9 108.1h0M566.6 115.5h0M565.1 96.0h0M569.5 121.8h0M566.5 140.0h0M569.8 121.4h0M572.0 120.6h0M567.0 142.5h0M563.5 92.1h0M571.7 126.4h0M565.9 95.2h0M567.7 100.5h0M570.2 102.9h0M573.5 147.7h0M563.9 90.9h0M556.1 94.0h0M564.4 125.9h0M570.0 121.7h0M567.1 106.5h0M563.9 88.4h0M563.3 132.0h0M571.4 123.0h0M565.9 104.0h0M572.7 145.9h0M567.7 114.4h0M565.2 89.9h0M567.9 147.5h0M558.1 101.0h0M569.6 114.9h0M569.4 136.2h0M566.4 110.9h0M568.5 100.9h0M569.6 110.0h0M572.9 130.6h0M569.4 105.5h0M567.7 111.6h0M565.5 128.7h0M571.4 131.0h0M567.6 146.1h0M563.0 94.1h0M572.7 124.1h0M571.3 131.2h0M561.0 88.9h0M569.2 147.7h0M554.6 95.5h0M571.9 127.8h0M565.6 101.9h0M563.0 131.9h0M568.2 108.2h0M571.6 125.3h0M571.4 117.3h0M562.5 87.6h0M559.1 129.8h0M557.4 92.3h0M568.6 130.5h0M562.3 94.5h0M565.5 90.3h0M571.5 129.8h0M563.6 134.0h0M567.2 120.5h0M571.3 139.0h0M551.3 133.2h0M565.9 115.0h0M565.7 92.3h0M562.0 98.9h0M569.4 126.7h0M564.6 109.4h0M565.5 99.0h0M558.0 102.7h0M561.6 92.2h0M569.3 134.3h0M570.9 113.2h0M571.4 126.8h0M560.9 91.9h0M563.2 115.4h0M568.8 100.3h0M573.5 136.3h0M564.9 133.4h0M564.7 121.2h0M560.8 132.1h0M573.7 130.2h0M561.3 113.4h0M566.2 92.5h0M573.2 136.5h0M552.7 137.0h0M566.6 92.5h0M555.5 87.7h0M570.5 148.2h0M560.6 121.3h0M561.4 104.2h0M558.5 88.0h0M563.9 136.4h0M560.2 112.6h0M572.3 115.3h0M568.6 101.0h0M571.5 123.8h0M563.7 88.3h0M564.2 90.3h0M564.4 132.1h0M571.3 131.8h0M573.3 139.1h0M572.2 124.3h0M566.7 119.3h0M566.5 103.7h0M561.3 107.6h0M560.4 93.6h0M567.9 141.5h0M565.5 155.1h0M569.8 124.7h0M569.7 105.9h0M542.6 100.0h0M570.1 107.0h0M560.1 132.9h0M567.5 93.9h0M566.9 97.1h0M566.1 103.1h0M566.4 144.3h0M562.2 89.6h0M563.3 139.5h0M550.1 96.0h0M567.9 103.0h0M573.7 128.4h0M572.0 150.5h0M559.3 118.0h0M561.2 121.6h0M542.0 95.4h0M566.6 103.1h0M558.6 124.2h0M562.2 90.7h0M568.7 100.2h0M563.5 102.1h0M573.6 142.4h0M570.2 108.1h0M561.9 93.1h0M561.7 94.2h0M566.2 126.1h0M571.9 134.2h0M560.3 96.1h0M570.0 113.3h0M570.3 103.2h0M568.6 106.8h0M560.3 84.6h0M569.2 101.2h0M562.7 100.4h0M561.2 87.4h0M571.0 114.3h0M573.5 149.0h0M572.3 122.6h0M570.6 140.9h0M567.4 116.1h0M573.4 127.7h0M564.7 112.3h0M571.7 127.8h0M573.0 138.5h0M557.7 94.9h0M571.4 124.9h0M569.7 143.1h0M561.6 112.0h0M562.3 88.0h0M566.9 94.2h0M560.5 122.1h0M567.7 112.0h0M568.2 131.5h0M552.6 138.9h0M562.2 92.7h0M572.2 117.9h0M569.8 151.5h0M571.2 117.7h0M552.9 87.1h0M543.6 88.0h0M568.4 107.7h0M565.2 99.9h0M551.4 87.3h0M557.2 121.1h0M569.8 104.2h0M554.7 92.5h0M566.5 94.6h0M571.8 123.8h0M564.7 101.8h0M567.3 99.4h0M565.5 122.4h0M568.9 116.0h0M564.5 116.8h0M573.1 139.1h0M556.6 134.6h0M566.4 100.8h0M573.8 131.0h0M551.9 110.7h0M555.1 93.7h0M555.9 124.8h0M535.7 105.0h0M565.5 98.1h0M565.4 137.7h0M553.6 89.0h0M566.8 137.6h0M568.3 137.2h0M572.5 127.6h0M565.4 106.0h0M568.4 96.4h0M569.3 106.9h0M568.1 96.7h0M560.9 93.9h0M572.0 111.7h0M569.0 145.0h0M563.7 109.2h0M561.4 95.8h0M559.4 82.3h0M567.2 118.7h0M571.2 134.9h0M564.7 155.3h0M571.9 126.3h0M570.3 107.7h0M572.6 153.7h0M571.1 121.2h0M571.0 108.0h0M569.4 131.0h0M564.5 90.3h0M571.2 107.1h0M571.4 132.7h0M542.2 126.6h0M565.8 98.4h0M542.5 97.2h0M568.8 122.4h0M563.5 92.0h0M571.7 117.0h0M551.6 91.0h0M569.2 153.1h0M566.1 116.2h0M571.6 134.1h0M572.4 147.8h0M567.5 142.8h0M556.4 88.6h0M573.1 140.2h0M565.7 96.1h0M570.9 110.1h0M568.4 101.8h0M563.0 108.5h0M568.2 95.3h0M566.0 130.5h0M570.9 117.2h0M571.3 137.3h0M564.3 102.8h0M564.5 118.4h0M564.4 89.9h0M566.5 100.2h0M571.6 108.1h0M564.7 93.7h0M560.1 106.6h0M562.0 134.0h0M563.7 91.2h0M573.3 124.7h0M573.1 155.3h0M552.5 89.2h0M573.0 135.2h0M559.9 98.0h0M561.5 97.7h0M570.4 115.2h0M559.5 91.5h0M568.5 96.8h0M573.3 127.3h0M558.5 93.6h0M564.9 102.1h0M571.6 122.1h0M569.2 145.0h0M570.5 104.7h0M559.0 96.1h0M571.5 108.5h0M552.7 78.1h0M561.8 87.9h0M572.6 133.3h0M562.2 142.1h0M561.8 88.5h0M572.8 150.8h0M567.0 133.6h0M567.0 117.8h0M570.4 150.0h0M570.0 131.6h0M558.9 95.4h0M569.5 152.1h0M570.6 122.9h0M562.7 95.3h0M563.7 89.6h0M570.0 104.6h0M570.7 120.8h0M570.5 111.6h0M554.3 94.0h0M572.3 118.7h0M554.5 145.2h0M571.8 110.9h0M566.4 94.8h0M565.1 108.9h0M567.6 96.4h0M572.6 122.5h0M566.5 94.6h0M566.6 110.0h0M572.5 138.9h0M572.0 130.8h0M561.0 90.3h0M566.0 92.9h0M563.9 88.7h0M573.0 125.3h0M572.4 142.0h0M570.0 133.9h0M564.2 101.0h0M569.9 107.8h0M553.8 93.7h0M570.8 139.6h0M570.9 113.4h0M537.8 97.9h0M563.2 88.3h0M572.1 119.6h0M573.6 140.6h0M571.6 109.8h0M572.5 131.0h0M573.7 132.3h0M567.7 125.6h0M567.0 135.5h0M569.5 101.7h0M568.7 129.7h0M558.0 92.9h0M563.8 96.2h0M570.7 119.4h0M567.9 124.8h0M570.7 113.6h0M558.2 96.7h0M573.5 143.8h0M563.4 134.7h0M568.6 128.4h0M564.4 92.8h0M566.3 94.5h0M570.8 117.1h0M567.9 101.4h0M570.3 118.9h0M570.0 112.2h0M561.7 94.4h0M569.6 137.9h0M572.9 122.8h0M570.3 104.5h0M565.6 90.7h0M564.6 120.7h0M567.1 148.5h0M569.1 102.8h0M555.1 96.7h0M567.7 101.3h0M573.3 155.1h0M568.0 97.8h0M563.4 101.7h0M569.4 116.9h0M558.9 115.8h0M562.4 92.7h0M570.7 124.3h0M557.1 81.7h0M553.1 134.7h0M565.0 110.5h0M568.2 111.4h0M564.2 88.8h0M569.9 128.7h0M573.5 127.9h0M565.9 102.4h0M566.9 124.5h0M571.1 138.1h0M570.6 111.3h0M564.0 118.7h0M570.5 111.8h0M555.4 107.0h0M567.7 144.6h0M569.5 116.1h0M569.9 153.3h0M557.9 89.8h0M571.4 145.4h0M565.3 112.8h0M554.7 118.9h0M565.8 118.8h0M569.6 152.2h0M565.7 125.0h0M562.2 88.5h0M565.3 90.8h0M568.6 96.3h0M572.6 127.3h0M556.3 90.2h0M553.5 88.0h0M567.8 133.7h0M567.3 102.0h0M560.2 92.1h0M569.8 108.2h0M560.1 91.2h0M572.6 124.8h0M571.2 115.3h0M557.1 95.4h0M569.2 109.0h0M559.1 93.9h0M572.6 147.0h0M570.5 106.7h0M567.2 118.5h0M562.9 124.2h0M569.0 141.4h0M569.8 145.2h0M569.0 117.2h0M566.9 97.0h0M572.2 138.6h0M557.4 143.1h0M562.5 102.8h0M553.0 91.9h0M560.6 92.4h0M570.7 112.0h0M563.7 95.3h0M571.7 115.7h0M568.8 121.4h0M572.9 144.6h0M564.8 115.2h0M566.0 101.0h0M570.1 147.8h0M565.8 93.1h0M550.5 99.0h0M572.0 131.2h0M556.9 117.3h0M573.1 138.4h0M568.6 109.0h0M561.6 119.1h0M567.8 122.5h0M564.3 93.0h0M565.6 102.3h0M572.0 130.2h0M571.3 154.2h0M570.6 110.4h0M573.2 126.3h0M573.0 141.3h0M568.1 143.5h0M570.1 114.1h0M567.3 101.1h0M567.1 129.8h0M567.8 96.6h0M572.4 125.2h0M561.3 90.0h0M570.7 149.7h0M565.6 92.2h0M566.1 94.9h0M566.1 100.6h0M571.8 112.3h0M566.7 133.4h0M569.8 142.2h0M569.6 106.7h0M568.7 115.7h0M570.4 144.5h0M568.8 133.2h0M562.6 111.7h0M569.6 101.6h0M570.0 106.4h0M567.7 128.0h0M565.3 145.5h0M565.0 98.0h0M567.3 113.0h0M569.8 101.9h0M566.6 95.6h0M559.6 96.9h0M557.6 110.2h0M572.0 134.7h0M570.1 120.1h0M571.4 138.9h0M568.7 134.0h0M569.2 114.5h0M554.8 94.0h0M563.9 116.3h0M572.4 121.2h0M568.1 105.3h0M570.8 111.8h0M566.2 125.3h0M563.1 95.4h0M554.8 97.9h0M562.6 105.1h0M560.0 96.7h0M569.8 112.4h0M572.1 118.1h0M573.8 143.9h0M550.1 87.5h0M568.5 108.0h0M570.5 121.3h0M567.6 94.9h0M554.3 120.6h0M568.8 106.6h0M565.1 108.1h0M559.1 89.1h0M561.1 90.0h0M571.6 109.5h0M570.1 145.8h0M565.9 94.6h0M557.3 149.7h0M564.0 92.1h0M570.9 109.7h0M573.4 135.1h0M565.4 137.3h0M568.3 110.2h0M568.3 97.1h0M566.1 105.0h0M566.2 91.3h0M565.9 100.1h0M563.3 89.8h0M567.5 109.1h0M570.3 153.3h0M568.5 95.9h0M568.1 102.2h0M564.8 110.5h0M553.5 95.8h0M568.6 97.4h0M565.5 152.0h0M573.2 141.2h0M568.8 119.5h0M559.4 90.3h0M564.1 155.2h0M557.1 89.5h0M572.6 139.4h0M566.8 108.1h0M566.0 111.9h0M559.9 80.3h0M569.1 106.1h0M568.6 129.0h0M568.6 135.5h0M572.0 117.2h0M571.0 147.2h0M560.0 96.8h0M572.7 143.8h0M572.3 154.0h0M559.4 149.2h0M554.6 87.9h0M573.8 148.1h0M571.9 148.3h0M557.4 87.6h0M552.6 154.9h0M567.6 140.0h0M565.1 155.0h0M566.1 135.6h0M553.1 96.1h0M553.2 88.5h0M570.7 116.5h0M558.7 101.9h0M561.7 97.4h0M567.4 94.5h0M570.6 110.4h0M565.7 97.6h0M572.5 149.2h0M570.2 106.4h0M572.5 117.3h0M563.1 93.1h0M571.1 150.0h0M569.9 142.9h0M553.2 108.1h0M567.0 152.9h0M561.2 115.9h0M564.6 97.4h0M563.7 88.4h0M565.2 121.2h0M561.5 145.0h0M561.7 91.2h0M559.4 81.1h0M562.0 93.8h0M552.4 133.7h0M569.2 145.9h0M557.2 92.1h0M572.4 152.7h0M569.2 141.4h0M566.2 92.2h0M571.8 141.9h0M565.7 98.9h0M571.6 130.6h0M567.7 103.4h0M571.6 148.1h0M569.9 101.2h0M547.9 91.6h0M571.0 128.9h0M570.8 147.7h0M564.5 105.5h0M570.8 105.1h0M563.4 106.8h0M563.9 108.1h0M567.9 97.8h0M563.3 88.1h0M561.7 105.4h0M570.1 126.7h0M567.7 95.7h0M568.1 124.5h0M562.6 93.8h0M568.1 125.5h0M560.7 91.4h0M564.5 154.3h0M570.7 107.1h0M532.9 127.2h0M572.2 117.2h0M552.3 91.0h0M565.3 132.2h0M569.3 100.9h0M566.0 94.0h0M549.0 99.6h0M561.2 89.4h0M561.0 87.9h0M560.7 90.9h0M571.6 139.1h0M569.2 115.5h0M562.9 101.8h0M569.5 120.1h0M568.1 138.3h0M562.8 116.0h0M565.3 154.2h0M562.1 130.5h0M568.8 154.1h0M568.6 96.3h0M564.5 90.3h0M573.5 151.4h0M568.9 102.5h0M572.5 144.7h0M553.2 137.0h0M572.2 141.7h0M572.3 133.3h0M569.6 123.6h0M570.8 107.8h0M572.9 141.9h0M569.9 118.5h0M570.5 152.2h0M556.1 109.0h0M572.0 129.0h0M571.9 145.7h0M572.5 125.1h0M568.3 107.9h0M572.3 149.1h0M555.4 93.5h0M572.2 126.1h0M572.0 116.0h0M567.5 99.7h0M572.9 137.6h0M571.9 127.7h0M563.1 91.3h0M562.3 148.6h0M568.0 133.5h0M570.6 127.4h0M572.6 127.3h0M566.6 97.3h0M558.6 95.9h0M563.9 124.3h0M566.0 106.9h0M569.9 113.1h0M572.9 133.5h0M567.9 99.6h0M564.6 90.7h0M570.6 108.6h0M558.3 122.1h0M570.2 147.5h0M571.8 124.8h0M568.7 153.2h0M565.1 90.6h0M557.2 89.9h0M560.9 98.9h0M567.7 145.2h0M567.2 104.3h0M570.0 141.3h0M564.7 97.6h0M568.3 111.4h0M572.5 141.7h0M572.9 151.7h0M566.9 113.9h0M573.2 150.5h0M565.3 123.0h0M559.5 88.0h0M563.0 97.8h0M568.0 138.4h0M551.4 139.8h0M572.5 129.5h0M567.6 108.7h0M570.7 122.4h0M565.1 106.5h0M569.0 108.5h0M572.9 146.3h0M569.7 104.1h0M571.8 112.5h0M565.5 104.2h0M565.0 96.7h0M571.5 113.5h0M550.0 96.0h0M565.7 122.4h0M565.4 110.7h0M571.3 143.0h0M570.6 123.0h0M561.9 99.7h0M568.9 112.0h0M556.3 121.7h0M561.0 95.5h0M571.7 119.6h0M564.3 88.7h0M560.4 138.5h0M570.1 107.2h0M569.5 123.1h0M567.8 97.4h0M569.8 105.0h0M571.1 109.8h0M571.8 129.9h0M571.8 117.8h0M565.5 147.2h0M568.1 96.8h0M562.4 113.1h0M559.9 95.6h0M571.2 138.3h0M567.5 108.8h0M568.9 100.5h0M561.1 117.6h0M569.6 135.1h0M562.7 87.5h0M563.2 88.5h0M570.4 108.9h0M562.5 99.6h0M572.6 127.4h0M557.4 105.3h0M566.9 117.5h0M570.6 115.5h0M573.1 151.4h0M556.9 130.2h0M567.9 110.9h0M562.1 108.7h0M569.2 140.9h0M561.4 110.6h0M571.3 143.6h0M564.2 91.3h0M558.5 83.4h0M561.9 94.0h0M558.0 102.6h0M567.7 105.5h0M568.0 114.4h0M572.7 136.6h0M570.6 127.9h0M561.9 87.5h0M568.0 129.9h0M561.2 76.2h0M558.7 115.1h0M568.9 155.1h0M572.0 114.3h0M566.5 96.6h0M570.2 113.0h0M569.4 114.2h0M571.9 154.2h0M565.2 96.2h0M567.7 132.2h0M573.1 127.0h0M570.2 108.5h0M561.0 143.7h0M570.8 120.8h0M573.1 151.7h0M560.5 72.9h0M565.5 130.4h0M565.0 89.9h0M562.0 116.6h0M572.9 134.7h0M566.2 127.8h0M571.6 117.9h0M573.6 148.0h0M566.4 102.7h0M567.8 97.6h0M557.4 87.8h0M564.8 89.2h0M557.9 96.4h0M572.9 133.8h0M567.1 101.5h0M561.9 115.5h0M549.5 91.8h0M565.0 97.4h0M558.4 87.8h0M573.0 144.9h0M573.4 131.2h0M567.5 125.8h0M572.1 118.7h0M570.4 104.6h0M568.0 128.6h0M562.4 126.6h0M569.5 127.7h0M562.3 115.1h0M562.6 96.5h0M565.3 95.1h0M566.9 108.0h0M564.4 94.8h0M564.4 88.7h0M571.6 120.4h0M563.9 95.0h0M565.9 101.3h0M562.4 103.0h0M565.3 153.4h0M568.4 142.9h0M568.0 114.4h0M571.5 134.8h0M563.5 96.5h0M554.1 91.0h0M563.9 112.5h0M566.8 113.0h0M573.3 144.4h0M566.0 91.0h0M568.7 98.0h0M567.1 94.3h0M573.3 147.9h0M567.3 102.5h0M572.7 137.6h0M562.8 118.8h0M564.4 128.7h0M562.8 95.5h0M563.3 90.1h0M569.3 136.2h0M559.2 87.1h0M557.9 80.9h0M551.7 94.1h0M568.2 131.4h0M573.2 148.7h0M548.8 117.0h0M572.0 131.4h0M565.1 97.4h0M551.8 92.4h0M550.0 97.9h0M571.0 140.2h0M572.2 115.4h0M570.0 104.0h0M571.7 109.4h0M560.2 94.3h0M569.5 106.0h0M570.0 108.9h0M567.6 105.2h0M562.3 92.4h0M570.1 151.1h0M569.0 111.3h0M566.2 93.0h0M550.1 98.7h0M568.7 132.5h0M571.8 132.0h0M566.3 97.4h0M573.7 152.2h0M560.1 112.5h0M570.6 133.8h0M563.8 89.1h0M569.5 130.9h0M558.1 155.3h0M569.6 106.4h0M566.7 96.9h0M572.4 148.7h0M570.2 104.4h0M571.3 129.9h0M567.7 95.2h0M551.0 101.6h0M558.0 146.5h0M563.6 95.6h0M571.7 112.0h0M558.8 112.2h0M565.2 152.7h0M569.7 119.0h0M562.4 93.3h0M566.2 134.8h0M569.9 118.0h0M561.7 88.0h0M569.6 100.3h0M572.5 127.9h0M569.4 100.2h0M567.4 155.2h0M559.1 136.6h0M552.3 104.6h0M553.5 112.5h0M573.3 153.8h0M569.7 113.8h0M573.2 133.7h0M559.8 98.0h0M566.8 100.6h0M568.9 118.4h0M559.4 142.0h0M535.6 128.7h0" stroke="#2a8f2a" stroke-width="1.1" stroke-linecap="square" fill="none"/>
<path d="M587.3 116.4h0M584.8 108.0h0M594.1 112.5h0M594.7 113.6h0M595.8 74.6h0M610.7 93.8h0M611.8 144.5h0M630.1 129.9h0M605.3 102.0h0M603.7 134.5h0M585.8 106.6h0M587.5 95.6h0M584.7 122.6h0M584.9 129.7h0M584.6 149.0h0M591.9 91.8h0M600.2 90.0h0M600.7 76.7h0M598.7 129.8h0M582.5 134.6h0M590.6 88.8h0M588.0 121.1h0M589.7 84.7h0M584.8 134.8h0M609.8 104.3h0M641.1 96.8h0M596.2 120.2h0M585.9 128.6h0M594.8 124.6h0M608.4 144.1h0M602.0 147.8h0M619.7 128.0h0M591.7 110.8h0M603.1 95.4h0M607.3 132.0h0M603.9 117.7h0M622.4 77.1h0M611.8 135.4h0M629.6 82.0h0M595.4 148.2h0M639.2 136.4h0M595.8 103.9h0M613.4 122.4h0M609.2 129.9h0M584.9 127.5h0M618.1 94.7h0M591.2 138.2h0M598.8 115.9h0M583.0 137.2h0M606.5 107.9h0M592.7 151.7h0M583.4 150.0h0M588.1 144.1h0M615.1 103.4h0M656.3 131.6h0M586.2 144.0h0M604.2 108.9h0M592.3 115.7h0M584.8 116.2h0M603.2 151.7h0M611.2 111.3h0M588.5 91.4h0M599.3 137.9h0M589.0 103.1h0M606.5 96.8h0M601.7 118.5h0M605.7 127.9h0M592.8 116.8h0M593.4 130.4h0M588.0 120.6h0M606.2 137.9h0M582.7 154.3h0M584.5 135.2h0M597.0 155.1h0M590.6 131.1h0M612.8 147.5h0M584.4 129.4h0M583.8 146.3h0M585.0 153.0h0M600.4 127.5h0M597.1 148.1h0M594.0 102.3h0M593.5 154.9h0M594.8 106.3h0M643.8 137.5h0M601.0 115.2h0M586.1 118.7h0M585.8 134.5h0M588.3 114.2h0M594.4 107.9h0M585.2 114.5h0M600.8 68.2h0M623.1 87.2h0M587.1 107.2h0M584.6 113.1h0M607.1 130.6h0M619.0 82.2h0M596.0 93.2h0M593.5 117.9h0M587.8 125.7h0M608.9 92.0h0M588.4 128.2h0M587.4 134.9h0M588.4 126.6h0M588.1 153.0h0M583.4 139.5h0M602.5 77.1h0M599.6 116.3h0M584.5 146.1h0M589.7 102.3h0M590.7 99.7h0M584.4 133.5h0M625.6 137.7h0M611.3 87.1h0M595.1 89.2h0M592.6 87.2h0M589.4 88.2h0M588.5 139.6h0M590.5 95.3h0M588.7 125.5h0M596.3 141.4h0M608.2 96.0h0M583.3 134.7h0M583.2 125.7h0M602.2 119.5h0M591.9 94.7h0M634.0 106.1h0M585.5 146.2h0M602.8 86.2h0M592.0 141.8h0M598.5 154.0h0M593.5 134.7h0M585.4 126.9h0M604.0 122.5h0M583.8 139.7h0M585.9 99.9h0M596.1 85.2h0M588.5 139.8h0M582.3 142.1h0M591.6 142.0h0M582.4 148.7h0M596.3 118.0h0M587.9 128.4h0M603.1 106.2h0M595.1 128.1h0M614.8 89.4h0M590.9 110.2h0M585.6 153.3h0M587.6 134.5h0M606.4 146.9h0M593.4 80.4h0M591.0 129.8h0M603.9 117.4h0M595.9 120.8h0M595.5 138.5h0M618.1 70.2h0M614.6 149.8h0M593.6 105.4h0M585.4 135.6h0M641.2 115.4h0M610.1 97.0h0M589.3 102.6h0M590.9 104.9h0M594.3 113.7h0M597.1 145.2h0M589.1 117.5h0M598.2 148.3h0M598.4 141.8h0M588.0 113.2h0M583.3 149.3h0M586.8 109.9h0M601.8 105.6h0M586.3 146.2h0M603.8 131.2h0M600.2 120.9h0M603.2 73.4h0M589.3 142.8h0M607.6 110.9h0M631.1 82.3h0M596.4 149.6h0M590.5 145.3h0M595.2 107.9h0M589.3 109.6h0M589.5 116.4h0M630.1 144.9h0M659.7 69.9h0M586.1 147.9h0M599.3 92.4h0M583.2 151.8h0M610.1 137.4h0M591.9 82.8h0M588.1 154.6h0M597.5 83.9h0M585.0 115.2h0M592.7 142.4h0M608.2 76.0h0M597.3 153.0h0M583.2 119.7h0M588.9 108.5h0M607.6 153.4h0M592.7 112.5h0M584.2 141.3h0M587.8 112.8h0M598.6 80.0h0M604.8 129.9h0M593.2 121.6h0M588.7 112.1h0M592.0 115.3h0M601.5 144.0h0M598.7 121.0h0M594.9 117.6h0M582.7 151.9h0M588.3 118.1h0M589.3 129.2h0M604.3 114.9h0M587.4 96.0h0M590.1 104.6h0M596.1 121.0h0M596.8 138.8h0M583.0 137.2h0M614.1 118.3h0M593.9 113.7h0M585.1 133.2h0M588.6 142.4h0M593.5 88.6h0M648.8 127.8h0M630.4 90.3h0M591.6 152.0h0M585.0 140.6h0M590.0 155.0h0M593.6 131.9h0M584.7 127.1h0M589.5 116.9h0M616.8 131.4h0M589.2 151.1h0M602.1 150.6h0M668.9 123.5h0M586.1 130.8h0M604.0 133.0h0M585.7 140.5h0M584.4 147.3h0M635.3 125.6h0M592.6 147.7h0M607.2 102.8h0M588.9 112.3h0M597.1 112.4h0M594.5 151.2h0M587.1 123.6h0M589.7 112.2h0M597.7 145.9h0M594.5 99.8h0M587.6 107.7h0M583.0 143.2h0M587.7 110.7h0M612.0 71.9h0M611.5 112.6h0M594.7 74.4h0M587.8 111.6h0M608.2 112.0h0M583.1 129.2h0M605.1 126.5h0M593.2 147.4h0M661.1 129.8h0M588.9 122.4h0M586.8 146.9h0M600.9 103.3h0M584.8 150.0h0M621.7 134.6h0M586.5 129.2h0M592.8 127.0h0M586.5 121.0h0M589.9 150.0h0M584.5 129.4h0M611.9 147.3h0M593.8 120.3h0M588.7 134.9h0M585.9 154.5h0M587.2 118.9h0M583.3 123.7h0M599.7 155.1h0M629.0 85.9h0M588.1 124.5h0M585.5 101.4h0M584.4 139.7h0M590.3 114.6h0M595.6 115.2h0M590.0 126.8h0M606.2 129.3h0M597.5 130.4h0M583.5 144.2h0M592.2 92.2h0M596.7 119.0h0M582.5 126.1h0M586.0 116.9h0M590.8 120.3h0M582.6 145.2h0M628.6 99.5h0M587.4 105.1h0M593.8 144.6h0M591.7 144.8h0M588.9 125.1h0M625.6 134.6h0M587.9 115.6h0M585.3 137.5h0M583.8 149.0h0M582.7 133.3h0M602.3 78.9h0M585.2 122.3h0M582.3 143.2h0M586.7 112.5h0M600.2 102.5h0M590.0 132.5h0M586.5 138.3h0M593.5 131.1h0M592.2 121.6h0M587.7 135.1h0M589.2 148.5h0M598.8 133.5h0M605.6 98.3h0M600.1 147.8h0M591.6 134.0h0M592.7 96.1h0M598.8 70.3h0M586.9 128.3h0M596.6 136.2h0M584.6 124.8h0M584.7 110.4h0M589.4 111.4h0M655.3 123.9h0M589.3 148.6h0M631.7 118.7h0M620.6 127.0h0M606.7 98.9h0M583.5 122.9h0M589.5 84.3h0M597.9 149.0h0M593.6 99.7h0M592.1 121.2h0M601.3 134.3h0M584.6 142.4h0M606.4 138.4h0M591.3 77.7h0M611.8 135.5h0M589.2 107.9h0M596.5 97.9h0M604.9 131.8h0M615.2 92.0h0M583.5 140.9h0M590.5 99.3h0M588.1 124.0h0M601.1 115.0h0M582.2 139.4h0M587.6 142.6h0M584.5 142.1h0M583.5 142.9h0M588.1 126.9h0M594.6 121.6h0M587.6 92.9h0M592.4 93.8h0M590.0 146.7h0M585.6 112.4h0M621.5 137.4h0M594.2 140.8h0M599.8 154.6h0M595.7 118.3h0M587.3 150.4h0M595.8 76.4h0M600.8 134.6h0M593.7 102.2h0M586.7 153.3h0M596.5 130.5h0M609.0 144.8h0M611.3 122.9h0M593.4 154.4h0M611.1 112.2h0M596.6 117.8h0M588.0 137.7h0M589.9 96.6h0M586.9 129.9h0M626.0 106.6h0M593.7 105.3h0M599.8 143.1h0M596.1 139.7h0M583.1 130.7h0M607.5 130.1h0M587.9 122.0h0M619.0 140.4h0M631.5 95.9h0M609.1 107.3h0M583.6 146.3h0M585.8 115.9h0M602.4 108.2h0M592.3 126.9h0M588.7 146.4h0M599.5 152.6h0M585.3 154.9h0M584.2 130.8h0M586.1 140.1h0M585.1 147.3h0M615.8 78.9h0M585.2 152.0h0M591.9 95.2h0M612.4 95.0h0M590.2 101.5h0M592.0 116.4h0M588.4 147.7h0M583.4 129.6h0M585.2 152.3h0M603.6 118.4h0M587.4 112.7h0M586.1 148.7h0M596.8 145.4h0M602.4 92.6h0M587.2 120.5h0M605.6 107.5h0M582.9 149.2h0M586.9 151.1h0M585.4 106.6h0M586.0 100.2h0M597.5 130.3h0M584.2 121.3h0M607.1 117.0h0M596.1 153.3h0M587.5 136.6h0M590.7 143.4h0M583.2 151.6h0M613.0 136.8h0M607.7 102.3h0M593.8 105.0h0M589.7 133.2h0M583.7 139.2h0M596.0 139.3h0M589.0 94.1h0M615.2 110.7h0M586.6 154.8h0M582.5 128.6h0M585.1 153.7h0M620.5 155.1h0M605.0 119.9h0M582.8 141.1h0M584.3 153.5h0M586.9 139.1h0M609.1 146.5h0M585.0 144.7h0M614.6 99.6h0M582.3 153.1h0M586.1 129.8h0M591.4 113.2h0M582.6 148.6h0M609.5 147.1h0M594.7 125.8h0M591.4 127.8h0M609.1 127.5h0M588.2 138.3h0M583.8 153.0h0M597.4 92.4h0M595.0 134.1h0M585.8 147.8h0M583.6 130.4h0M627.8 93.9h0M605.5 112.7h0M608.8 125.5h0M583.8 148.8h0M605.2 123.4h0M586.0 111.4h0M589.9 140.1h0M592.4 135.0h0M584.0 153.4h0M588.0 153.7h0M601.3 147.8h0M641.7 120.7h0M583.7 136.1h0M596.9 154.2h0M588.6 147.6h0M585.2 116.8h0M610.9 100.8h0M587.3 138.2h0M592.4 145.9h0M596.9 153.4h0M582.9 141.1h0M599.9 111.6h0M588.7 97.2h0M592.6 86.5h0M593.9 141.0h0M589.6 112.5h0M590.3 98.7h0M596.3 66.2h0M606.4 76.3h0M598.2 138.6h0M619.1 113.0h0M604.5 135.2h0M591.8 155.0h0M592.5 112.5h0M587.9 143.2h0M594.5 150.9h0M630.0 139.7h0M588.9 155.2h0M584.4 139.2h0M627.3 124.1h0M592.0 145.6h0M644.9 113.1h0M587.3 133.3h0M606.5 107.5h0M587.6 92.1h0M593.9 116.1h0M583.5 121.5h0M584.4 141.5h0M586.4 125.2h0M589.1 148.1h0M606.7 154.0h0M587.7 144.3h0M600.3 94.0h0M594.8 101.8h0M602.3 85.8h0M586.2 106.4h0M582.9 139.3h0M583.8 147.3h0M582.1 152.9h0M585.0 152.5h0M588.5 146.8h0M588.5 135.0h0M590.2 114.9h0M588.9 119.2h0M586.6 104.6h0M588.6 87.0h0M585.1 150.0h0M593.3 119.5h0M582.6 154.9h0M606.5 85.1h0M598.7 127.9h0M591.1 86.5h0M593.4 94.4h0M590.8 104.2h0M583.9 145.0h0M628.9 145.0h0M590.7 134.0h0M626.5 117.5h0M600.5 134.6h0M582.6 141.2h0M641.6 109.0h0M589.9 118.0h0M591.9 141.5h0M597.6 64.7h0M611.0 101.9h0M599.8 72.1h0M592.1 124.9h0M587.2 132.3h0M585.2 137.7h0M631.6 99.6h0M594.9 131.3h0M587.3 128.8h0M584.4 153.4h0M613.2 68.2h0M611.3 130.6h0M586.0 141.6h0M592.7 138.6h0M618.2 108.8h0M585.9 151.6h0M585.3 138.6h0M586.0 153.0h0M589.2 95.2h0M604.9 106.6h0M584.3 151.6h0M608.0 80.4h0M594.2 130.0h0M585.2 123.9h0M600.2 136.7h0M601.8 96.5h0M585.6 153.8h0M616.1 136.5h0M596.1 119.3h0M636.3 113.9h0M621.7 120.8h0M583.8 143.9h0M591.3 102.5h0M596.3 151.2h0M593.3 135.7h0M600.1 133.1h0M587.5 116.7h0M621.0 151.8h0M592.8 78.8h0M588.5 143.8h0M591.2 145.3h0M597.3 90.4h0M615.3 102.1h0M649.1 114.3h0M585.2 130.1h0M583.4 121.0h0M666.8 125.3h0M594.4 150.1h0M599.7 143.8h0M608.5 76.5h0M583.1 145.2h0M585.8 145.8h0M589.8 115.8h0M599.6 147.3h0M591.0 114.5h0M588.3 113.5h0M613.5 137.7h0M621.3 102.6h0M611.7 98.8h0M585.3 121.3h0M605.4 137.9h0M592.6 77.8h0M583.3 130.1h0M625.8 126.7h0M599.8 120.6h0M584.2 148.4h0M586.1 142.1h0M586.2 120.5h0M592.3 125.2h0M597.3 110.9h0M596.0 117.6h0M598.5 81.8h0M594.0 69.8h0M604.4 99.6h0M601.6 97.1h0M588.2 133.7h0M596.6 109.2h0M599.2 95.0h0M593.7 142.6h0M587.7 100.1h0M592.2 147.2h0M591.7 90.0h0M583.0 122.5h0M586.2 121.8h0M586.8 135.9h0M595.6 97.2h0M585.1 144.2h0M600.7 129.2h0M594.1 101.4h0M582.8 145.0h0M594.7 85.7h0M596.3 131.2h0M587.4 108.2h0M587.3 104.9h0M594.2 121.3h0M586.6 113.8h0M592.8 106.0h0M616.2 72.6h0M593.7 85.0h0M599.3 85.4h0M593.2 132.2h0M599.7 127.7h0M586.9 134.4h0M599.0 152.5h0M589.9 104.5h0M605.3 117.3h0M584.3 114.1h0M607.7 74.6h0M592.2 143.2h0M594.6 102.2h0M631.6 110.6h0M586.2 109.3h0M613.3 127.2h0M609.2 101.9h0M616.1 68.6h0M611.9 84.6h0M631.4 112.6h0M582.8 142.9h0M589.6 140.6h0M587.3 100.2h0M604.8 102.7h0M594.5 96.5h0M592.8 87.2h0M582.7 127.1h0M616.1 90.0h0M589.8 95.6h0M596.2 144.2h0M591.3 110.5h0M583.9 153.8h0M584.8 140.2h0M601.7 68.3h0M607.6 98.2h0M609.9 114.7h0M615.1 110.4h0M626.5 142.5h0M596.3 105.4h0M592.6 133.4h0M584.3 134.9h0M607.8 139.3h0M594.0 83.2h0M592.9 118.9h0M589.5 145.7h0M590.8 155.0h0M584.2 143.3h0M589.6 136.1h0M617.3 148.2h0M594.4 115.0h0M600.4 148.1h0M584.2 142.9h0M620.2 70.9h0M585.7 117.7h0M603.7 107.7h0M594.9 153.2h0M593.5 104.1h0M602.3 124.6h0M594.5 93.0h0M583.9 147.7h0M593.1 148.9h0M599.2 77.6h0M613.9 113.4h0M584.7 112.6h0M589.0 112.8h0M598.2 102.9h0M591.4 117.3h0M601.5 121.7h0M585.1 119.7h0M588.1 148.1h0M604.1 147.1h0M618.3 114.5h0M635.8 138.7h0M594.3 116.5h0M602.4 76.9h0M629.6 102.1h0M616.4 98.0h0M592.0 85.7h0M594.7 126.9h0M586.1 121.7h0M587.4 135.3h0M607.4 116.6h0M619.7 74.0h0M612.2 77.4h0M594.8 147.9h0M592.7 133.5h0M598.6 130.7h0M594.6 102.2h0M592.4 89.1h0M620.8 91.7h0M605.1 137.1h0M596.2 134.4h0M623.9 148.3h0M595.6 73.5h0M588.6 110.0h0M588.4 125.9h0M600.5 78.0h0M595.3 139.4h0M584.3 119.4h0M587.7 91.3h0M582.2 131.7h0M596.2 72.7h0M583.9 153.8h0M595.0 114.0h0M594.2 116.5h0M593.8 153.6h0M591.2 127.8h0M588.0 127.4h0M599.1 100.5h0M591.3 89.4h0M599.1 151.9h0M596.5 84.8h0M585.2 119.0h0M595.3 114.8h0M582.2 142.1h0M586.6 149.1h0M587.1 119.3h0M584.3 118.8h0M588.1 127.8h0M583.8 147.7h0M603.3 88.7h0M614.1 79.6h0M584.8 134.2h0M604.3 114.3h0M591.3 108.6h0M616.1 146.8h0M618.1 101.2h0M589.0 146.4h0M590.0 91.6h0M586.9 126.1h0M591.4 122.0h0M618.3 84.3h0M583.1 122.3h0M615.9 123.8h0M616.7 146.0h0M592.3 115.6h0M586.3 126.7h0M591.3 144.6h0M591.0 84.5h0M598.3 84.0h0M590.1 126.8h0M588.3 102.3h0M587.8 147.0h0M599.2 148.1h0M604.2 95.4h0M592.7 154.8h0M588.5 121.1h0M584.1 134.9h0M592.2 148.7h0M583.6 124.0h0M602.3 74.4h0M591.1 106.4h0M618.5 97.0h0M653.2 110.8h0M603.7 119.9h0M587.4 147.1h0M588.0 142.3h0M588.9 145.3h0M591.1 134.4h0M615.9 101.8h0M594.9 142.2h0M600.1 100.5h0M590.6 115.6h0M586.8 111.0h0M595.9 152.2h0M585.2 116.7h0M592.3 98.6h0M599.7 145.5h0M587.8 94.8h0M626.2 87.4h0M599.9 153.3h0M601.4 120.9h0M599.8 92.3h0M595.9 111.0h0M587.8 122.4h0M590.5 104.8h0M592.8 134.6h0M583.5 146.1h0M592.3 102.5h0M615.3 98.7h0M586.2 129.2h0M586.7 104.2h0M589.2 125.3h0M586.0 113.2h0M604.2 133.3h0M592.3 83.0h0M582.8 142.1h0M600.5 125.2h0M587.8 152.3h0M583.2 146.2h0M606.7 149.5h0M586.7 153.0h0M605.1 128.9h0M603.6 107.5h0M607.5 107.0h0M588.5 87.8h0M589.6 101.8h0M586.5 131.5h0M586.5 116.7h0M637.4 125.5h0M582.3 146.3h0M589.5 86.1h0M589.4 128.1h0M592.8 153.3h0M584.6 152.3h0M589.6 100.2h0M595.0 120.8h0M583.2 127.9h0M621.8 141.5h0M606.4 70.3h0M583.8 126.9h0M586.0 128.2h0M588.4 138.2h0M587.9 109.7h0M585.8 137.2h0M583.1 128.4h0M585.6 127.5h0M584.5 153.1h0M588.1 123.8h0M600.7 95.5h0M586.6 139.9h0M599.3 107.1h0M589.0 92.7h0M597.6 66.3h0M598.3 77.6h0M602.8 135.1h0M598.5 141.6h0M586.4 112.2h0M586.0 119.4h0M598.1 128.0h0M602.1 146.5h0M588.7 121.0h0M614.8 107.7h0M603.2 109.0h0M589.1 152.9h0M612.1 83.6h0M591.0 89.3h0M614.6 93.6h0M598.2 118.7h0M593.0 108.1h0M596.3 113.6h0M630.3 92.3h0M597.2 135.9h0M585.7 145.4h0M605.4 122.3h0M586.2 152.0h0M602.6 128.6h0M587.6 142.4h0M583.3 130.1h0M591.7 124.8h0M626.2 121.2h0M608.6 68.6h0M582.3 154.4h0M592.9 153.4h0M587.3 149.1h0M589.9 154.8h0M589.8 128.3h0M591.2 78.0h0M617.9 154.7h0M620.3 120.0h0M606.7 145.7h0M592.3 124.9h0M614.3 139.6h0M607.1 129.8h0M613.7 146.1h0M590.4 136.6h0M588.4 125.1h0M600.4 135.6h0M582.2 133.8h0M629.7 152.0h0M609.1 130.7h0M590.1 132.3h0M594.4 106.7h0M601.9 107.7h0M589.0 130.6h0M592.4 88.3h0M591.7 128.8h0M594.6 139.1h0M595.0 76.1h0M588.4 148.0h0M584.8 137.0h0M591.3 100.3h0M594.0 151.9h0M613.9 69.5h0M591.4 77.7h0M586.5 107.4h0M591.9 147.0h0M623.8 149.0h0M592.2 81.2h0M600.4 104.0h0M586.0 115.3h0M603.1 103.6h0M590.3 99.5h0M585.1 149.3h0M586.7 134.2h0M582.3 152.7h0M587.8 99.8h0M585.5 153.5h0M590.3 97.8h0M640.6 123.6h0M605.5 148.5h0M583.5 148.6h0M584.0 139.8h0M601.9 93.4h0M601.5 97.5h0M588.5 95.5h0M590.8 82.5h0M597.7 122.5h0M592.5 94.2h0M591.8 114.1h0M593.1 116.0h0M586.8 131.1h0M593.6 146.4h0M662.1 128.2h0M603.9 133.4h0M593.9 121.3h0M584.1 150.0h0M591.0 129.7h0M590.1 118.8h0M590.9 114.1h0M593.1 142.3h0M590.4 130.9h0M587.4 145.0h0M601.4 123.4h0M585.0 118.2h0M589.5 124.8h0M589.0 113.1h0M591.6 104.9h0M589.5 135.8h0M587.6 117.8h0M586.3 124.5h0M588.4 92.4h0M586.3 141.1h0M589.7 97.6h0M584.3 128.6h0M586.3 153.7h0M587.9 143.6h0M583.2 150.4h0M595.0 101.3h0M616.2 73.6h0M597.1 130.4h0M589.1 98.4h0M627.7 110.3h0M602.5 118.5h0M584.6 123.2h0M598.8 117.0h0M598.2 100.4h0M590.0 122.3h0M587.9 146.8h0M614.1 117.2h0M608.0 108.5h0M591.9 130.6h0M583.0 145.8h0M590.3 81.4h0M599.2 108.8h0M588.1 143.7h0M590.4 142.7h0M630.3 94.5h0M598.2 137.4h0M621.6 88.9h0M615.7 87.7h0M596.0 83.4h0M589.7 94.8h0M617.8 110.0h0M606.8 137.8h0M601.3 72.8h0M588.2 145.6h0M621.1 118.0h0M614.9 138.1h0M587.4 97.7h0M583.1 149.5h0M588.5 111.2h0M585.7 123.9h0M592.2 95.6h0M589.9 139.7h0M615.9 150.4h0M637.0 115.4h0M596.1 67.0h0M599.1 112.2h0M598.4 105.6h0M587.8 140.2h0M601.3 146.3h0M589.1 130.4h0M640.8 152.7h0M582.9 148.4h0M594.5 132.7h0M631.2 145.8h0M595.9 100.3h0M636.8 120.0h0M590.9 131.8h0M582.4 130.9h0M588.0 99.3h0M616.4 144.6h0M595.2 110.6h0M618.9 67.0h0M613.1 107.7h0M592.2 153.6h0M591.4 132.0h0M595.1 122.0h0M590.7 127.0h0M620.7 134.3h0M606.6 112.1h0M633.7 129.3h0M594.7 67.5h0M588.5 153.0h0M653.8 137.9h0M636.3 72.6h0M618.2 91.6h0M645.6 76.5h0M591.0 135.2h0M583.7 142.9h0M603.5 70.6h0M585.7 124.3h0M597.3 148.1h0M587.6 122.8h0M584.7 134.6h0M592.7 104.7h0M592.9 91.8h0M582.7 140.6h0M587.5 122.0h0M597.5 139.2h0M602.5 79.6h0M595.5 107.7h0M589.9 120.2h0M593.4 123.5h0M586.6 119.0h0M589.6 102.5h0M594.6 133.1h0M591.5 149.2h0M587.9 116.8h0M610.4 149.9h0M595.8 151.9h0M594.6 132.3h0M597.1 82.1h0M610.6 79.3h0M598.1 125.1h0M595.0 139.1h0M600.8 126.6h0M588.4 132.8h0M583.5 118.3h0M610.5 100.0h0M592.0 107.5h0M604.2 80.3h0M583.6 153.0h0M600.9 105.3h0M613.0 80.5h0M589.3 150.0h0M637.6 95.2h0M583.1 152.8h0M615.1 109.9h0M593.4 139.8h0M592.9 99.2h0M602.7 67.5h0M664.9 155.3h0M591.5 93.0h0M583.5 144.7h0M608.3 155.2h0M604.9 104.2h0M586.8 146.1h0M645.4 116.0h0M595.0 86.9h0M591.1 147.5h0M612.6 124.2h0M597.3 132.7h0M591.1 117.5h0M590.6 138.3h0M595.1 125.9h0M598.6 131.3h0M590.5 111.1h0M582.2 128.1h0M601.7 123.9h0M608.5 113.9h0M610.9 153.1h0M599.5 117.3h0M600.3 103.1h0M599.4 109.5h0M610.2 152.5h0M588.9 98.9h0M583.4 151.2h0M597.6 141.6h0M639.3 97.1h0M582.8 123.9h0M626.8 136.0h0M608.3 95.8h0M585.7 153.2h0M586.6 136.0h0M602.0 134.6h0M585.3 151.3h0M608.2 107.2h0M599.1 112.8h0M592.8 142.4h0M591.0 145.0h0M610.0 87.1h0M584.1 138.3h0M591.4 119.0h0M614.3 133.7h0M605.2 140.3h0M594.2 144.7h0M587.6 114.8h0M587.8 106.8h0M593.1 90.3h0M603.3 112.8h0M596.8 147.9h0M585.5 134.9h0M595.6 133.9h0M587.3 138.4h0M601.0 66.9h0M611.5 145.0h0M584.1 116.7h0M582.6 142.0h0M607.8 118.9h0M590.9 118.0h0M586.5 132.7h0M609.4 81.8h0M587.3 129.6h0M596.6 125.1h0M593.7 124.4h0M582.3 144.1h0M599.1 144.1h0M585.2 132.2h0M591.3 136.7h0M585.7 138.0h0M588.2 136.2h0M607.5 99.7h0M603.1 94.2h0M585.0 131.7h0M600.8 88.8h0M596.2 106.3h0M593.9 153.2h0M594.1 147.5h0M590.3 143.8h0M593.2 136.8h0M583.0 152.8h0M629.3 128.8h0M594.7 121.6h0M589.0 122.6h0M582.8 131.9h0M591.1 133.1h0M610.5 80.6h0M597.5 98.1h0M589.5 104.3h0M602.4 147.0h0M618.8 146.4h0M599.6 86.7h0M623.5 113.1h0M615.5 128.6h0M593.6 137.1h0M587.8 109.8h0M601.7 89.2h0M592.6 83.8h0M623.0 153.8h0M633.3 132.1h0M595.2 110.6h0M599.8 123.9h0M589.5 100.1h0M587.8 108.4h0M589.5 109.3h0M583.1 151.1h0M589.5 148.5h0M612.9 103.3h0M585.4 108.0h0M585.7 105.1h0M613.0 86.5h0M590.0 124.7h0M588.7 87.6h0M590.1 142.7h0M587.7 111.7h0M584.3 149.1h0M599.1 120.9h0M587.2 107.1h0M592.1 116.4h0M586.8 133.6h0M594.0 144.2h0M587.6 92.6h0M585.0 129.2h0M588.7 143.5h0M622.7 131.9h0M603.2 126.1h0M593.5 89.2h0M601.2 142.5h0M584.1 140.6h0M590.7 117.2h0M626.3 100.6h0M602.4 117.2h0M598.8 124.4h0M585.4 124.3h0M593.6 117.3h0M609.0 102.8h0M589.0 117.4h0M602.5 136.9h0M597.4 154.2h0M591.4 148.8h0M602.0 93.6h0M612.9 100.1h0M588.8 154.4h0M586.5 137.8h0M583.2 141.8h0M585.6 125.3h0M585.7 122.4h0M585.7 127.3h0M598.0 116.2h0M600.5 115.6h0M617.4 65.0h0M615.8 95.4h0M596.1 123.0h0M615.9 150.8h0M595.5 100.4h0M589.5 134.2h0M600.2 84.9h0M621.0 76.5h0M582.1 127.7h0M589.8 108.3h0M641.5 143.8h0M585.9 154.7h0M592.1 125.8h0M589.8 134.2h0M605.0 69.9h0M607.9 113.8h0M599.3 145.6h0M611.9 107.2h0M609.7 84.3h0M600.9 143.7h0M582.7 126.8h0M614.0 135.1h0M653.8 152.5h0M584.3 111.6h0M592.4 150.6h0M594.2 104.6h0M607.0 147.3h0M602.9 123.8h0M585.1 111.2h0M586.1 127.5h0M590.2 113.6h0M586.2 144.2h0M616.9 96.0h0M593.1 131.0h0M600.3 113.0h0M590.2 113.7h0M590.0 93.2h0M584.2 118.4h0M594.1 137.9h0M590.0 153.4h0M593.8 118.0h0M598.6 123.7h0M618.5 140.7h0M624.0 148.5h0M589.7 86.6h0M604.4 116.2h0M583.8 141.2h0M608.7 151.3h0M611.5 109.8h0M607.8 118.7h0M607.4 83.2h0M605.3 93.7h0M612.1 129.1h0M597.0 82.9h0M598.6 139.1h0M606.1 99.8h0M585.3 123.1h0M585.7 149.4h0M593.0 140.9h0M585.5 148.6h0M585.5 133.3h0M583.8 132.7h0M589.7 129.1h0M587.0 122.2h0M661.8 137.0h0M593.3 136.0h0M597.5 151.2h0M608.6 105.7h0M590.5 85.7h0M587.7 149.6h0M592.9 104.2h0M625.4 79.8h0M595.4 95.1h0M584.2 120.9h0M585.0 150.2h0M583.6 141.0h0M585.2 149.0h0M589.4 125.6h0M591.2 81.4h0M588.8 117.1h0M588.9 101.4h0M604.0 62.6h0M632.5 101.2h0M606.0 106.1h0M593.7 101.5h0M585.5 142.5h0M585.9 154.1h0M619.8 142.8h0M593.5 101.0h0M613.0 121.8h0M587.5 122.2h0M592.2 121.9h0M588.6 131.2h0M668.6 116.7h0M594.7 77.6h0M598.0 92.1h0M587.1 146.4h0M598.7 135.0h0M642.3 75.0h0M671.6 141.2h0M602.0 125.7h0M605.0 86.9h0M585.0 154.9h0M586.0 144.7h0M638.9 141.3h0M604.7 97.5h0M599.0 144.7h0M614.9 83.3h0M613.4 74.8h0M595.5 134.3h0M588.6 107.3h0M584.7 113.1h0M593.5 144.4h0M584.5 123.4h0M585.7 100.2h0M593.0 77.2h0M598.7 117.9h0M614.6 65.3h0M600.9 109.4h0M598.0 136.9h0M619.0 109.1h0M624.5 141.8h0M612.7 88.9h0M609.0 147.4h0M594.2 135.0h0M595.2 76.5h0M585.2 145.6h0M597.1 138.2h0M600.1 113.9h0M598.6 80.9h0M586.9 148.7h0M596.5 111.9h0M620.9 140.7h0M646.0 112.4h0M584.2 134.4h0M583.7 131.9h0M601.9 98.2h0M628.4 97.3h0M618.4 119.5h0M584.6 146.6h0M585.0 148.4h0M595.2 78.8h0M597.6 113.7h0M588.8 154.7h0M590.0 117.6h0M614.4 103.9h0M596.8 148.9h0M612.4 107.6h0M590.1 87.1h0M595.1 118.3h0M609.3 115.8h0M590.9 121.3h0M585.9 130.3h0M606.2 145.2h0M599.4 66.3h0M590.2 113.7h0M604.8 137.9h0M597.6 86.2h0M584.0 115.4h0M594.4 124.7h0M610.1 155.0h0M583.6 127.2h0M584.7 133.7h0M596.5 98.9h0M636.9 151.6h0M582.8 130.1h0M583.9 133.7h0M615.9 140.0h0M628.7 88.9h0M588.3 153.9h0M607.6 93.4h0M588.9 92.4h0M599.1 115.6h0M599.8 109.0h0M611.2 80.7h0M590.1 118.6h0M605.5 116.5h0M594.5 134.2h0M582.1 130.2h0M586.4 126.8h0M584.7 120.8h0M588.4 146.6h0M589.4 148.0h0M594.7 98.1h0M647.7 107.4h0M618.3 129.4h0M636.0 96.7h0M605.1 116.4h0M601.4 88.9h0M602.5 113.9h0M589.7 125.8h0M594.4 149.2h0M598.5 137.6h0M619.8 85.2h0M594.2 152.6h0M645.5 126.9h0M588.1 134.8h0M589.2 120.6h0M584.9 134.2h0M589.6 102.4h0M587.4 130.2h0M590.1 131.5h0M625.2 151.5h0M605.5 115.5h0M590.3 103.1h0M583.1 144.8h0M622.8 127.5h0M599.1 136.4h0M592.3 89.4h0M589.6 127.0h0M610.2 143.1h0M622.5 145.2h0M593.4 110.5h0M589.7 150.1h0M602.4 145.7h0M616.0 141.8h0M591.3 127.4h0M601.2 143.1h0M584.2 129.1h0M586.3 97.1h0M601.4 108.2h0M606.3 112.8h0M586.4 153.7h0M604.2 112.4h0M584.2 131.2h0M590.7 106.8h0M589.2 129.8h0M597.8 104.4h0M624.2 130.8h0M616.3 97.3h0M591.2 142.8h0M593.3 122.8h0M591.2 80.3h0M586.4 119.0h0M603.8 128.8h0M589.8 114.7h0M585.6 135.4h0M596.8 139.3h0M593.9 109.9h0M599.2 140.0h0M584.3 149.4h0M587.1 137.3h0M631.5 128.5h0M590.1 99.7h0M603.0 91.8h0M615.1 101.5h0M588.1 118.8h0M602.4 82.1h0M600.6 102.4h0M584.3 140.7h0M608.0 97.0h0M588.9 145.4h0M645.6 132.5h0M585.7 125.0h0M586.0 125.0h0M620.4 149.9h0M582.4 144.7h0M591.0 140.6h0M604.1 129.7h0M584.8 135.8h0M601.4 122.7h0M584.4 113.8h0M603.5 142.0h0M602.6 107.3h0M587.0 143.9h0M592.1 142.5h0M595.1 103.8h0M603.3 94.6h0M595.6 149.2h0M583.2 150.5h0M590.8 136.5h0M589.1 96.7h0M589.7 114.9h0M591.3 129.1h0M609.1 145.8h0M600.3 114.1h0M590.5 141.6h0M583.0 140.2h0M591.7 125.4h0M588.9 134.8h0M582.8 148.9h0M601.0 106.3h0M598.2 105.8h0M611.6 151.4h0M593.2 122.8h0M588.0 147.6h0M593.7 111.5h0M583.9 151.8h0M623.5 91.9h0M589.0 107.1h0M590.4 133.5h0M586.4 113.3h0M638.3 110.6h0M592.5 108.1h0M595.2 87.1h0M586.1 144.0h0M593.7 137.6h0M585.1 129.2h0M596.3 98.3h0M584.1 121.3h0M589.2 124.1h0M641.8 102.5h0M588.4 137.4h0M585.4 131.1h0M593.7 126.7h0M587.6 108.2h0M582.5 151.6h0M584.4 131.3h0M590.4 154.6h0M595.3 72.6h0M597.3 92.4h0M595.5 129.6h0M594.4 143.3h0M598.9 97.1h0M588.6 137.2h0M605.8 74.9h0M626.4 112.5h0M586.2 142.0h0M602.8 92.5h0M589.5 87.5h0M604.1 132.2h0M627.4 135.4h0M605.9 141.9h0M585.7 104.6h0M627.2 79.7h0M588.8 131.6h0M598.1 95.5h0M602.6 150.1h0M602.5 106.0h0M609.2 92.7h0M586.9 124.4h0M585.3 148.8h0M588.5 117.2h0M620.7 137.4h0M584.3 132.5h0M589.9 127.1h0M588.6 109.5h0M609.6 73.7h0M590.2 130.3h0M611.9 139.2h0M598.1 86.1h0M631.4 144.6h0M624.9 97.9h0M628.3 138.9h0M592.6 80.2h0M584.6 126.2h0M614.6 108.0h0M587.2 136.6h0M582.3 153.8h0M589.4 94.5h0M615.9 79.5h0M596.3 149.9h0M583.6 141.2h0M589.3 116.4h0M598.6 65.1h0M635.9 107.3h0M592.9 143.4h0M592.3 109.2h0M587.1 121.6h0M603.0 148.0h0M606.2 136.0h0M598.3 126.0h0M617.2 73.7h0M583.4 141.0h0M603.5 122.7h0M587.4 96.6h0M598.7 130.4h0M594.6 137.2h0M582.6 129.9h0M600.2 117.9h0M591.3 131.4h0M585.9 139.3h0M605.2 113.1h0M589.2 151.3h0M600.8 146.4h0M588.0 89.3h0M606.8 123.0h0M591.7 80.6h0M608.3 127.9h0M582.6 133.4h0M591.2 137.6h0M604.7 123.9h0M595.7 115.2h0M599.5 101.5h0M608.3 116.5h0M583.4 131.9h0M589.7 142.8h0M612.8 134.3h0M585.0 137.6h0M587.7 125.3h0M610.0 93.0h0M583.4 138.2h0M586.9 94.6h0M628.8 82.5h0M593.0 144.1h0M593.5 92.3h0M584.7 121.7h0M603.4 75.9h0M593.6 74.7h0M609.9 150.7h0M614.8 128.9h0M655.0 139.8h0M586.6 150.0h0M621.1 82.4h0M598.6 79.2h0M595.8 142.9h0M631.2 120.1h0M599.7 143.5h0M592.1 143.1h0M585.4 141.8h0M608.1 98.8h0M599.3 123.7h0M600.0 81.3h0M604.2 85.0h0M594.4 84.0h0M586.0 118.4h0M599.8 150.6h0M612.7 113.9h0M586.3 114.4h0M583.2 137.7h0M593.0 147.5h0M594.8 78.1h0M635.3 93.6h0M585.8 124.1h0M582.9 133.3h0M594.4 122.0h0M593.3 81.4h0M597.3 109.6h0M594.5 110.4h0M601.4 151.7h0M607.3 77.6h0M589.1 124.8h0M613.9 154.0h0M589.0 142.4h0M585.7 126.3h0M614.8 107.6h0M615.4 115.8h0M587.6 132.2h0M586.3 121.0h0M582.8 126.3h0M597.2 100.2h0M615.5 118.5h0M589.1 117.7h0M631.3 97.1h0M631.2 154.5h0M589.5 115.3h0M601.0 134.7h0M606.5 105.2h0M583.6 138.7h0M586.3 144.8h0M589.1 97.5h0M593.1 141.6h0M592.0 112.7h0M595.7 80.8h0M587.0 154.7h0M583.5 138.9h0M598.1 89.8h0M585.6 103.6h0M600.1 112.7h0M600.5 98.5h0M596.1 127.1h0M586.4 108.3h0M594.4 112.6h0M601.6 87.7h0M587.7 114.2h0M593.0 144.4h0M595.4 129.5h0M588.3 147.5h0M598.4 120.6h0M612.4 148.4h0M591.6 135.0h0M583.7 124.9h0M605.6 112.8h0M588.0 144.0h0M597.8 65.8h0M596.6 142.6h0M600.1 111.6h0M599.7 85.0h0M605.8 150.7h0M604.3 121.1h0M586.7 115.4h0M587.4 144.3h0M587.9 122.2h0M585.1 129.4h0M603.7 147.1h0M603.2 127.8h0M586.4 135.0h0M594.3 131.5h0M587.6 129.2h0M593.8 111.9h0M593.4 149.0h0M598.3 119.8h0M596.7 136.5h0M589.0 88.7h0M583.9 139.4h0M583.5 147.5h0M630.3 127.2h0M610.5 131.3h0M595.1 136.2h0M587.2 131.8h0M584.6 128.0h0M590.7 153.9h0M586.8 124.4h0M592.2 117.6h0M592.0 117.1h0M584.6 143.9h0M617.5 93.7h0M586.5 143.7h0M589.0 110.3h0M585.4 113.1h0M600.2 138.1h0M621.3 123.6h0M630.3 83.1h0M599.8 148.6h0M607.4 133.8h0M597.9 91.5h0M603.7 134.9h0M592.0 118.6h0M582.9 136.6h0M611.4 143.7h0M616.1 68.4h0M588.6 129.2h0M598.9 93.2h0M602.2 91.5h0M594.9 129.2h0M588.8 134.5h0M589.3 95.7h0M590.4 125.8h0M584.8 149.5h0M589.1 94.9h0M582.9 139.4h0M585.1 136.1h0M633.2 148.9h0M591.2 147.1h0M615.0 152.5h0M602.0 134.7h0M585.4 124.4h0M586.3 150.8h0M596.8 110.9h0M587.8 145.5h0M638.3 94.0h0M588.3 151.2h0M596.5 133.0h0M587.7 119.2h0M591.1 111.9h0M585.0 133.0h0M600.0 150.8h0M626.7 110.0h0M585.7 103.3h0M587.9 125.7h0M587.7 123.3h0M583.9 131.3h0M587.6 94.2h0M617.8 70.0h0M597.8 89.3h0M590.7 109.7h0M601.7 119.9h0M583.7 129.9h0M595.3 85.7h0M600.8 108.8h0M584.5 134.5h0M588.5 143.1h0M588.9 129.8h0M593.4 74.4h0M600.1 148.1h0M589.3 141.3h0M584.2 126.4h0M600.2 90.5h0M588.6 121.7h0M605.7 66.5h0M606.1 144.6h0M585.4 146.8h0M601.8 110.8h0M588.8 91.5h0M613.3 87.3h0M588.9 150.4h0M611.4 107.0h0M591.7 91.1h0M615.3 130.0h0M588.6 136.1h0M582.2 128.4h0M582.6 146.4h0M596.9 123.5h0M584.3 120.8h0M587.2 119.4h0M617.6 120.7h0M585.0 153.2h0M618.5 89.2h0M607.7 128.0h0M615.3 143.5h0M623.7 92.6h0M604.7 120.4h0M598.7 115.0h0M622.5 130.3h0M597.5 129.1h0M591.9 143.4h0M602.2 151.2h0M632.8 124.0h0M629.0 131.3h0M590.5 146.7h0M592.7 106.2h0M595.3 76.6h0M582.8 152.6h0M589.4 106.4h0M600.6 71.3h0M586.2 148.4h0M595.7 144.8h0M589.5 115.9h0M584.5 116.2h0M597.0 118.9h0M598.3 115.4h0M605.2 112.8h0M588.3 98.9h0M611.3 111.1h0M588.4 151.0h0M618.7 83.4h0M588.7 87.9h0M596.9 127.1h0M589.6 144.7h0M616.9 155.2h0M628.6 107.1h0M589.3 146.5h0M591.4 141.4h0M608.6 136.1h0M591.2 143.2h0M594.3 105.1h0M597.4 131.4h0M590.7 104.4h0M596.6 137.7h0M582.5 127.3h0M584.0 119.5h0M607.4 104.0h0M591.2 124.4h0M592.3 151.9h0M589.7 140.5h0M595.5 95.2h0M591.7 103.4h0M597.0 74.2h0M583.6 136.4h0M584.2 154.4h0M586.6 97.6h0M586.5 116.4h0M585.2 120.2h0M582.8 132.2h0M604.4 71.6h0M594.2 137.7h0M603.9 105.5h0M592.4 80.0h0M584.8 116.0h0M584.5 144.3h0M615.5 124.8h0M591.9 97.2h0M593.0 153.6h0M596.2 117.7h0M599.0 154.6h0M583.6 129.8h0M588.9 122.2h0M627.4 144.8h0M602.1 136.2h0M593.6 147.3h0M597.2 152.2h0M586.7 155.3h0M587.8 113.9h0M585.0 130.8h0M602.3 79.4h0M593.0 141.5h0M586.1 155.1h0M597.8 135.8h0M591.0 154.7h0M609.7 82.3h0M629.7 119.1h0M593.3 103.1h0M595.6 135.6h0M588.5 134.5h0M602.9 96.2h0M626.1 102.3h0M585.1 141.8h0M602.7 140.8h0M592.2 142.0h0M595.1 131.3h0M641.7 146.6h0M625.6 152.1h0M612.3 91.0h0M592.3 130.2h0M618.0 99.9h0M605.6 101.5h0M583.2 121.8h0M586.2 96.1h0M597.0 147.2h0M587.4 149.8h0M586.4 145.0h0M599.0 131.8h0M616.1 153.0h0M585.3 130.9h0M588.2 129.4h0M595.7 85.0h0M600.4 102.9h0M602.7 78.8h0M601.0 72.9h0M585.3 115.4h0M596.3 120.7h0M624.2 103.8h0M584.5 123.7h0M591.2 105.9h0M613.8 112.6h0M607.8 141.1h0M610.4 149.1h0M593.3 73.8h0M584.4 146.9h0M602.4 125.2h0M587.7 105.9h0M601.1 68.3h0M588.8 133.6h0M620.1 138.0h0M588.6 138.9h0M584.5 134.2h0M591.0 149.7h0M584.4 131.9h0M585.7 136.2h0M613.1 154.3h0M602.5 130.0h0M584.0 146.9h0M597.1 87.1h0M623.1 110.5h0M589.8 124.2h0M586.1 109.2h0M591.3 155.0h0M668.3 129.8h0M585.0 149.3h0M595.3 150.1h0M598.4 148.1h0M591.1 135.0h0M625.7 87.3h0M587.9 130.2h0M606.8 79.9h0M609.7 105.8h0M585.6 129.0h0M602.0 153.4h0M593.8 102.8h0M604.5 79.0h0M586.9 133.3h0M594.4 144.2h0M588.8 133.1h0M628.9 105.9h0M610.2 103.6h0M585.8 146.4h0M590.3 152.7h0M588.0 133.0h0M583.3 152.2h0M588.0 143.9h0M633.5 129.2h0M591.3 127.5h0M593.4 154.9h0M598.8 89.8h0M588.3 108.0h0M595.5 152.7h0M598.9 131.3h0M624.6 93.5h0M594.9 98.4h0M625.2 109.8h0M593.6 137.9h0M586.9 143.7h0M598.4 120.7h0M591.9 115.4h0M588.0 108.4h0M595.1 125.4h0M587.2 144.9h0M595.7 82.8h0M584.7 133.0h0M586.1 122.9h0M588.5 142.7h0M606.7 109.9h0M592.5 93.0h0M584.9 149.2h0M583.8 149.0h0M597.4 152.7h0M619.9 100.8h0M611.4 146.5h0M585.6 132.9h0M600.1 100.6h0M590.1 93.3h0M585.7 120.9h0M582.8 131.8h0M585.6 136.5h0M591.4 107.0h0M588.5 112.7h0M589.9 154.8h0M590.9 133.2h0M618.5 79.4h0M599.6 130.7h0M613.1 133.5h0M582.8 154.2h0M586.6 127.9h0M588.4 125.8h0M597.9 88.6h0M599.7 86.9h0M605.4 149.7h0M624.7 99.3h0M585.8 100.4h0M599.2 106.2h0M597.5 79.7h0M603.7 68.3h0M598.1 128.8h0M602.4 129.9h0M613.7 113.6h0M600.5 83.7h0M594.1 101.7h0M590.0 143.0h0M583.5 146.0h0M584.7 126.6h0M612.6 84.4h0M590.9 132.8h0M584.4 129.1h0M603.1 99.6h0M591.6 126.8h0M594.4 134.9h0M635.4 134.8h0M586.4 128.3h0M594.1 104.5h0M590.0 135.6h0M601.3 82.6h0M584.9 141.0h0M588.9 144.3h0M600.0 97.1h0M590.0 124.4h0M621.5 146.2h0M587.4 153.0h0M607.1 153.5h0M602.1 103.8h0M587.9 130.4h0M620.0 144.3h0M587.6 125.0h0M602.7 115.5h0M595.3 145.3h0M661.4 120.8h0M586.4 102.1h0M627.3 137.1h0M603.5 133.3h0M584.5 112.2h0M589.2 139.1h0M587.2 120.3h0M589.7 106.8h0M585.2 141.9h0M585.7 139.1h0M593.0 112.4h0M587.4 145.5h0M585.8 113.4h0M588.5 96.2h0M590.3 133.6h0M591.7 114.3h0M585.3 134.9h0M584.6 115.7h0M595.4 74.4h0M591.0 104.0h0M592.2 99.4h0M610.1 118.0h0M583.6 136.4h0M603.2 86.9h0M633.1 85.3h0M613.5 136.3h0M594.2 91.0h0M619.3 113.9h0M591.7 89.9h0M593.7 122.5h0M583.0 128.5h0M583.6 135.0h0M590.2 103.8h0M585.1 142.6h0M588.7 89.2h0M594.1 134.8h0M586.1 150.1h0M589.5 140.7h0M592.8 151.4h0M598.7 140.6h0M592.3 133.5h0M623.0 100.4h0M601.2 152.1h0M595.5 88.8h0M612.3 76.2h0M590.8 133.6h0M632.2 93.9h0M591.4 112.6h0M584.0 126.1h0M588.7 139.2h0M591.0 96.3h0M595.3 99.1h0M600.4 153.7h0M584.3 111.9h0M593.6 135.1h0M585.7 114.7h0M588.8 111.7h0M585.6 122.4h0M619.2 103.7h0M594.2 82.8h0M582.2 151.1h0M589.7 124.2h0M591.8 104.9h0M599.3 105.0h0M604.6 122.7h0M590.9 98.6h0M586.4 149.1h0M591.8 152.4h0M590.3 144.4h0M598.1 77.4h0M615.0 131.5h0M592.7 90.8h0M595.4 88.3h0M590.2 148.0h0M595.1 138.8h0M583.6 140.1h0M583.5 152.6h0M593.5 83.8h0M593.9 83.6h0M605.6 130.9h0M611.7 126.0h0M608.1 149.4h0M596.6 73.9h0M595.5 93.5h0M585.3 122.6h0M596.7 131.1h0M594.9 85.9h0M584.1 136.1h0M584.8 148.4h0M606.7 103.0h0M600.5 95.5h0M598.9 105.1h0M604.8 98.8h0M591.5 92.7h0M597.3 95.2h0M583.4 150.2h0M596.8 117.7h0M583.2 143.7h0M596.0 119.6h0M588.1 143.1h0M619.6 93.2h0M589.0 122.9h0M597.9 129.1h0M618.7 70.4h0M591.0 108.5h0M591.2 143.2h0M593.7 131.3h0M583.5 140.1h0M591.4 113.8h0M588.4 114.1h0M589.2 145.9h0M589.5 146.9h0M586.6 121.9h0M589.2 126.8h0M595.3 72.0h0M601.7 72.0h0M616.7 118.5h0M601.2 69.5h0M609.5 69.8h0M587.3 142.1h0M595.6 142.1h0M600.0 147.0h0M584.7 125.5h0M594.7 150.3h0M592.7 123.9h0M599.0 152.6h0M596.0 118.0h0M609.7 112.2h0M586.2 134.6h0M604.8 144.9h0M597.3 98.0h0M592.5 103.5h0M594.5 120.2h0M607.5 123.9h0M586.3 125.3h0M601.1 138.2h0M590.7 135.5h0M634.7 152.8h0M584.2 117.2h0M589.4 135.5h0M587.9 101.0h0M602.7 104.9h0M584.9 117.1h0M582.4 144.5h0M595.7 150.6h0M593.9 116.5h0M592.0 146.2h0M596.2 148.6h0M595.1 124.8h0M606.1 109.9h0M587.1 120.4h0M590.0 101.6h0M582.2 154.0h0M604.3 154.5h0M585.1 139.8h0M585.8 101.1h0M594.1 89.8h0M587.4 124.9h0M589.0 123.7h0M592.7 80.6h0M583.8 142.7h0M617.7 142.2h0M594.6 145.0h0M591.9 120.0h0M596.8 154.8h0M598.7 78.7h0M593.8 82.6h0M608.3 104.7h0M612.8 89.7h0M594.1 97.1h0M583.9 153.1h0M609.1 115.3h0M595.1 149.5h0M586.0 99.3h0M601.7 143.9h0M595.5 126.2h0M584.4 111.8h0M598.7 128.7h0M593.7 131.6h0M625.4 130.9h0M601.7 80.1h0M602.4 79.1h0M583.5 129.3h0M587.4 120.2h0M596.6 88.0h0M582.9 130.5h0M584.4 137.9h0M604.6 72.2h0M585.3 146.3h0M585.8 138.2h0M591.7 86.4h0M587.9 92.6h0M586.9 130.3h0M611.9 72.7h0M604.4 122.5h0M585.2 144.2h0M584.1 150.9h0M586.4 150.6h0M608.5 109.5h0M601.4 114.1h0M583.7 122.7h0M591.3 152.9h0M595.2 115.2h0M583.1 125.0h0M621.2 83.4h0M589.4 83.6h0M635.5 95.8h0M607.2 83.8h0M587.4 121.6h0M598.1 102.5h0M582.6 153.1h0M599.8 120.1h0M594.8 99.2h0M584.3 148.9h0M586.5 149.7h0M590.5 140.6h0M607.3 92.2h0M594.4 141.8h0M588.8 116.9h0M583.7 154.1h0M583.2 127.6h0M598.0 107.6h0M597.6 118.0h0M604.6 101.5h0M589.9 153.8h0M604.6 79.8h0M590.5 109.3h0M595.9 121.1h0M583.5 139.4h0M638.1 117.9h0M609.2 125.7h0M597.3 111.8h0M586.0 143.8h0M599.2 133.0h0M588.3 110.0h0M610.9 121.9h0M583.4 138.6h0M587.9 138.3h0M607.5 132.5h0M588.7 97.5h0M585.8 110.9h0M598.6 77.8h0M621.2 92.0h0M592.8 141.1h0M604.9 145.3h0M667.0 141.5h0M617.9 104.0h0M591.3 140.3h0M633.2 139.3h0M590.2 99.1h0M589.6 124.7h0M583.4 147.4h0M605.8 112.8h0M609.4 97.0h0M601.6 131.2h0M593.2 88.5h0M616.1 115.9h0M589.0 101.5h0M594.0 135.8h0M602.5 96.7h0M610.1 130.1h0M622.8 131.6h0M608.9 128.8h0M617.4 73.8h0M607.6 140.3h0M586.0 125.1h0M609.7 151.0h0M598.2 99.7h0M588.1 121.1h0M593.9 144.7h0M637.7 107.1h0M589.8 150.1h0M600.3 132.9h0M593.7 83.8h0M594.7 114.4h0M596.0 87.6h0M611.8 82.2h0M586.5 121.6h0M591.7 141.4h0M597.3 104.4h0M618.7 78.1h0M642.8 101.5h0M590.9 153.4h0M592.1 115.5h0M589.3 143.3h0M583.5 146.4h0M617.6 107.2h0M593.6 118.3h0M583.7 139.5h0M583.4 147.2h0M594.6 74.7h0M624.7 112.4h0M601.6 134.8h0M606.5 106.1h0M603.8 98.4h0M582.6 141.8h0M595.0 128.0h0M587.6 141.5h0M599.3 97.0h0M585.5 133.1h0M607.9 115.1h0M592.6 87.7h0M584.4 141.0h0M583.4 122.7h0M595.0 98.5h0M619.8 129.6h0M595.0 82.3h0M618.3 109.9h0M608.3 99.4h0M590.3 102.1h0M588.4 108.7h0M598.8 146.5h0M591.7 88.4h0M586.3 150.2h0M625.1 100.8h0M590.5 138.6h0M589.6 88.3h0M583.5 120.6h0M588.8 99.6h0M593.7 143.7h0M636.3 99.2h0M582.4 154.9h0M590.6 139.9h0M593.3 114.5h0M621.2 94.3h0M594.2 155.2h0M589.6 137.5h0M586.3 146.0h0M583.1 152.6h0M599.8 81.5h0M594.1 130.3h0M592.6 100.1h0M585.2 146.9h0M596.7 94.1h0M602.5 146.7h0M595.6 90.6h0M623.3 92.3h0M587.1 119.3h0M585.6 125.3h0M592.3 155.1h0M589.8 155.1h0M594.3 137.8h0M683.5 148.4h0M586.6 102.6h0M597.9 111.0h0M634.3 99.6h0M587.3 115.3h0M588.2 103.3h0M607.0 89.4h0M591.9 90.2h0M591.8 124.0h0M617.7 85.1h0M588.6 136.6h0M601.9 99.4h0M594.1 136.0h0M619.2 91.7h0M596.0 114.5h0M588.2 129.0h0M608.1 147.2h0M591.1 149.4h0M592.4 151.7h0M585.8 118.3h0M600.0 152.9h0M584.2 147.8h0M591.7 132.8h0M585.7 134.4h0M601.1 99.9h0M598.5 127.3h0M604.8 104.2h0M605.5 121.6h0M597.2 100.6h0M604.9 81.6h0M605.6 66.3h0M603.8 113.2h0M592.5 119.7h0M589.1 94.7h0M587.8 108.7h0M584.8 129.6h0M597.1 135.5h0M586.4 119.1h0M630.4 94.6h0M594.3 85.4h0M602.0 151.1h0M593.8 127.3h0M618.5 131.1h0M630.3 97.7h0M595.1 117.2h0M590.6 127.2h0M603.5 89.7h0M589.8 118.8h0M591.7 131.5h0M605.8 118.2h0M596.0 129.8h0M603.7 92.1h0M586.3 115.5h0M598.0 135.3h0M585.2 115.5h0M583.4 123.4h0M600.0 151.7h0M600.7 81.0h0M584.6 131.2h0M583.5 147.0h0M610.4 86.1h0M588.6 128.4h0M612.5 145.3h0M601.3 97.0h0M617.2 114.6h0M606.2 82.1h0M657.6 130.8h0M614.3 79.8h0M583.1 143.2h0M630.6 129.0h0M591.9 133.4h0M608.7 112.0h0M612.2 92.7h0M612.5 142.8h0M584.6 127.2h0M589.7 150.7h0M606.9 143.7h0M605.8 107.1h0M589.4 107.0h0M586.6 102.3h0M594.4 96.8h0M585.3 137.4h0M600.4 99.7h0M599.4 72.1h0M595.6 121.0h0M598.0 78.3h0M584.0 135.5h0M618.7 121.1h0M587.9 131.8h0M590.9 116.7h0M635.2 153.2h0M595.6 83.9h0M601.0 115.0h0M591.2 90.3h0M594.2 112.7h0M601.2 74.1h0M599.6 146.8h0M587.9 90.6h0M593.4 132.7h0M606.1 93.2h0M599.4 106.9h0M590.0 141.0h0M582.9 129.6h0M583.2 130.6h0M593.1 97.2h0M594.2 154.7h0M597.0 95.2h0M582.9 138.1h0M587.2 127.6h0M603.3 85.5h0M654.5 130.2h0M594.6 93.3h0M586.6 130.2h0M601.6 109.7h0M583.1 120.7h0M583.8 148.7h0M600.3 144.9h0M595.2 112.8h0M585.1 115.2h0M587.0 140.5h0M605.2 102.2h0M583.5 126.3h0M607.7 139.2h0M604.3 145.0h0M587.0 138.2h0M587.1 140.4h0M594.0 130.4h0M604.4 122.4h0M582.3 149.8h0M603.9 118.0h0M598.4 65.4h0M601.7 124.9h0M585.3 120.2h0M611.8 107.2h0M585.9 135.7h0M582.4 141.9h0M671.8 90.4h0M583.3 139.6h0M600.9 125.5h0M584.0 148.1h0M582.5 136.3h0M587.0 105.4h0M654.7 139.6h0M643.6 136.3h0M593.6 113.1h0M584.7 122.1h0M583.1 147.4h0M588.0 108.7h0M582.8 130.8h0M597.7 147.3h0M587.7 105.8h0M590.2 91.1h0M658.6 114.6h0M608.9 113.9h0M602.8 114.9h0M587.3 118.8h0M588.6 115.2h0M594.8 147.4h0M599.3 106.9h0M587.4 111.1h0M587.0 133.0h0M583.9 145.1h0M649.6 114.8h0M606.3 137.0h0M651.3 109.5h0M584.2 118.4h0M603.9 126.1h0M604.3 132.4h0M586.5 147.2h0M585.9 116.2h0M586.2 150.8h0M582.4 130.6h0M593.7 115.5h0M588.6 111.1h0M587.6 150.9h0M612.6 127.7h0M583.8 146.5h0M603.2 135.2h0M592.7 128.4h0M588.4 135.3h0M592.2 129.1h0M618.5 121.0h0M587.8 104.6h0M593.8 131.6h0M634.9 129.0h0M599.8 75.1h0M600.9 127.4h0M587.7 106.3h0M584.8 142.0h0M582.8 146.5h0M598.7 141.0h0M587.9 149.5h0M592.2 108.9h0M592.7 108.7h0M586.1 150.9h0M605.0 139.5h0M582.4 145.4h0M616.6 136.2h0M587.5 116.1h0M589.2 135.3h0M593.1 89.2h0M588.1 93.9h0M639.3 148.3h0M606.5 69.2h0M587.9 111.1h0M582.4 154.1h0M595.5 112.1h0M590.5 147.6h0M596.0 135.5h0M649.1 144.8h0M600.9 76.7h0M605.6 78.1h0M583.3 123.5h0M589.9 139.5h0M590.0 129.5h0M593.1 81.0h0M605.2 108.8h0M601.6 137.1h0M588.5 119.9h0M641.0 98.0h0M584.1 122.7h0M590.4 95.5h0M582.5 148.6h0M597.2 142.5h0M626.9 118.8h0M612.1 152.0h0M586.8 95.6h0M585.4 128.3h0M593.9 113.1h0M586.0 138.8h0M584.8 148.2h0M587.9 143.4h0M591.1 131.6h0M591.4 84.8h0M602.9 125.7h0M592.3 139.6h0M592.1 149.7h0M587.4 125.1h0M613.8 150.7h0M584.7 115.7h0M592.2 148.0h0M607.0 114.9h0M584.6 133.1h0M587.8 144.2h0M590.3 88.6h0M614.3 96.0h0M618.7 130.4h0M598.8 80.6h0M595.0 112.4h0M592.8 153.8h0M602.3 62.8h0M591.1 135.4h0M599.9 149.0h0M603.1 139.5h0M602.9 148.9h0M594.0 101.2h0M603.4 142.9h0M603.0 136.7h0M588.9 99.0h0M597.4 140.0h0M586.6 137.7h0M609.3 129.8h0M583.2 124.0h0M596.9 148.1h0M593.2 149.1h0M592.9 105.7h0M605.3 93.5h0M605.2 92.6h0M590.9 143.2h0M589.5 134.8h0M597.3 154.4h0M640.4 69.5h0M608.9 133.3h0M604.3 106.8h0M589.2 135.8h0M606.9 79.6h0M604.5 105.7h0M590.7 139.3h0M612.0 149.5h0M608.7 128.0h0M596.9 125.5h0M586.0 122.2h0M610.6 143.1h0M597.1 154.5h0M584.9 120.1h0M585.9 147.8h0M600.0 125.0h0M591.4 152.4h0M584.8 149.0h0M593.3 127.9h0M604.2 96.3h0M602.8 106.8h0M597.7 115.3h0M599.7 152.7h0M587.4 133.4h0M618.6 108.9h0M599.1 100.8h0M598.0 130.5h0M586.3 106.0h0M584.0 120.7h0M583.7 128.8h0M589.5 147.2h0M603.6 134.1h0M583.5 123.0h0M587.6 144.2h0M601.5 111.5h0M594.8 69.7h0M613.0 154.4h0M585.8 149.8h0M605.8 114.0h0M591.3 125.8h0M595.6 123.7h0M589.8 123.7h0M591.0 155.2h0M584.3 154.8h0M583.5 146.2h0M590.8 84.6h0M586.1 125.2h0M616.8 120.4h0M611.1 124.9h0M600.5 79.7h0M584.2 131.9h0M608.3 144.3h0M610.5 118.4h0M587.3 127.4h0M592.4 126.1h0M625.0 105.8h0M607.9 79.0h0M592.9 148.2h0M597.0 82.8h0M601.6 141.1h0M589.2 121.6h0M604.4 122.4h0M603.9 110.8h0M599.2 141.8h0M595.1 101.2h0M584.3 148.6h0M585.4 112.1h0M610.5 87.8h0M614.8 73.9h0M604.3 114.6h0M592.6 152.0h0M587.4 132.9h0M624.1 87.2h0M594.2 75.2h0M585.0 128.5h0M606.1 150.8h0M596.0 109.7h0M593.6 120.5h0M591.9 133.7h0M601.3 114.0h0M597.0 130.0h0M595.1 97.9h0M606.3 141.7h0M589.3 148.7h0M590.3 87.3h0M587.8 115.9h0M606.1 138.1h0M593.0 94.8h0M602.4 71.3h0M597.2 82.7h0M584.3 135.6h0M599.2 113.1h0M597.7 135.8h0M610.8 90.1h0M586.3 155.0h0M591.8 134.2h0M604.4 128.6h0M595.2 134.8h0M589.8 153.5h0M601.0 133.6h0M595.6 137.0h0M588.2 146.9h0M603.1 111.7h0M597.9 124.0h0M601.7 102.5h0M590.3 147.5h0M618.4 87.7h0M610.3 68.9h0M597.4 79.9h0M585.0 150.2h0M584.9 113.8h0M590.8 130.7h0M610.0 107.9h0M594.4 132.4h0M589.0 147.3h0M584.1 146.8h0M601.7 91.4h0M617.6 69.7h0M599.6 72.3h0M615.1 130.3h0M587.3 145.7h0M589.0 119.0h0M606.4 121.9h0M611.4 91.3h0M591.4 124.1h0M598.0 146.5h0M597.7 85.4h0M602.1 150.1h0M599.3 148.2h0M596.4 80.8h0M596.3 89.5h0M623.1 140.5h0M585.3 154.4h0M606.9 131.2h0M641.3 121.0h0M591.9 85.5h0M584.1 122.7h0M588.3 100.1h0M598.6 135.7h0M589.1 153.6h0M594.4 142.4h0M598.7 75.6h0M632.0 97.8h0M592.8 113.6h0M621.4 106.5h0M618.4 104.2h0M585.2 147.5h0M595.2 87.3h0M592.8 127.2h0M592.6 98.0h0M592.7 74.9h0M600.2 111.1h0M631.1 136.2h0M584.8 145.6h0M594.3 95.8h0M605.5 145.1h0M599.2 90.4h0M587.4 140.2h0M594.1 105.6h0M593.4 93.1h0M588.6 108.5h0M589.7 103.1h0M583.5 119.8h0M584.4 133.3h0M592.8 83.9h0M584.2 155.2h0M634.2 106.5h0M587.8 132.5h0M611.9 90.9h0M589.9 97.4h0M591.0 128.2h0M609.8 83.0h0M612.4 112.4h0M600.3 89.6h0M582.2 147.8h0M600.7 152.6h0M589.0 133.6h0M607.7 141.1h0M594.2 126.9h0M593.5 103.9h0M627.0 83.1h0M599.8 85.0h0M585.6 154.0h0M591.7 127.8h0M594.6 141.8h0M583.9 145.0h0M592.6 145.6h0M587.1 124.4h0M590.9 119.4h0M591.6 148.9h0M587.1 96.5h0M595.9 122.5h0M605.4 145.3h0M586.5 150.8h0M598.7 145.1h0M603.2 139.1h0M595.6 145.6h0M594.9 124.4h0M591.1 133.6h0M614.1 104.5h0M593.6 97.4h0M598.7 118.1h0M583.6 145.5h0M598.3 136.2h0M585.9 118.8h0M592.1 82.0h0M582.1 134.7h0M611.7 119.0h0M585.6 118.4h0M591.9 131.3h0M599.2 81.2h0M606.7 102.8h0M591.5 82.8h0M593.0 90.2h0M607.9 105.1h0M585.4 108.7h0M624.8 127.2h0M599.9 85.5h0M590.7 92.6h0M592.9 120.2h0M617.1 125.1h0M583.4 139.6h0M588.9 127.7h0M591.5 123.2h0M582.4 128.4h0M585.4 149.8h0M597.0 91.7h0M622.2 79.2h0M586.4 127.7h0M591.4 140.7h0M611.5 140.8h0M585.5 150.5h0M595.7 105.2h0M589.0 88.1h0M586.0 147.9h0M599.9 114.8h0M586.3 126.7h0M589.0 125.8h0M592.4 148.7h0M586.4 154.3h0M640.6 132.2h0M604.6 135.5h0M584.3 147.7h0M621.3 107.8h0M610.8 116.3h0M600.5 145.7h0M589.4 116.5h0M591.4 137.0h0M600.0 124.5h0M607.7 152.0h0M610.7 96.7h0M594.1 107.9h0M588.7 124.2h0M614.7 116.0h0M585.0 153.9h0M586.4 113.7h0M590.7 153.6h0M599.0 129.2h0M595.2 114.9h0M609.3 62.7h0M588.2 108.1h0M599.4 143.1h0M620.3 111.5h0M593.2 145.5h0M585.5 118.5h0M595.8 103.0h0M589.7 126.9h0M609.5 91.3h0M591.7 86.5h0M587.9 154.7h0M588.8 85.9h0M589.5 115.0h0M583.2 138.1h0M613.4 75.0h0M583.2 150.9h0M584.1 131.9h0M628.8 123.4h0M597.0 74.7h0M598.7 103.3h0M618.7 105.9h0M585.0 150.7h0M603.7 117.2h0M587.5 111.1h0M592.2 143.1h0M589.1 143.5h0M596.1 136.8h0M654.2 120.5h0M589.6 118.9h0M583.2 149.5h0M587.9 140.8h0M599.4 126.7h0M603.1 147.6h0M620.4 134.3h0M598.7 97.1h0M605.7 116.6h0M601.5 97.8h0M592.2 102.1h0M583.2 120.3h0M596.2 83.1h0M602.2 152.4h0M596.7 142.9h0M595.6 149.6h0M587.2 111.2h0M591.3 137.1h0M591.3 131.5h0M582.8 132.7h0M584.8 152.8h0M582.8 131.1h0M595.3 137.9h0M587.9 144.5h0M583.5 134.4h0M601.8 133.3h0M582.6 152.5h0M602.1 65.7h0M612.9 149.3h0M583.4 148.3h0M583.2 147.8h0M589.6 139.0h0M593.0 89.5h0M595.2 109.0h0M596.9 120.3h0M601.9 146.5h0M582.8 137.7h0M588.0 131.7h0M616.7 103.9h0M600.3 81.7h0M607.5 75.8h0M618.7 75.9h0M593.9 153.2h0M603.2 102.8h0M588.2 107.1h0M602.4 102.1h0M586.3 139.8h0M593.1 81.7h0M603.5 153.2h0M593.1 123.8h0M589.1 125.7h0M584.6 145.7h0M593.8 108.8h0M602.9 132.3h0M654.6 129.8h0M600.8 103.4h0M596.6 128.0h0M592.1 117.1h0M587.2 135.4h0M593.5 138.0h0M588.6 118.3h0M589.0 97.2h0M607.5 116.4h0M588.1 91.5h0M590.7 139.6h0M649.1 119.7h0M636.8 105.4h0M588.9 108.8h0M586.9 151.8h0M593.4 143.4h0M598.7 80.1h0M593.4 134.4h0M596.0 71.8h0M591.1 105.5h0M589.5 85.5h0M640.5 68.9h0M605.0 116.4h0M677.6 155.0h0M595.7 148.5h0M587.4 97.4h0M597.9 118.6h0M591.2 87.1h0M591.2 152.7h0M587.3 94.5h0M643.0 143.2h0M594.6 96.7h0M589.7 88.4h0M603.1 100.5h0M583.7 147.3h0M594.4 94.3h0M590.4 101.3h0M590.5 91.0h0M613.0 130.2h0M584.6 129.7h0M591.1 144.5h0M586.7 112.7h0M619.7 100.1h0M588.0 133.6h0M637.4 97.1h0M584.2 154.4h0M590.9 104.1h0M602.6 66.8h0M597.3 94.4h0M637.0 155.0h0M592.4 106.2h0M595.9 113.3h0M606.3 117.0h0M602.1 154.0h0M596.3 129.0h0M598.7 130.8h0M597.3 119.9h0M597.1 91.8h0M587.7 150.4h0M585.0 148.3h0M586.2 106.4h0M591.8 130.1h0M592.6 128.3h0M592.0 155.1h0M598.5 136.3h0M598.5 121.0h0M587.0 140.0h0M594.4 133.3h0M588.9 143.1h0M603.9 71.8h0M619.6 103.9h0M601.2 114.7h0M589.7 103.6h0M635.0 95.8h0M582.9 132.1h0M603.7 80.0h0M588.6 102.3h0M584.5 111.6h0M587.9 92.3h0M585.4 141.6h0M590.5 95.4h0M584.4 122.9h0M585.1 153.5h0M584.9 119.5h0M592.0 99.1h0M650.4 121.1h0M584.8 147.0h0M606.6 84.3h0M651.1 146.3h0M588.6 130.8h0M585.1 128.2h0M597.7 113.2h0M627.6 99.4h0M599.2 146.4h0M594.3 85.3h0M582.8 132.0h0M583.9 129.2h0M595.1 93.0h0M595.0 139.7h0M619.9 137.0h0M589.6 108.7h0M582.3 149.0h0M586.4 143.9h0M592.1 89.3h0M593.5 127.0h0M602.9 133.6h0M601.3 67.1h0M584.4 132.0h0M627.8 83.1h0M609.0 149.9h0M587.3 104.3h0M590.1 86.4h0M590.0 134.3h0M587.2 126.2h0M592.1 99.2h0M596.2 121.6h0M584.2 133.4h0M591.2 139.4h0M598.8 118.7h0M600.1 121.7h0M596.0 152.0h0M593.9 88.7h0M587.4 106.5h0M616.2 102.7h0M609.3 99.2h0M591.0 152.5h0M592.7 111.9h0M615.4 135.4h0M609.0 108.4h0M586.6 120.1h0M624.6 101.6h0M582.8 128.6h0M636.5 88.7h0M586.9 130.8h0M584.0 138.8h0M598.5 154.2h0M602.4 115.6h0M588.3 143.3h0M590.6 118.3h0M593.6 131.1h0M586.5 128.6h0M582.1 148.3h0M611.7 87.4h0M590.9 113.1h0M593.1 145.1h0M619.1 115.6h0M597.9 96.4h0M603.3 103.0h0M599.2 153.5h0M582.4 129.3h0M600.8 120.0h0M587.3 116.4h0M599.8 152.8h0M614.5 122.2h0M584.0 123.5h0M597.8 141.5h0M601.4 136.0h0M582.8 138.0h0M599.6 112.5h0M590.4 136.2h0M587.1 123.4h0M601.0 121.8h0M587.6 146.4h0M584.0 152.7h0M585.2 108.8h0M582.7 137.6h0M607.6 127.7h0M583.1 139.2h0M588.7 119.1h0M636.0 91.5h0M605.7 117.0h0M599.1 113.6h0M595.2 103.3h0M620.4 131.8h0M595.6 134.3h0M599.3 130.1h0M585.7 128.6h0M591.1 150.0h0M610.1 150.1h0M593.8 91.7h0M597.8 141.5h0M590.1 137.4h0M604.0 100.2h0M613.7 115.8h0M589.5 90.5h0M593.7 110.4h0M585.9 132.8h0M584.9 123.3h0M613.6 137.3h0M589.2 136.4h0M582.7 130.4h0M603.3 86.9h0M586.7 111.2h0M591.0 103.0h0M587.6 139.1h0M584.0 141.0h0M587.0 116.4h0M612.5 115.5h0M593.6 125.2h0M585.3 155.2h0M599.2 90.0h0M599.6 129.7h0M590.3 154.3h0M590.1 84.6h0M600.6 77.4h0M582.9 152.1h0M602.4 95.9h0M586.8 150.5h0M605.0 123.5h0M602.9 118.1h0M608.6 119.3h0M601.4 114.4h0M595.7 146.1h0M598.4 129.8h0M591.1 151.1h0M593.7 94.9h0M599.8 94.9h0M587.1 128.1h0M588.2 126.9h0M605.2 90.5h0M600.7 108.5h0M623.3 104.2h0M599.9 113.5h0M583.4 130.0h0M609.3 135.1h0M593.5 107.1h0M591.0 115.2h0M590.8 111.7h0M601.1 87.5h0M587.3 140.0h0M593.2 99.5h0M588.2 128.2h0M585.1 135.2h0M589.5 134.3h0M591.7 127.8h0M608.8 133.2h0M586.4 136.5h0M590.7 121.4h0M613.7 95.3h0M662.0 139.9h0M598.8 102.7h0M584.9 116.9h0M633.5 102.5h0M618.4 81.9h0M591.6 102.7h0M591.0 130.0h0M585.0 119.0h0M583.5 118.5h0M587.5 138.0h0M595.4 116.8h0M588.0 102.6h0M583.6 141.7h0M592.0 130.5h0M618.0 124.1h0M583.5 138.2h0M664.1 142.9h0M603.7 71.9h0M595.6 142.9h0M596.5 97.5h0M597.4 130.7h0M601.8 134.4h0M586.8 150.9h0M584.2 150.0h0M589.2 90.4h0M597.2 85.5h0M586.0 115.0h0M628.6 114.7h0M599.7 113.5h0M585.3 120.8h0M589.6 98.0h0M607.1 127.1h0M586.9 154.7h0M596.3 129.0h0M619.4 138.8h0M582.3 154.5h0M612.4 125.8h0M582.6 154.3h0M613.2 103.9h0M592.3 147.2h0M590.5 134.6h0M589.6 91.2h0M590.2 110.0h0M597.3 79.5h0M591.5 140.0h0M594.2 102.3h0M582.9 147.5h0M591.5 119.7h0M588.7 101.4h0M595.1 106.0h0M585.0 152.1h0M604.8 126.5h0M601.7 111.7h0M582.6 129.6h0M594.7 116.7h0M633.3 129.6h0M594.8 130.0h0M602.5 147.7h0M588.1 95.6h0M587.5 128.3h0M587.8 151.8h0M599.2 140.0h0M585.0 130.9h0M583.6 141.7h0M608.8 123.8h0M582.4 143.6h0M584.8 146.9h0M588.4 138.8h0M598.4 128.7h0M590.4 97.6h0M607.5 150.1h0M596.4 113.7h0M603.7 142.9h0M614.3 137.9h0M588.8 100.4h0M591.9 85.6h0M622.5 118.3h0M584.2 130.9h0M589.7 94.6h0M622.6 139.0h0M596.7 130.1h0M584.4 120.4h0M608.8 113.4h0M588.5 148.2h0M585.3 154.9h0M607.2 145.9h0M600.9 98.2h0M600.7 129.1h0M609.3 100.1h0M596.7 112.0h0M584.1 118.0h0M628.6 116.9h0M587.9 131.0h0M587.5 119.6h0M590.8 144.1h0M587.9 110.5h0M584.1 124.0h0M586.0 139.2h0M582.5 148.9h0M590.9 108.5h0M583.6 135.1h0M593.2 123.9h0M584.0 143.4h0M588.7 146.4h0M602.4 147.6h0M584.1 138.7h0M594.8 130.5h0M607.1 92.1h0M599.0 131.9h0M589.6 91.1h0M592.5 122.0h0M589.2 149.4h0M608.6 98.8h0M599.0 106.8h0M586.8 122.4h0M607.3 122.5h0M625.6 106.9h0M623.7 100.2h0M600.9 123.1h0M584.8 131.0h0M652.1 129.2h0M583.3 137.0h0M592.5 141.8h0M586.1 135.8h0M586.6 145.9h0M594.2 131.9h0M590.9 108.1h0M583.6 129.1h0M589.6 122.3h0M609.3 75.3h0M588.6 146.0h0M585.0 117.4h0M594.6 117.9h0M584.3 151.8h0M634.5 143.6h0M583.9 140.0h0M606.5 152.4h0M591.5 133.7h0M614.1 117.0h0M583.4 123.6h0M593.3 145.2h0M607.4 139.5h0M589.3 123.9h0M584.1 140.3h0M605.7 64.1h0M611.1 127.7h0M601.7 78.2h0M618.1 90.6h0M607.3 82.9h0M584.6 145.7h0M598.1 113.3h0M594.6 92.4h0M607.9 73.9h0M594.1 83.5h0M590.5 144.8h0M599.4 145.8h0M595.2 129.5h0M598.3 133.2h0M632.9 153.5h0M591.7 143.8h0M590.8 147.2h0M593.3 126.6h0M598.9 133.9h0M601.6 65.2h0M583.0 130.6h0M596.7 104.1h0M613.1 146.5h0M600.3 92.3h0M594.1 106.0h0M592.6 80.8h0M597.0 119.8h0M593.4 106.9h0M593.1 99.6h0M583.6 155.0h0M602.1 145.3h0M610.1 108.2h0M582.9 129.9h0M595.7 93.0h0M595.1 120.3h0M595.0 82.6h0M587.7 145.4h0M596.5 141.8h0M590.1 150.1h0M588.2 127.1h0M584.3 118.6h0M668.7 148.8h0M597.7 96.3h0M585.0 116.3h0M586.1 101.1h0M583.4 152.1h0M591.6 125.0h0M599.3 110.6h0M588.3 150.6h0M608.2 100.0h0M589.1 130.1h0M590.8 131.4h0M610.0 130.9h0M585.5 135.4h0M600.0 92.7h0M591.6 146.3h0M588.2 106.0h0M593.4 100.2h0M587.0 118.2h0M616.3 121.5h0M601.6 67.9h0M613.2 101.4h0M583.1 146.7h0M592.3 147.9h0M592.0 76.5h0M598.6 128.9h0M623.7 152.8h0M605.8 138.1h0M594.0 103.1h0M600.1 93.1h0M595.7 114.6h0M591.1 141.0h0M589.5 136.6h0M583.6 122.8h0M584.2 138.3h0M590.1 101.4h0M594.2 148.6h0M595.2 86.0h0M589.6 116.1h0M585.8 109.3h0M582.5 129.6h0M590.7 131.2h0M590.9 139.9h0M593.0 98.9h0M587.4 101.7h0M591.4 149.9h0M649.6 116.5h0M600.1 119.7h0M591.9 142.8h0M607.5 137.5h0M586.8 142.2h0M584.0 142.6h0M600.7 132.6h0M589.2 123.8h0M623.4 114.3h0M588.3 150.5h0M590.9 117.7h0M588.5 124.1h0M584.6 118.0h0M588.8 137.4h0M594.3 150.0h0M585.6 119.7h0M609.2 102.5h0M585.4 138.2h0M591.8 93.1h0M583.0 127.9h0M605.3 142.8h0M611.0 62.0h0M619.0 85.1h0M588.3 109.6h0M598.1 101.7h0M588.0 126.0h0M582.4 135.1h0M614.0 77.4h0M590.9 81.5h0M599.7 130.3h0M586.0 137.4h0M625.1 93.3h0M593.3 77.2h0M638.0 123.1h0M582.6 140.2h0M585.8 129.8h0M609.6 135.8h0M585.7 119.1h0M604.5 104.7h0M586.8 118.8h0M615.2 136.4h0M582.8 133.1h0M632.3 91.7h0M603.6 128.2h0M587.7 154.4h0M587.1 96.1h0M588.2 148.4h0M603.3 132.2h0M588.4 115.3h0M590.9 136.4h0M598.7 123.0h0M589.3 143.8h0M614.0 94.6h0M598.9 136.2h0M612.6 87.9h0M589.8 131.3h0M601.7 146.5h0M589.1 90.8h0M584.2 152.3h0M622.4 118.5h0M599.8 140.4h0M592.4 99.3h0M606.4 98.4h0M591.9 123.1h0M644.9 104.4h0M592.4 93.1h0M600.1 110.8h0M585.8 121.3h0M592.4 118.5h0M583.6 146.6h0M587.7 97.3h0M582.4 144.7h0M593.8 148.6h0M587.0 112.8h0M591.9 123.0h0M661.1 124.9h0M594.1 142.3h0M592.9 113.7h0M613.4 99.2h0M587.2 149.1h0M589.7 87.7h0M590.2 94.2h0M598.3 153.3h0M589.2 116.8h0M598.3 116.1h0M594.5 144.5h0M611.3 137.7h0M585.2 109.4h0M599.3 146.0h0M601.9 83.0h0M584.4 151.3h0M588.6 126.1h0M592.8 103.2h0M601.3 124.1h0M622.9 93.7h0M606.2 147.2h0M624.1 151.8h0M593.0 88.4h0M596.0 77.6h0M586.6 100.3h0M651.6 126.9h0M592.0 141.8h0M589.8 119.1h0M582.4 154.3h0M593.0 117.5h0M583.9 139.0h0M585.9 124.7h0M641.3 107.5h0M591.2 113.7h0M596.8 133.9h0M592.1 142.7h0M588.4 133.0h0M597.3 125.5h0M590.7 113.4h0M584.3 152.2h0M629.8 133.4h0M588.2 127.3h0M595.5 123.9h0M596.1 116.6h0M591.7 138.1h0M584.3 138.0h0M601.5 120.1h0M609.9 71.7h0M586.6 104.2h0M590.7 131.9h0M585.2 148.8h0M610.9 146.4h0M616.8 117.2h0M593.0 116.8h0M588.4 145.9h0M589.5 115.0h0M599.7 119.0h0M593.3 72.6h0M603.3 128.9h0M604.3 116.3h0M588.2 135.1h0M634.6 104.4h0M598.8 107.5h0M597.7 130.9h0M621.1 108.1h0M588.8 94.7h0M585.2 108.9h0M589.5 127.6h0M586.9 136.5h0M591.5 101.1h0M592.1 146.7h0M596.7 148.8h0M606.6 81.7h0M594.4 130.1h0M591.5 108.4h0M592.2 147.4h0M584.8 135.7h0M605.7 136.9h0M628.4 149.7h0M585.6 115.1h0M606.7 153.5h0M660.7 145.7h0M591.4 108.8h0M590.8 141.5h0M615.5 141.3h0M613.7 105.1h0M592.1 136.5h0M611.7 136.3h0M641.0 106.7h0M643.2 26.3h0M665.2 46.1h0M678.2 104.6h0" stroke="#8b1a1a" stroke-width="1.1" stroke-linecap="square" fill="none"/>
<path d="M576.9 165.1h0M574.6 142.0h0M573.5 163.1h0M573.8 155.6h0M561.2 157.4h0M574.8 150.2h0M574.0 159.3h0M573.9 138.4h0M572.2 158.1h0M575.4 155.6h0M572.3 159.5h0M577.5 165.1h0M573.2 162.7h0M574.3 159.7h0M577.6 165.3h0M567.0 157.6h0M572.7 158.7h0M575.7 156.2h0M575.6 157.3h0M563.0 158.9h0M573.1 157.4h0M570.8 159.8h0M570.2 156.1h0M577.5 166.0h0M569.1 160.9h0M562.1 159.5h0M571.6 158.2h0M573.1 162.0h0M577.7 165.4h0M569.7 160.9h0M571.4 159.5h0M577.7 163.9h0M574.1 141.6h0M574.3 153.6h0M575.1 149.6h0M573.6 156.9h0M574.5 155.3h0M574.5 149.0h0M577.3 163.2h0M575.7 165.7h0M576.6 162.8h0M577.6 164.7h0M568.8 161.4h0M574.8 147.4h0M567.4 155.9h0M576.1 163.5h0M574.2 159.1h0M575.6 150.6h0M575.8 162.2h0M574.3 161.3h0M574.4 142.8h0M574.1 149.3h0M577.2 161.0h0M568.0 163.6h0M573.1 161.8h0M574.5 146.1h0M577.1 164.7h0M577.4 163.1h0M574.7 139.6h0M575.2 157.3h0M575.4 154.4h0M574.8 163.0h0M574.6 144.3h0M575.0 142.4h0M574.8 159.2h0M574.8 161.8h0M565.7 160.6h0M575.1 157.0h0M574.6 148.0h0M576.0 153.2h0M576.3 164.2h0M563.9 158.1h0M574.9 143.9h0M569.8 162.9h0M575.1 150.9h0M574.0 162.1h0M575.7 149.0h0M574.3 159.9h0M574.8 164.1h0M568.4 158.7h0M574.4 134.9h0M574.9 153.5h0M574.3 145.7h0M576.7 163.4h0M571.6 163.3h0M575.4 161.6h0M576.3 164.3h0M575.6 159.8h0M575.1 144.8h0M574.9 145.0h0M574.3 156.9h0M576.7 161.6h0M576.8 162.0h0M577.5 163.5h0M575.2 160.9h0M577.1 163.2h0M573.2 161.5h0M574.2 133.2h0M574.4 151.2h0M573.1 156.6h0M574.6 160.6h0M575.5 147.7h0M575.4 152.0h0M574.6 154.1h0M574.9 157.2h0M576.4 155.9h0M574.3 133.5h0M575.3 145.4h0M566.4 157.2h0M575.5 149.7h0M574.2 153.4h0M574.6 137.6h0M574.3 162.3h0M576.9 161.2h0M577.1 165.7h0M574.8 146.2h0M572.9 159.0h0M574.6 156.8h0M574.4 148.9h0M572.0 160.5h0M577.3 164.1h0M575.4 153.9h0M575.7 151.3h0M574.5 152.9h0M576.1 160.3h0M574.9 164.9h0M575.7 159.2h0M574.4 135.5h0M574.9 149.5h0M573.2 155.6h0M574.6 143.4h0M575.4 162.6h0M565.6 161.0h0M575.4 152.7h0M577.2 165.7h0M573.7 156.8h0M574.8 141.5h0M570.4 155.5h0M575.3 145.4h0M574.7 159.4h0M575.8 154.0h0M576.9 165.5h0M576.8 158.6h0M562.0 160.0h0M575.0 141.5h0M563.4 158.5h0M576.8 161.2h0M575.2 146.0h0M569.3 156.7h0M576.3 165.0h0M574.0 150.5h0M571.8 157.2h0M571.8 163.5h0M575.4 158.1h0M572.9 156.1h0M576.4 160.7h0M577.3 165.2h0M576.6 162.1h0M531.6 157.9h0M574.0 135.8h0M577.3 165.5h0M572.7 155.9h0M577.5 165.2h0M574.5 141.2h0M570.9 159.2h0M575.9 164.9h0M572.6 158.8h0M574.1 154.3h0M572.5 160.1h0M576.1 160.4h0M577.2 163.4h0M577.3 162.5h0M577.0 159.8h0M551.3 161.5h0M574.4 144.3h0M574.4 141.4h0M575.2 151.2h0M574.9 157.9h0M574.1 151.5h0M575.6 153.5h0M576.3 163.1h0M574.3 163.9h0M576.6 161.9h0M575.9 158.6h0M576.2 165.7h0M571.3 161.4h0M572.6 157.6h0M574.7 148.4h0M574.9 163.9h0M576.8 165.9h0M576.0 164.0h0M575.0 154.1h0M572.2 156.7h0M574.2 147.2h0M575.0 146.4h0M574.3 153.9h0M574.1 138.2h0M572.7 157.0h0M575.6 153.7h0M571.3 162.2h0M576.6 159.7h0M575.4 159.4h0M570.3 161.9h0M576.6 157.2h0M576.0 165.3h0M577.9 165.9h0M574.2 147.6h0M574.0 146.4h0M574.1 138.4h0M574.7 143.2h0M573.8 157.6h0M574.0 158.6h0M577.4 165.4h0M576.6 163.4h0M574.3 157.9h0M575.4 163.3h0M574.4 145.1h0M565.8 155.9h0M574.3 158.5h0M574.0 162.8h0M575.8 165.3h0M574.1 157.6h0M576.6 160.8h0M554.7 155.7h0M576.0 165.9h0M576.1 162.5h0M574.7 148.4h0M574.0 136.5h0M574.0 144.5h0M570.7 164.0h0M565.9 155.7h0M573.4 160.7h0M568.3 160.2h0M575.1 158.9h0M573.5 163.2h0M577.2 163.5h0M576.4 164.7h0M576.6 160.9h0M572.9 162.4h0M575.9 157.7h0M574.5 149.6h0M574.0 150.9h0M577.2 162.6h0M574.8 158.0h0M575.2 160.5h0M576.2 162.2h0M574.9 143.2h0M576.9 161.8h0M574.3 144.6h0M575.9 160.4h0M575.9 156.8h0M575.2 156.4h0M574.1 139.1h0M574.6 146.8h0M576.6 161.2h0M574.8 141.7h0M574.2 141.8h0M573.5 159.3h0M575.6 159.4h0M575.9 154.9h0M574.1 154.3h0M576.1 163.9h0M574.7 146.5h0M573.9 132.6h0M574.1 155.3h0M561.3 156.5h0M574.3 162.8h0M575.7 149.2h0M575.4 148.9h0M567.3 156.7h0M576.8 165.4h0M572.1 158.8h0M577.2 165.6h0M574.9 148.8h0M573.3 160.3h0M575.5 152.0h0M574.3 153.0h0M569.8 156.4h0M576.1 164.2h0M575.8 157.3h0M573.2 164.6h0M575.3 147.6h0M568.4 161.1h0M575.8 163.9h0M577.0 161.3h0M571.1 161.3h0M574.0 136.1h0M569.8 160.4h0M575.4 162.0h0M577.1 161.3h0M575.9 157.9h0M577.5 164.5h0M575.4 161.9h0M569.0 159.8h0M574.1 138.6h0M564.6 159.7h0M576.7 165.5h0M571.4 156.7h0M577.3 164.9h0M576.7 160.9h0M572.7 162.2h0M570.9 161.5h0M575.2 154.7h0M574.5 163.7h0M575.4 148.8h0M575.5 157.9h0M576.0 164.8h0M577.5 164.9h0M574.3 155.9h0M577.3 162.8h0M575.4 161.0h0M576.1 157.8h0M576.3 159.8h0M576.1 165.0h0M576.7 157.9h0M575.9 156.9h0M575.3 154.6h0M574.6 149.4h0M576.0 165.1h0M573.4 163.5h0M573.1 165.5h0M576.4 160.0h0M574.5 145.7h0M576.3 155.3h0M574.3 153.0h0M576.3 161.8h0M575.0 147.3h0M567.0 157.9h0M573.0 159.7h0M574.3 141.9h0M575.0 147.4h0M576.0 163.0h0M576.0 154.2h0M575.8 160.3h0M575.8 158.1h0M572.4 155.6h0M565.7 157.5h0M572.6 162.6h0M571.3 157.0h0M576.6 157.9h0M574.0 141.0h0M572.5 156.8h0M575.3 146.0h0M575.3 162.4h0M577.4 164.9h0M576.4 157.5h0M576.6 165.2h0M576.0 151.9h0M573.4 159.2h0M574.6 155.3h0M576.8 158.6h0M576.0 163.1h0M575.4 145.4h0M576.3 158.5h0M576.9 164.3h0M574.8 156.8h0M577.5 165.3h0M572.0 160.1h0M575.7 162.1h0M572.8 155.5h0M577.1 163.3h0M576.7 164.8h0M574.3 157.6h0M572.6 158.4h0M574.8 141.7h0M571.0 162.0h0M571.4 160.2h0M566.0 159.8h0M574.2 137.8h0M574.3 134.7h0M575.6 160.6h0M576.0 156.2h0M575.3 150.7h0M566.0 157.5h0M574.8 152.5h0M574.1 152.0h0M575.1 145.3h0M569.6 158.0h0M570.6 156.0h0M575.0 158.0h0M573.9 161.9h0M575.8 164.3h0M575.2 155.0h0M574.4 145.2h0M565.8 161.0h0M570.3 159.3h0M576.6 163.9h0M566.0 156.2h0M574.0 138.3h0M572.5 159.8h0M576.4 160.3h0M577.3 164.6h0M560.1 160.6h0M573.9 163.9h0M576.6 163.0h0M569.7 158.7h0M577.0 160.5h0M575.5 162.2h0M577.0 164.5h0M574.5 155.0h0M575.6 156.1h0M569.4 160.4h0M574.4 138.6h0M572.3 161.7h0M575.9 163.3h0M574.4 137.2h0M574.4 137.0h0M575.2 154.2h0M571.9 160.2h0M574.7 141.3h0M574.0 152.7h0M574.2 156.3h0M567.1 159.8h0M574.7 144.0h0M575.3 163.0h0M576.6 157.5h0M573.5 158.2h0M577.7 165.6h0M567.8 156.1h0M573.8 155.7h0M576.4 161.1h0M576.5 159.6h0M575.7 164.2h0M576.2 157.1h0M577.7 164.6h0M574.4 154.4h0M575.1 143.2h0M575.4 146.7h0M575.6 150.1h0M577.0 160.0h0M564.5 155.6h0M575.6 150.7h0M575.9 163.1h0M574.4 139.8h0M570.9 162.8h0M575.6 147.9h0M575.7 151.4h0M574.3 161.0h0M567.2 156.7h0M566.2 161.6h0M575.8 161.2h0M577.5 166.0h0M575.7 162.7h0M577.0 160.8h0M574.8 146.0h0M573.7 155.9h0M577.2 165.6h0M571.7 155.4h0M574.6 154.4h0M576.0 160.4h0M575.6 149.7h0M574.8 155.1h0M574.3 137.7h0M574.4 149.1h0M566.4 158.7h0M562.3 164.0h0M574.4 160.3h0M573.6 156.3h0M575.9 156.2h0M577.2 165.4h0M574.8 148.2h0M576.1 156.0h0M577.1 164.4h0M574.1 153.3h0M575.3 164.6h0M572.6 164.7h0M574.8 161.5h0M577.5 163.7h0M575.6 157.6h0M577.0 164.6h0M577.2 163.5h0M576.8 161.7h0M575.7 161.0h0M566.2 157.2h0M553.9 155.8h0M575.8 163.7h0M569.1 155.7h0M576.4 156.1h0M563.4 158.9h0M574.1 145.0h0M572.1 162.6h0M577.1 165.4h0M576.0 161.7h0M576.0 164.5h0M573.0 164.7h0M573.2 160.2h0M575.2 162.1h0M576.2 160.4h0M577.1 162.5h0M574.1 139.9h0M577.7 165.7h0M575.2 155.2h0M577.4 164.6h0M575.2 148.7h0M576.7 160.6h0M577.6 163.7h0M575.6 163.6h0M574.1 154.2h0M567.5 157.3h0M575.8 156.1h0M576.1 159.8h0M575.3 165.5h0M575.2 162.2h0M571.8 155.8h0M575.6 161.0h0M577.8 165.7h0M551.5 160.3h0M573.7 160.7h0M574.5 149.0h0M576.1 155.8h0M577.1 164.4h0M573.9 164.0h0M575.0 143.0h0M577.2 160.9h0M573.9 161.4h0M568.5 155.4h0M576.7 165.9h0M572.5 158.8h0M572.4 156.1h0M575.5 148.9h0M564.2 157.4h0M574.6 156.0h0M572.7 155.8h0M572.0 158.8h0M575.2 148.4h0M576.4 159.4h0M575.8 161.1h0M574.0 134.9h0M577.4 165.9h0M574.1 140.0h0M575.6 155.6h0M575.2 153.0h0M567.8 157.1h0M574.5 143.1h0M575.6 163.3h0M576.1 163.2h0M569.2 160.5h0M571.7 159.3h0M572.1 160.1h0M577.4 163.2h0M573.9 156.7h0M573.8 161.0h0M570.4 164.1h0M572.6 158.5h0M567.9 156.2h0M576.5 164.5h0M585.3 162.8h0M581.0 163.5h0M580.5 153.4h0M578.2 165.5h0M578.9 165.9h0M582.5 160.7h0M582.6 160.1h0M592.2 163.7h0M580.8 162.4h0M578.4 161.9h0M578.1 165.3h0M581.1 141.9h0M582.9 157.8h0M591.2 155.4h0M583.8 157.8h0M580.4 147.0h0M580.9 163.7h0M581.2 163.1h0M582.0 157.9h0M581.1 147.0h0M580.1 162.4h0M579.1 157.6h0M586.2 157.5h0M582.5 157.2h0M579.4 155.5h0M581.4 142.1h0M581.4 148.2h0M581.0 160.9h0M579.4 159.9h0M581.0 162.5h0M585.9 161.5h0M579.1 158.9h0M585.2 163.0h0M586.0 161.3h0M582.1 154.7h0M580.5 153.5h0M579.6 161.6h0M580.0 155.2h0M578.3 165.7h0M580.7 154.5h0M580.5 158.4h0M580.9 148.1h0M581.4 151.4h0M579.8 164.7h0M579.8 156.3h0M579.7 152.1h0M578.4 163.8h0M584.8 156.2h0M581.5 136.0h0M579.8 150.3h0M580.0 152.6h0M580.4 154.0h0M581.3 144.2h0M591.3 156.2h0M580.5 163.7h0M579.1 160.3h0M579.0 164.6h0M581.7 137.5h0M579.3 163.4h0M589.8 160.7h0M580.8 165.0h0M578.9 157.0h0M581.7 152.4h0M586.7 156.9h0M581.5 143.6h0M581.3 162.4h0M583.6 160.6h0M581.0 155.9h0M580.6 151.1h0M589.6 157.4h0M630.8 165.1h0M584.1 160.9h0M586.6 161.3h0M579.8 159.6h0M579.2 154.8h0M579.8 162.8h0M579.5 153.6h0M579.9 165.5h0M585.5 158.8h0M600.9 157.5h0M581.8 159.9h0M581.6 161.1h0M580.7 163.0h0M584.1 156.6h0M581.0 137.3h0M579.9 150.8h0M579.7 160.0h0M582.1 143.4h0M580.4 163.5h0M582.0 144.2h0M579.2 158.8h0M593.1 157.4h0M589.5 158.2h0M582.8 155.8h0M582.6 163.6h0M589.4 158.1h0M584.4 161.0h0M580.7 153.7h0M584.6 159.2h0M602.2 155.4h0M578.5 165.1h0M581.0 160.0h0M580.7 155.0h0M581.6 151.0h0M581.4 150.0h0M580.4 154.1h0M580.9 159.2h0M580.1 153.7h0M594.4 162.8h0M583.1 161.6h0M580.1 145.4h0M605.7 157.7h0M595.0 156.9h0M587.1 156.8h0M583.6 159.2h0M581.0 151.4h0M579.5 166.0h0M586.2 155.4h0M578.1 166.0h0M581.6 132.6h0M582.3 161.3h0M608.2 158.6h0M581.4 134.1h0M580.9 141.3h0M581.6 131.3h0M582.9 158.0h0M580.3 143.8h0M579.9 154.0h0M593.8 159.5h0M579.2 157.0h0M580.5 158.2h0M579.7 165.8h0M581.1 152.6h0M579.4 160.8h0M579.8 149.7h0M578.6 161.9h0M582.0 139.9h0M581.9 157.0h0M579.8 156.5h0M582.2 158.0h0M580.9 156.3h0M581.0 145.2h0M589.9 156.7h0M581.0 156.6h0M587.0 160.4h0M580.5 155.9h0M588.9 159.9h0M581.6 138.3h0M586.1 157.6h0M578.9 158.7h0M580.7 144.9h0M581.9 151.8h0M583.6 158.6h0M578.6 165.3h0M581.4 137.2h0M578.6 164.8h0M581.8 132.6h0M580.9 141.0h0M581.2 154.9h0M578.5 162.7h0M580.2 154.7h0M579.0 158.5h0M580.0 148.8h0M580.8 147.8h0M599.7 156.6h0M584.4 161.6h0M580.0 150.0h0M578.6 160.5h0M579.4 165.1h0M579.3 163.0h0M581.9 158.4h0M581.5 132.9h0M609.5 162.8h0M580.4 160.3h0M581.6 132.2h0M581.8 156.9h0M581.7 145.4h0M584.6 164.2h0M580.7 165.0h0M595.3 161.9h0M579.5 159.5h0M582.7 160.3h0M580.3 146.7h0M581.7 138.1h0M578.6 160.6h0M582.0 129.5h0M581.1 156.8h0M578.6 162.1h0M586.9 161.4h0M587.4 164.5h0M581.4 143.2h0M581.9 132.2h0M585.4 155.4h0M581.6 154.5h0M581.1 158.3h0M580.9 163.0h0M582.0 148.4h0M579.5 157.5h0M584.2 155.6h0M584.5 161.2h0M579.6 156.3h0M581.9 155.1h0M580.2 154.0h0M581.3 144.8h0M580.5 149.8h0M583.9 158.3h0M581.9 160.1h0M581.6 155.5h0M579.9 159.7h0M582.0 140.6h0M579.0 165.0h0M581.7 152.4h0M580.6 149.3h0M580.5 147.7h0M583.9 160.2h0M593.7 160.0h0M579.8 154.3h0M589.7 155.4h0M580.2 153.5h0M581.5 143.8h0M591.5 156.9h0M583.4 160.7h0M582.6 160.3h0M580.8 146.6h0M579.9 164.9h0M581.1 157.2h0M580.8 147.8h0M581.8 146.4h0M581.9 162.6h0M580.7 155.1h0M581.2 155.4h0M580.2 146.6h0M582.0 151.0h0M581.6 143.4h0M579.9 153.1h0M579.7 163.4h0M583.7 158.1h0M583.5 158.1h0M583.2 158.9h0M578.5 161.9h0M579.5 157.6h0M581.9 135.0h0M584.6 157.5h0M585.2 155.4h0M581.0 161.5h0M580.1 148.3h0M584.5 159.3h0M579.8 154.4h0M581.1 155.0h0M578.9 162.8h0M581.4 159.9h0M581.9 136.8h0M589.3 160.7h0M582.3 155.6h0M581.5 159.8h0M581.9 140.9h0M582.1 162.1h0M581.3 135.2h0M581.9 159.7h0M580.8 162.8h0M583.0 156.6h0M580.5 142.8h0M579.6 156.2h0M580.1 161.3h0M579.0 157.9h0M578.5 161.9h0M581.4 149.3h0M579.4 164.2h0M581.8 153.6h0M580.7 148.8h0M580.9 155.3h0M578.3 165.3h0M578.7 165.2h0M588.7 162.4h0M581.8 162.7h0M580.3 165.6h0M579.7 158.9h0M585.3 156.9h0M581.5 135.1h0M585.2 163.5h0M580.6 161.8h0M580.4 149.3h0M579.1 155.8h0M579.7 151.7h0M581.6 145.4h0M580.5 163.3h0M580.5 164.8h0M578.4 162.2h0M581.4 152.7h0M613.3 164.7h0M581.0 137.5h0M582.0 148.0h0M579.2 164.1h0M580.9 139.9h0M579.2 156.0h0M582.0 133.9h0M580.5 161.3h0M580.5 161.8h0M618.9 163.4h0M581.9 133.4h0M578.4 165.0h0M582.8 164.6h0M578.8 160.0h0M579.6 161.4h0M580.1 161.6h0M580.3 164.6h0M579.7 163.0h0M581.4 141.1h0M581.4 134.3h0M613.2 156.4h0M601.6 156.2h0M581.7 136.5h0M581.1 140.1h0M582.6 158.3h0M581.3 163.5h0M581.3 145.7h0M586.0 162.7h0M579.7 165.7h0M581.3 150.8h0M580.7 150.8h0M581.2 141.7h0M585.1 155.9h0M581.6 146.1h0M582.4 160.6h0M579.6 163.6h0M579.6 157.4h0M579.3 155.7h0M578.6 164.7h0M590.2 155.9h0M582.5 155.6h0M580.1 159.5h0M580.7 145.3h0M581.7 155.7h0M588.2 155.7h0M578.5 163.5h0M579.2 165.2h0M580.6 156.8h0M580.7 162.6h0M579.9 161.3h0M579.3 163.7h0M580.9 163.0h0M580.1 150.1h0M579.8 159.3h0M578.4 164.7h0M581.7 149.8h0M583.7 160.2h0M581.0 141.9h0M580.2 148.4h0M581.3 144.3h0M581.3 149.9h0M581.7 143.6h0M582.3 163.9h0M584.4 161.3h0M581.1 141.2h0M580.7 148.6h0M579.1 159.5h0M587.8 158.9h0M581.9 142.7h0M584.7 162.6h0M585.8 157.4h0M580.1 165.1h0M580.5 163.2h0M582.0 128.5h0M581.4 136.1h0M580.3 154.5h0M580.8 164.8h0M581.4 145.8h0M579.5 161.2h0M581.2 160.8h0M579.9 161.4h0M579.1 164.4h0M579.9 164.5h0M578.1 165.3h0M581.7 150.5h0M581.3 163.0h0M581.7 137.8h0M582.0 150.9h0M579.3 156.1h0M584.5 160.5h0M579.6 162.3h0M580.8 154.9h0M590.5 158.1h0M580.7 140.7h0M595.0 160.3h0M578.7 165.3h0M578.2 165.6h0M580.0 152.6h0M581.2 163.6h0M582.1 161.9h0M579.7 160.2h0M584.4 162.5h0M579.9 150.1h0M581.6 154.9h0M580.9 155.3h0M580.5 150.9h0M580.5 159.0h0M599.5 162.2h0M584.0 159.0h0M581.3 153.0h0M593.8 158.3h0M579.3 159.6h0M587.2 157.1h0M582.0 151.1h0M579.9 147.9h0M581.6 139.4h0M581.1 143.5h0M580.6 158.2h0M587.1 160.3h0M581.3 157.2h0M582.7 162.2h0M580.1 161.5h0M579.4 159.5h0M581.3 154.8h0M580.9 161.5h0M579.2 155.3h0M580.4 163.4h0M578.9 161.3h0M580.1 147.4h0M580.9 144.2h0M590.9 158.0h0M582.6 161.8h0M579.6 158.9h0M588.0 160.2h0M581.7 156.4h0M579.0 157.3h0M581.7 157.3h0M630.3 166.0h0M578.6 159.9h0M579.9 155.0h0M579.3 163.6h0M613.9 155.8h0M580.1 150.3h0M579.8 155.2h0M582.8 163.2h0M580.6 148.9h0M581.2 141.6h0M579.2 159.7h0M578.2 164.5h0M579.5 160.1h0M581.3 156.9h0M580.4 156.8h0M579.3 164.9h0M581.2 143.2h0M579.1 156.8h0M580.2 144.9h0M581.2 162.8h0M580.5 163.9h0M579.0 159.8h0M580.5 157.9h0M580.9 146.8h0M578.7 163.9h0M581.0 156.7h0M607.1 156.8h0M581.0 138.5h0M581.8 151.0h0M581.2 135.9h0M579.8 164.6h0M582.8 161.1h0M580.0 155.7h0M578.3 164.2h0M580.0 158.6h0M580.1 165.5h0M586.7 159.8h0M579.8 148.2h0M596.2 155.5h0M580.7 162.3h0M580.8 152.6h0M579.1 159.8h0M579.9 152.9h0M578.3 164.8h0M578.4 164.3h0M592.4 158.6h0M581.7 136.0h0M602.4 156.3h0M580.3 163.9h0M580.4 148.8h0M586.4 158.0h0M581.8 155.9h0M581.5 153.2h0M580.3 152.1h0M580.0 148.1h0M583.1 164.1h0M580.4 148.8h0M579.8 150.3h0M580.2 154.9h0M582.0 151.0h0M581.0 152.3h0M579.6 157.1h0M580.4 158.2h0M579.7 154.5h0M578.9 164.1h0M581.6 163.8h0M586.9 158.7h0M578.8 163.6h0M580.9 143.4h0M591.3 164.4h0M578.8 166.0h0M582.0 140.2h0M579.7 158.5h0M581.3 153.8h0M581.2 150.2h0M578.9 163.6h0M583.7 163.4h0M585.8 159.4h0M587.0 165.2h0M580.3 155.0h0M581.6 149.5h0M581.9 132.7h0M581.8 131.5h0M579.3 158.1h0M581.9 160.7h0M580.8 149.4h0M579.8 162.9h0M581.3 144.6h0M579.7 156.9h0M581.2 146.9h0M579.3 163.3h0M579.3 165.9h0M589.0 157.4h0M582.8 157.3h0M579.7 159.4h0M579.6 152.2h0M582.9 162.9h0M581.4 145.7h0M592.7 161.6h0M579.1 162.1h0M582.5 163.6h0M580.8 147.7h0M578.3 164.7h0M580.6 146.3h0M579.9 163.7h0M581.5 151.3h0M578.2 164.6h0M581.6 138.2h0M578.9 159.7h0M580.7 163.5h0M579.1 162.5h0M581.7 149.6h0M590.3 156.8h0M578.5 164.1h0M580.8 154.7h0M578.6 164.5h0M581.7 140.7h0M580.6 152.3h0M584.0 163.8h0M579.4 153.0h0M596.5 155.4h0M580.1 149.6h0M580.9 146.3h0M580.8 141.8h0M580.4 156.8h0M581.2 147.2h0M581.1 143.5h0M584.2 158.2h0M583.8 159.7h0M585.3 164.2h0M590.0 163.9h0M579.7 165.2h0M579.5 161.5h0M583.1 162.0h0M598.0 157.7h0M578.8 161.1h0M588.2 160.0h0M592.6 158.0h0M579.8 155.6h0M579.9 164.8h0M589.4 155.7h0M586.0 157.2h0M582.1 151.4h0M581.3 163.3h0M580.2 160.3h0M581.4 154.4h0M584.1 160.6h0M581.7 132.1h0M581.2 153.2h0M582.0 149.0h0M581.7 151.5h0M586.2 161.4h0M579.4 162.9h0M617.6 155.5h0M581.5 153.8h0M581.7 160.6h0M581.5 132.5h0M580.5 157.9h0M580.7 147.1h0M583.2 160.2h0M578.8 163.2h0M581.5 162.9h0M582.0 155.0h0M580.9 151.1h0M579.7 153.2h0M578.8 163.8h0M581.0 141.4h0M579.6 162.8h0M580.1 152.7h0M579.5 162.4h0M580.4 159.2h0M579.6 163.2h0M581.1 142.9h0M581.6 145.3h0M579.0 166.0h0M579.7 165.2h0M584.0 156.0h0M586.4 160.3h0M582.0 157.5h0M578.5 164.7h0M582.0 157.7h0M581.6 131.5h0M587.2 156.8h0M586.6 155.8h0M580.6 143.9h0M581.5 137.6h0M578.9 161.9h0M581.9 161.1h0M580.4 160.3h0M580.5 161.3h0M581.7 164.9h0M579.1 164.0h0M580.6 151.0h0M584.4 157.5h0M581.8 137.3h0M578.4 163.6h0M589.9 159.4h0M580.6 154.8h0M584.4 157.5h0M580.6 153.6h0M578.3 165.0h0M580.6 161.8h0M583.4 155.4h0M580.3 159.8h0M579.7 159.3h0M586.1 161.2h0M593.8 160.9h0M579.0 162.3h0M585.5 156.0h0M581.3 161.3h0M586.1 157.2h0M581.1 159.9h0M583.7 157.0h0M579.3 164.2h0M607.7 155.6h0M580.9 151.7h0M578.8 159.4h0M579.2 157.7h0M581.6 138.3h0M588.7 157.9h0M595.6 165.6h0M581.7 165.1h0M601.5 160.7h0M586.3 156.3h0M578.8 162.8h0M581.3 155.0h0M589.0 158.7h0M581.8 159.1h0M582.2 158.1h0M602.8 156.1h0M578.7 165.6h0M586.7 160.4h0M580.0 159.2h0M586.7 156.8h0M585.1 160.4h0M580.9 140.2h0M596.8 159.8h0M581.3 156.3h0M578.4 162.6h0M579.1 160.9h0M578.7 165.9h0M579.9 164.2h0M579.1 158.6h0M579.9 164.7h0M581.5 162.8h0M581.6 139.4h0M580.9 142.8h0M582.0 140.8h0M580.7 143.1h0M581.8 153.5h0M582.7 160.7h0M581.0 150.4h0M580.4 163.9h0M587.2 158.6h0M581.4 139.8h0M580.0 149.2h0M579.5 164.6h0M582.0 144.1h0M585.9 158.2h0M583.1 157.3h0M581.7 145.8h0M585.6 161.5h0M591.5 165.1h0M579.2 161.8h0M581.7 156.8h0M580.4 145.8h0M581.1 154.4h0M584.7 162.6h0M579.3 159.7h0M578.5 165.9h0M581.2 154.9h0M581.3 157.1h0M578.8 165.7h0M597.3 156.7h0M580.4 154.0h0M581.5 144.0h0M580.9 152.8h0M579.8 155.1h0M581.4 144.5h0M588.6 160.6h0M594.8 159.3h0M580.6 153.5h0M579.8 148.5h0M580.3 156.1h0M581.6 160.8h0M583.6 156.1h0M582.7 155.4h0M580.6 144.1h0M581.9 159.8h0M580.1 150.0h0M581.3 136.2h0M581.3 152.0h0M579.6 152.5h0M580.3 160.2h0M581.5 147.1h0M579.2 164.1h0M580.4 150.8h0M581.6 153.3h0M587.3 161.3h0M581.4 145.9h0M581.1 164.2h0M581.4 150.4h0M578.5 162.8h0M579.2 165.7h0M581.5 143.3h0M578.8 164.0h0M588.2 163.1h0M591.6 162.5h0M578.6 165.0h0M586.1 160.2h0M582.7 156.7h0M578.8 159.3h0M581.0 146.0h0M581.1 139.8h0M585.9 160.9h0M580.3 148.9h0M617.1 165.1h0M579.1 157.0h0M579.5 154.5h0M579.2 157.9h0M596.4 157.9h0M581.7 145.1h0M581.3 161.9h0M579.2 156.4h0M580.8 153.7h0M578.9 158.3h0M580.9 158.8h0M580.6 147.0h0M579.4 161.8h0M582.2 161.8h0M580.3 164.3h0M581.2 152.0h0M579.1 162.5h0M579.9 159.9h0M581.4 148.1h0M580.2 147.7h0" stroke="#0a0a0a" stroke-width="1.1" stroke-linecap="square" fill="none"/>
</g>
<g id="venn">
<ellipse cx="131.3" cy="413.2" rx="79.6" ry="85.6" fill="#cc6ef8"/>
<ellipse cx="185.5" cy="413.2" rx="44.4" ry="47.3" fill="#5683e4" fill-opacity="0.62"/>
<text class="t" x="96.6" y="416.4" font-size="9.2" font-weight="bold" fill="#fff" text-anchor="middle">3078</text><text class="t" x="176.2" y="416.4" font-size="9.2" font-weight="bold" fill="#fff" text-anchor="middle">1023</text><text class="t" x="220.8" y="416.4" font-size="9.2" font-weight="bold" fill="#fff" text-anchor="middle">251</text><text class="t" x="205" y="474" font-size="12.2" font-weight="bold" fill="#4a7bd6" text-anchor="middle">hour24</text><text class="t" x="100.3" y="509.7" font-size="12.2" font-weight="bold" fill="#b000e6" text-anchor="middle">hour72</text>
</g>
<defs><filter id="vb" x="0" y="0" width="1" height="1"><feGaussianBlur stdDeviation="0 0.5"/></filter></defs>
<g id="heatmap" shape-rendering="crispEdges" filter="url(#vb)">
<rect x="336.5" y="292" width="282.24" height="283" fill="#000"/>
<path d="M336.50 292h31.36v2h-31.36zM336.50 299h31.36v1h-31.36zM336.50 304h31.36v3h-31.36zM336.50 310h31.36v1h-31.36zM336.50 312h31.36v1h-31.36zM336.50 318h31.36v2h-31.36zM336.50 321h31.36v1h-31.36zM336.50 329h31.36v1h-31.36zM336.50 331h31.36v3h-31.36zM336.50 336h31.36v2h-31.36zM336.50 344h31.36v1h-31.36zM336.50 347h31.36v1h-31.36zM336.50 351h31.36v1h-31.36zM336.50 357h31.36v2h-31.36zM336.50 361h31.36v1h-31.36zM336.50 366h31.36v1h-31.36zM336.50 371h31.36v2h-31.36zM336.50 377h31.36v1h-31.36zM336.50 379h31.36v1h-31.36zM336.50 383h31.36v1h-31.36zM336.50 390h31.36v1h-31.36zM336.50 416h31.36v3h-31.36zM336.50 424h31.36v2h-31.36zM336.50 434h31.36v2h-31.36zM336.50 439h31.36v1h-31.36zM336.50 443h31.36v4h-31.36zM336.50 453h31.36v1h-31.36zM336.50 456h31.36v1h-31.36zM336.50 458h31.36v4h-31.36zM336.50 468h31.36v3h-31.36zM336.50 472h31.36v1h-31.36zM336.50 477h31.36v1h-31.36zM336.50 480h31.36v1h-31.36zM336.50 483h31.36v1h-31.36zM336.50 485h31.36v2h-31.36zM336.50 490h31.36v1h-31.36zM336.50 494h31.36v1h-31.36zM336.50 499h31.36v1h-31.36zM336.50 503h31.36v3h-31.36zM336.50 511h31.36v1h-31.36zM336.50 514h31.36v1h-31.36zM336.50 516h31.36v1h-31.36zM336.50 520h31.36v1h-31.36zM336.50 525h31.36v3h-31.36zM336.50 530h31.36v4h-31.36zM336.50 539h31.36v1h-31.36zM336.50 546h31.36v1h-31.36zM336.50 553h31.36v1h-31.36zM336.50 556h31.36v1h-31.36zM336.50 559h31.36v2h-31.36zM336.50 567h31.36v4h-31.36zM336.50 573h31.36v2h-31.36zM367.86 293h31.36v1h-31.36zM367.86 295h31.36v1h-31.36zM367.86 300h31.36v2h-31.36zM367.86 303h31.36v2h-31.36zM367.86 306h31.36v3h-31.36zM367.86 310h31.36v2h-31.36zM367.86 324h31.36v2h-31.36zM367.86 328h31.36v1h-31.36zM367.86 336h31.36v3h-31.36zM367.86 347h31.36v3h-31.36zM367.86 354h31.36v2h-31.36zM367.86 358h31.36v1h-31.36zM367.86 360h31.36v1h-31.36zM367.86 369h31.36v2h-31.36zM367.86 372h31.36v1h-31.36zM367.86 394h31.36v1h-31.36zM367.86 397h31.36v2h-31.36zM367.86 400h31.36v1h-31.36zM367.86 402h31.36v4h-31.36zM367.86 407h31.36v2h-31.36zM367.86 414h31.36v1h-31.36zM367.86 419h31.36v1h-31.36zM367.86 424h31.36v5h-31.36zM367.86 433h31.36v4h-31.36zM367.86 457h31.36v1h-31.36zM367.86 460h31.36v2h-31.36zM367.86 466h31.36v2h-31.36zM367.86 469h31.36v1h-31.36zM367.86 480h31.36v1h-31.36zM367.86 482h31.36v1h-31.36zM367.86 484h31.36v3h-31.36zM367.86 490h31.36v1h-31.36zM367.86 503h31.36v1h-31.36zM367.86 507h31.36v1h-31.36zM367.86 511h31.36v1h-31.36zM367.86 515h31.36v3h-31.36zM367.86 522h31.36v1h-31.36zM367.86 526h31.36v1h-31.36zM367.86 538h31.36v1h-31.36zM367.86 540h31.36v1h-31.36zM367.86 542h31.36v1h-31.36zM367.86 545h31.36v1h-31.36zM367.86 548h31.36v1h-31.36zM367.86 553h31.36v1h-31.36zM367.86 558h31.36v2h-31.36zM367.86 561h31.36v1h-31.36zM367.86 563h31.36v1h-31.36zM367.86 566h31.36v2h-31.36zM367.86 569h31.36v2h-31.36zM367.86 573h31.36v1h-31.36zM399.22 299h31.36v1h-31.36zM399.22 301h31.36v1h-31.36zM399.22 303h31.36v6h-31.36zM399.22 315h31.36v2h-31.36zM399.22 318h31.36v2h-31.36zM399.22 324h31.36v1h-31.36zM399.22 327h31.36v2h-31.36zM399.22 330h31.36v1h-31.36zM399.22 334h31.36v1h-31.36zM399.22 340h31.36v1h-31.36zM399.22 342h31.36v1h-31.36zM399.22 351h31.36v1h-31.36zM399.22 355h31.36v1h-31.36zM399.22 359h31.36v5h-31.36zM399.22 375h31.36v3h-31.36zM399.22 393h31.36v1h-31.36zM399.22 395h31.36v5h-31.36zM399.22 403h31.36v1h-31.36zM399.22 407h31.36v3h-31.36zM399.22 411h31.36v6h-31.36zM399.22 418h31.36v1h-31.36zM399.22 420h31.36v7h-31.36zM399.22 431h31.36v1h-31.36zM399.22 433h31.36v1h-31.36zM399.22 439h31.36v2h-31.36zM399.22 454h31.36v1h-31.36zM399.22 456h31.36v2h-31.36zM399.22 468h31.36v1h-31.36zM399.22 477h31.36v1h-31.36zM399.22 481h31.36v1h-31.36zM399.22 483h31.36v1h-31.36zM399.22 486h31.36v1h-31.36zM399.22 490h31.36v2h-31.36zM399.22 494h31.36v1h-31.36zM399.22 497h31.36v1h-31.36zM399.22 500h31.36v2h-31.36zM399.22 503h31.36v3h-31.36zM399.22 508h31.36v1h-31.36zM399.22 517h31.36v1h-31.36zM399.22 521h31.36v1h-31.36zM399.22 525h31.36v1h-31.36zM399.22 535h31.36v1h-31.36zM399.22 539h31.36v1h-31.36zM399.22 545h31.36v1h-31.36zM399.22 550h31.36v1h-31.36zM399.22 554h31.36v1h-31.36zM399.22 556h31.36v1h-31.36zM399.22 559h31.36v1h-31.36zM399.22 562h31.36v1h-31.36zM399.22 567h31.36v4h-31.36zM399.22 574h31.36v1h-31.36zM430.58 352h31.36v1h-31.36zM430.58 506h31.36v1h-31.36zM461.94 410h31.36v1h-31.36zM524.66 322h31.36v1h-31.36zM524.66 441h31.36v1h-31.36zM587.38 322h31.36v1h-31.36z" fill="#c30000"/>
<path d="M336.50 294h31.36v2h-31.36zM336.50 343h31.36v1h-31.36zM336.50 376h31.36v1h-31.36zM336.50 380h31.36v1h-31.36zM336.50 384h31.36v1h-31.36zM336.50 386h31.36v1h-31.36zM336.50 394h31.36v1h-31.36zM336.50 397h31.36v1h-31.36zM336.50 399h31.36v1h-31.36zM336.50 430h31.36v1h-31.36zM336.50 432h31.36v2h-31.36zM336.50 462h31.36v1h-31.36zM336.50 464h31.36v1h-31.36zM336.50 497h31.36v1h-31.36zM336.50 551h31.36v2h-31.36zM336.50 563h31.36v2h-31.36zM336.50 571h31.36v1h-31.36zM367.86 319h31.36v2h-31.36zM367.86 520h31.36v1h-31.36zM399.22 297h31.36v1h-31.36zM399.22 331h31.36v2h-31.36zM399.22 341h31.36v1h-31.36zM399.22 369h31.36v2h-31.36zM399.22 385h31.36v1h-31.36zM399.22 392h31.36v1h-31.36zM399.22 394h31.36v1h-31.36zM399.22 434h31.36v1h-31.36zM399.22 447h31.36v1h-31.36zM399.22 460h31.36v1h-31.36zM399.22 466h31.36v1h-31.36zM399.22 480h31.36v1h-31.36zM399.22 492h31.36v1h-31.36zM399.22 495h31.36v1h-31.36zM399.22 515h31.36v1h-31.36zM399.22 527h31.36v1h-31.36zM399.22 532h31.36v2h-31.36zM430.58 410h31.36v1h-31.36zM430.58 464h31.36v1h-31.36zM493.30 464h31.36v1h-31.36zM493.30 487h31.36v3h-31.36zM493.30 506h31.36v1h-31.36zM493.30 536h31.36v1h-31.36zM556.02 322h31.36v1h-31.36z" fill="#a50000"/>
<path d="M336.50 296h31.36v1h-31.36zM336.50 308h31.36v1h-31.36zM336.50 385h31.36v1h-31.36zM336.50 387h31.36v1h-31.36zM336.50 440h31.36v1h-31.36zM399.22 337h31.36v1h-31.36zM399.22 371h31.36v2h-31.36zM399.22 435h31.36v2h-31.36zM399.22 479h31.36v1h-31.36zM399.22 522h31.36v1h-31.36zM461.94 334h31.36v1h-31.36zM461.94 373h31.36v1h-31.36zM461.94 389h31.36v1h-31.36zM461.94 463h31.36v1h-31.36zM493.30 346h31.36v1h-31.36zM493.30 463h31.36v1h-31.36zM493.30 537h31.36v1h-31.36zM493.30 557h31.36v1h-31.36z" fill="#960000"/>
<path d="M336.50 297h31.36v2h-31.36zM336.50 301h31.36v1h-31.36zM336.50 303h31.36v1h-31.36zM336.50 307h31.36v1h-31.36zM336.50 313h31.36v1h-31.36zM336.50 316h31.36v2h-31.36zM336.50 325h31.36v4h-31.36zM336.50 330h31.36v1h-31.36zM336.50 342h31.36v1h-31.36zM336.50 345h31.36v1h-31.36zM336.50 355h31.36v2h-31.36zM336.50 365h31.36v1h-31.36zM336.50 367h31.36v4h-31.36zM336.50 374h31.36v1h-31.36zM336.50 378h31.36v1h-31.36zM336.50 388h31.36v1h-31.36zM336.50 391h31.36v3h-31.36zM336.50 398h31.36v1h-31.36zM336.50 400h31.36v3h-31.36zM336.50 404h31.36v2h-31.36zM336.50 408h31.36v1h-31.36zM336.50 413h31.36v1h-31.36zM336.50 415h31.36v1h-31.36zM336.50 419h31.36v2h-31.36zM336.50 452h31.36v1h-31.36zM336.50 454h31.36v2h-31.36zM336.50 467h31.36v1h-31.36zM336.50 471h31.36v1h-31.36zM336.50 475h31.36v1h-31.36zM336.50 478h31.36v2h-31.36zM336.50 484h31.36v1h-31.36zM336.50 491h31.36v3h-31.36zM336.50 501h31.36v1h-31.36zM336.50 515h31.36v1h-31.36zM336.50 517h31.36v3h-31.36zM336.50 521h31.36v3h-31.36zM336.50 529h31.36v1h-31.36zM336.50 535h31.36v1h-31.36zM336.50 540h31.36v4h-31.36zM336.50 545h31.36v1h-31.36zM336.50 547h31.36v1h-31.36zM336.50 549h31.36v1h-31.36zM336.50 561h31.36v1h-31.36zM336.50 566h31.36v1h-31.36zM367.86 292h31.36v1h-31.36zM367.86 298h31.36v1h-31.36zM367.86 302h31.36v1h-31.36zM367.86 312h31.36v7h-31.36zM367.86 326h31.36v2h-31.36zM367.86 329h31.36v1h-31.36zM367.86 331h31.36v1h-31.36zM367.86 333h31.36v1h-31.36zM367.86 339h31.36v5h-31.36zM367.86 345h31.36v1h-31.36zM367.86 356h31.36v2h-31.36zM367.86 359h31.36v1h-31.36zM367.86 365h31.36v4h-31.36zM367.86 371h31.36v1h-31.36zM367.86 378h31.36v1h-31.36zM367.86 382h31.36v2h-31.36zM367.86 385h31.36v3h-31.36zM367.86 390h31.36v1h-31.36zM367.86 392h31.36v2h-31.36zM367.86 396h31.36v1h-31.36zM367.86 401h31.36v1h-31.36zM367.86 411h31.36v1h-31.36zM367.86 413h31.36v1h-31.36zM367.86 416h31.36v3h-31.36zM367.86 421h31.36v1h-31.36zM367.86 437h31.36v1h-31.36zM367.86 440h31.36v1h-31.36zM367.86 446h31.36v2h-31.36zM367.86 449h31.36v1h-31.36zM367.86 453h31.36v4h-31.36zM367.86 459h31.36v1h-31.36zM367.86 464h31.36v1h-31.36zM367.86 468h31.36v1h-31.36zM367.86 470h31.36v4h-31.36zM367.86 475h31.36v5h-31.36zM367.86 481h31.36v1h-31.36zM367.86 483h31.36v1h-31.36zM367.86 487h31.36v1h-31.36zM367.86 491h31.36v4h-31.36zM367.86 496h31.36v1h-31.36zM367.86 499h31.36v1h-31.36zM367.86 501h31.36v1h-31.36zM367.86 510h31.36v1h-31.36zM367.86 512h31.36v3h-31.36zM367.86 518h31.36v1h-31.36zM367.86 521h31.36v1h-31.36zM367.86 524h31.36v2h-31.36zM367.86 527h31.36v2h-31.36zM367.86 533h31.36v1h-31.36zM367.86 541h31.36v1h-31.36zM367.86 546h31.36v2h-31.36zM367.86 549h31.36v1h-31.36zM367.86 554h31.36v1h-31.36zM367.86 560h31.36v1h-31.36zM367.86 564h31.36v2h-31.36zM367.86 568h31.36v1h-31.36zM367.86 574h31.36v1h-31.36zM399.22 294h31.36v2h-31.36zM399.22 300h31.36v1h-31.36zM399.22 309h31.36v2h-31.36zM399.22 313h31.36v1h-31.36zM399.22 320h31.36v2h-31.36zM399.22 329h31.36v1h-31.36zM399.22 335h31.36v2h-31.36zM399.22 344h31.36v1h-31.36zM399.22 347h31.36v4h-31.36zM399.22 353h31.36v1h-31.36zM399.22 357h31.36v2h-31.36zM399.22 386h31.36v1h-31.36zM399.22 400h31.36v2h-31.36zM399.22 404h31.36v3h-31.36zM399.22 429h31.36v1h-31.36zM399.22 437h31.36v2h-31.36zM399.22 442h31.36v1h-31.36zM399.22 449h31.36v1h-31.36zM399.22 453h31.36v1h-31.36zM399.22 455h31.36v1h-31.36zM399.22 462h31.36v1h-31.36zM399.22 465h31.36v1h-31.36zM399.22 472h31.36v1h-31.36zM399.22 485h31.36v1h-31.36zM399.22 502h31.36v1h-31.36zM399.22 518h31.36v1h-31.36zM399.22 523h31.36v1h-31.36zM399.22 531h31.36v1h-31.36zM399.22 534h31.36v1h-31.36zM399.22 547h31.36v1h-31.36zM399.22 551h31.36v2h-31.36zM399.22 555h31.36v1h-31.36zM399.22 560h31.36v2h-31.36zM399.22 563h31.36v1h-31.36zM399.22 572h31.36v2h-31.36zM430.58 487h31.36v1h-31.36zM430.58 536h31.36v1h-31.36zM461.94 346h31.36v1h-31.36zM461.94 506h31.36v1h-31.36zM461.94 536h31.36v1h-31.36zM461.94 557h31.36v1h-31.36zM556.02 441h31.36v1h-31.36zM587.38 441h31.36v1h-31.36z" fill="#d20000"/>
<path d="M336.50 300h31.36v1h-31.36zM336.50 314h31.36v2h-31.36zM336.50 324h31.36v1h-31.36zM336.50 338h31.36v1h-31.36zM336.50 359h31.36v1h-31.36zM336.50 362h31.36v2h-31.36zM336.50 375h31.36v1h-31.36zM336.50 403h31.36v1h-31.36zM336.50 406h31.36v2h-31.36zM336.50 409h31.36v1h-31.36zM336.50 411h31.36v2h-31.36zM336.50 414h31.36v1h-31.36zM336.50 421h31.36v1h-31.36zM336.50 423h31.36v1h-31.36zM336.50 428h31.36v1h-31.36zM336.50 450h31.36v1h-31.36zM336.50 473h31.36v2h-31.36zM336.50 476h31.36v1h-31.36zM336.50 487h31.36v1h-31.36zM336.50 507h31.36v1h-31.36zM336.50 528h31.36v1h-31.36zM336.50 544h31.36v1h-31.36zM336.50 548h31.36v1h-31.36zM367.86 294h31.36v1h-31.36zM367.86 296h31.36v2h-31.36zM367.86 305h31.36v1h-31.36zM367.86 330h31.36v1h-31.36zM367.86 334h31.36v2h-31.36zM367.86 344h31.36v1h-31.36zM367.86 363h31.36v2h-31.36zM367.86 374h31.36v3h-31.36zM367.86 379h31.36v3h-31.36zM367.86 391h31.36v1h-31.36zM367.86 395h31.36v1h-31.36zM367.86 406h31.36v1h-31.36zM367.86 412h31.36v1h-31.36zM367.86 423h31.36v1h-31.36zM367.86 429h31.36v2h-31.36zM367.86 432h31.36v1h-31.36zM367.86 438h31.36v2h-31.36zM367.86 444h31.36v2h-31.36zM367.86 448h31.36v1h-31.36zM367.86 450h31.36v1h-31.36zM367.86 458h31.36v1h-31.36zM367.86 465h31.36v1h-31.36zM367.86 474h31.36v1h-31.36zM367.86 495h31.36v1h-31.36zM367.86 497h31.36v2h-31.36zM367.86 500h31.36v1h-31.36zM367.86 502h31.36v1h-31.36zM367.86 508h31.36v2h-31.36zM367.86 532h31.36v1h-31.36zM367.86 550h31.36v3h-31.36zM367.86 555h31.36v2h-31.36zM367.86 562h31.36v1h-31.36zM367.86 571h31.36v2h-31.36zM399.22 296h31.36v1h-31.36zM399.22 312h31.36v1h-31.36zM399.22 314h31.36v1h-31.36zM399.22 345h31.36v1h-31.36zM399.22 354h31.36v1h-31.36zM399.22 356h31.36v1h-31.36zM399.22 365h31.36v3h-31.36zM399.22 379h31.36v1h-31.36zM399.22 381h31.36v1h-31.36zM399.22 427h31.36v2h-31.36zM399.22 430h31.36v1h-31.36zM399.22 443h31.36v4h-31.36zM399.22 464h31.36v1h-31.36zM399.22 469h31.36v3h-31.36zM399.22 484h31.36v1h-31.36zM399.22 524h31.36v1h-31.36zM399.22 544h31.36v1h-31.36zM399.22 546h31.36v1h-31.36zM399.22 564h31.36v2h-31.36zM399.22 571h31.36v1h-31.36zM430.58 488h31.36v1h-31.36zM430.58 537h31.36v1h-31.36zM461.94 488h31.36v1h-31.36zM461.94 537h31.36v1h-31.36z" fill="#e10000"/>
<path d="M336.50 302h31.36v1h-31.36zM336.50 309h31.36v1h-31.36zM336.50 320h31.36v1h-31.36zM336.50 334h31.36v2h-31.36zM336.50 339h31.36v3h-31.36zM336.50 350h31.36v1h-31.36zM336.50 353h31.36v2h-31.36zM336.50 360h31.36v1h-31.36zM336.50 381h31.36v2h-31.36zM336.50 395h31.36v2h-31.36zM336.50 426h31.36v2h-31.36zM336.50 431h31.36v1h-31.36zM336.50 436h31.36v1h-31.36zM336.50 442h31.36v1h-31.36zM336.50 447h31.36v3h-31.36zM336.50 451h31.36v1h-31.36zM336.50 457h31.36v1h-31.36zM336.50 465h31.36v2h-31.36zM336.50 495h31.36v2h-31.36zM336.50 498h31.36v1h-31.36zM336.50 500h31.36v1h-31.36zM336.50 502h31.36v1h-31.36zM336.50 509h31.36v2h-31.36zM336.50 512h31.36v2h-31.36zM336.50 524h31.36v1h-31.36zM336.50 534h31.36v1h-31.36zM336.50 538h31.36v1h-31.36zM336.50 550h31.36v1h-31.36zM336.50 554h31.36v2h-31.36zM336.50 558h31.36v1h-31.36zM336.50 562h31.36v1h-31.36zM336.50 565h31.36v1h-31.36zM336.50 572h31.36v1h-31.36zM367.86 299h31.36v1h-31.36zM367.86 309h31.36v1h-31.36zM367.86 321h31.36v1h-31.36zM367.86 332h31.36v1h-31.36zM367.86 377h31.36v1h-31.36zM367.86 384h31.36v1h-31.36zM367.86 399h31.36v1h-31.36zM367.86 409h31.36v1h-31.36zM367.86 415h31.36v1h-31.36zM367.86 420h31.36v1h-31.36zM367.86 422h31.36v1h-31.36zM367.86 442h31.36v2h-31.36zM367.86 462h31.36v1h-31.36zM367.86 504h31.36v2h-31.36zM367.86 519h31.36v1h-31.36zM367.86 529h31.36v2h-31.36zM367.86 539h31.36v1h-31.36zM367.86 543h31.36v2h-31.36zM399.22 292h31.36v2h-31.36zM399.22 298h31.36v1h-31.36zM399.22 302h31.36v1h-31.36zM399.22 317h31.36v1h-31.36zM399.22 325h31.36v2h-31.36zM399.22 333h31.36v1h-31.36zM399.22 338h31.36v2h-31.36zM399.22 343h31.36v1h-31.36zM399.22 364h31.36v1h-31.36zM399.22 368h31.36v1h-31.36zM399.22 374h31.36v1h-31.36zM399.22 378h31.36v1h-31.36zM399.22 382h31.36v3h-31.36zM399.22 387h31.36v2h-31.36zM399.22 391h31.36v1h-31.36zM399.22 402h31.36v1h-31.36zM399.22 417h31.36v1h-31.36zM399.22 419h31.36v1h-31.36zM399.22 432h31.36v1h-31.36zM399.22 448h31.36v1h-31.36zM399.22 450h31.36v3h-31.36zM399.22 458h31.36v2h-31.36zM399.22 461h31.36v1h-31.36zM399.22 467h31.36v1h-31.36zM399.22 473h31.36v4h-31.36zM399.22 478h31.36v1h-31.36zM399.22 482h31.36v1h-31.36zM399.22 493h31.36v1h-31.36zM399.22 496h31.36v1h-31.36zM399.22 498h31.36v2h-31.36zM399.22 507h31.36v1h-31.36zM399.22 509h31.36v6h-31.36zM399.22 516h31.36v1h-31.36zM399.22 519h31.36v2h-31.36zM399.22 526h31.36v1h-31.36zM399.22 528h31.36v3h-31.36zM399.22 538h31.36v1h-31.36zM399.22 548h31.36v2h-31.36zM399.22 553h31.36v1h-31.36zM399.22 558h31.36v1h-31.36zM399.22 566h31.36v1h-31.36zM430.58 463h31.36v1h-31.36zM430.58 489h31.36v1h-31.36zM430.58 535h31.36v1h-31.36zM430.58 557h31.36v1h-31.36zM461.94 352h31.36v1h-31.36z" fill="#b40000"/>
<path d="M336.50 311h31.36v1h-31.36zM336.50 422h31.36v1h-31.36zM336.50 481h31.36v2h-31.36zM367.86 353h31.36v1h-31.36zM399.22 540h31.36v1h-31.36zM399.22 543h31.36v1h-31.36zM461.94 487h31.36v1h-31.36z" fill="#ff0000"/>
<path d="M336.50 322h31.36v1h-31.36zM367.86 322h31.36v1h-31.36zM524.66 298h31.36v1h-31.36zM524.66 320h31.36v1h-31.36zM524.66 323h31.36v2h-31.36zM524.66 331h31.36v1h-31.36zM524.66 365h31.36v1h-31.36zM524.66 380h31.36v2h-31.36zM524.66 482h31.36v2h-31.36zM524.66 487h31.36v1h-31.36zM524.66 504h31.36v1h-31.36zM524.66 514h31.36v1h-31.36zM524.66 533h31.36v2h-31.36zM524.66 541h31.36v1h-31.36zM524.66 567h31.36v1h-31.36zM524.66 569h31.36v1h-31.36zM524.66 573h31.36v1h-31.36zM556.02 296h31.36v3h-31.36zM556.02 310h31.36v1h-31.36zM556.02 313h31.36v2h-31.36zM556.02 316h31.36v2h-31.36zM556.02 320h31.36v1h-31.36zM556.02 324h31.36v1h-31.36zM556.02 326h31.36v3h-31.36zM556.02 330h31.36v2h-31.36zM556.02 333h31.36v1h-31.36zM556.02 335h31.36v2h-31.36zM556.02 341h31.36v1h-31.36zM556.02 347h31.36v1h-31.36zM556.02 351h31.36v1h-31.36zM556.02 355h31.36v1h-31.36zM556.02 363h31.36v3h-31.36zM556.02 374h31.36v1h-31.36zM556.02 379h31.36v1h-31.36zM556.02 393h31.36v4h-31.36zM556.02 404h31.36v1h-31.36zM556.02 409h31.36v3h-31.36zM556.02 413h31.36v1h-31.36zM556.02 419h31.36v2h-31.36zM556.02 426h31.36v1h-31.36zM556.02 429h31.36v1h-31.36zM556.02 437h31.36v1h-31.36zM556.02 440h31.36v1h-31.36zM556.02 442h31.36v1h-31.36zM556.02 459h31.36v2h-31.36zM556.02 462h31.36v1h-31.36zM556.02 473h31.36v1h-31.36zM556.02 475h31.36v1h-31.36zM556.02 482h31.36v1h-31.36zM556.02 499h31.36v1h-31.36zM556.02 501h31.36v2h-31.36zM556.02 504h31.36v1h-31.36zM556.02 509h31.36v4h-31.36zM556.02 514h31.36v2h-31.36zM556.02 519h31.36v1h-31.36zM556.02 523h31.36v1h-31.36zM556.02 527h31.36v2h-31.36zM556.02 531h31.36v2h-31.36zM556.02 534h31.36v1h-31.36zM556.02 541h31.36v1h-31.36zM556.02 545h31.36v3h-31.36zM556.02 549h31.36v1h-31.36zM556.02 557h31.36v1h-31.36zM556.02 559h31.36v1h-31.36zM556.02 561h31.36v1h-31.36zM556.02 570h31.36v1h-31.36zM587.38 295h31.36v1h-31.36zM587.38 305h31.36v1h-31.36zM587.38 311h31.36v1h-31.36zM587.38 324h31.36v3h-31.36zM587.38 337h31.36v2h-31.36zM587.38 348h31.36v1h-31.36zM587.38 371h31.36v2h-31.36zM587.38 391h31.36v4h-31.36zM587.38 401h31.36v1h-31.36zM587.38 409h31.36v2h-31.36zM587.38 415h31.36v1h-31.36zM587.38 442h31.36v2h-31.36zM587.38 446h31.36v1h-31.36zM587.38 449h31.36v1h-31.36zM587.38 461h31.36v1h-31.36zM587.38 471h31.36v1h-31.36zM587.38 478h31.36v1h-31.36zM587.38 494h31.36v1h-31.36zM587.38 497h31.36v1h-31.36zM587.38 559h31.36v1h-31.36zM587.38 561h31.36v4h-31.36zM587.38 569h31.36v1h-31.36zM587.38 573h31.36v1h-31.36z" fill="#00d200"/>
<path d="M336.50 323h31.36v1h-31.36zM430.58 303h31.36v1h-31.36zM430.58 307h31.36v1h-31.36zM430.58 392h31.36v2h-31.36zM430.58 404h31.36v1h-31.36zM430.58 421h31.36v1h-31.36zM430.58 437h31.36v1h-31.36zM430.58 476h31.36v1h-31.36zM430.58 481h31.36v1h-31.36zM430.58 490h31.36v1h-31.36zM430.58 519h31.36v1h-31.36zM430.58 533h31.36v2h-31.36zM430.58 568h31.36v1h-31.36zM461.94 347h31.36v3h-31.36zM461.94 398h31.36v1h-31.36zM461.94 436h31.36v1h-31.36zM461.94 453h31.36v1h-31.36zM461.94 554h31.36v3h-31.36zM461.94 559h31.36v1h-31.36zM461.94 571h31.36v2h-31.36zM493.30 293h31.36v1h-31.36zM493.30 295h31.36v1h-31.36zM493.30 338h31.36v1h-31.36zM493.30 343h31.36v2h-31.36zM493.30 347h31.36v1h-31.36zM493.30 349h31.36v1h-31.36zM493.30 355h31.36v3h-31.36zM493.30 361h31.36v2h-31.36zM493.30 370h31.36v1h-31.36zM493.30 374h31.36v1h-31.36zM493.30 380h31.36v1h-31.36zM493.30 386h31.36v1h-31.36zM493.30 388h31.36v1h-31.36zM493.30 390h31.36v3h-31.36zM493.30 394h31.36v2h-31.36zM493.30 397h31.36v1h-31.36zM493.30 399h31.36v3h-31.36zM493.30 403h31.36v1h-31.36zM493.30 420h31.36v1h-31.36zM493.30 428h31.36v2h-31.36zM493.30 432h31.36v1h-31.36zM493.30 437h31.36v1h-31.36zM493.30 440h31.36v1h-31.36zM493.30 449h31.36v2h-31.36zM493.30 453h31.36v2h-31.36zM493.30 461h31.36v1h-31.36zM493.30 465h31.36v1h-31.36zM493.30 470h31.36v1h-31.36zM493.30 478h31.36v1h-31.36zM493.30 481h31.36v1h-31.36zM493.30 491h31.36v1h-31.36zM493.30 496h31.36v1h-31.36zM493.30 510h31.36v1h-31.36zM493.30 513h31.36v1h-31.36zM493.30 518h31.36v3h-31.36zM493.30 522h31.36v1h-31.36zM493.30 524h31.36v1h-31.36zM493.30 527h31.36v1h-31.36zM493.30 533h31.36v1h-31.36zM493.30 541h31.36v1h-31.36zM493.30 545h31.36v1h-31.36zM493.30 565h31.36v1h-31.36zM493.30 567h31.36v1h-31.36zM493.30 569h31.36v1h-31.36zM524.66 517h31.36v1h-31.36zM524.66 540h31.36v1h-31.36zM524.66 564h31.36v1h-31.36zM556.02 457h31.36v1h-31.36z" fill="#004b00"/>
<path d="M336.50 348h31.36v2h-31.36zM336.50 364h31.36v1h-31.36zM336.50 429h31.36v1h-31.36zM336.50 437h31.36v2h-31.36zM336.50 508h31.36v1h-31.36zM367.86 350h31.36v2h-31.36zM367.86 361h31.36v2h-31.36zM367.86 388h31.36v1h-31.36zM367.86 431h31.36v1h-31.36zM367.86 451h31.36v2h-31.36zM367.86 523h31.36v1h-31.36zM367.86 531h31.36v1h-31.36zM367.86 534h31.36v2h-31.36zM399.22 311h31.36v1h-31.36zM399.22 380h31.36v1h-31.36zM399.22 390h31.36v1h-31.36zM399.22 487h31.36v1h-31.36zM399.22 541h31.36v2h-31.36zM461.94 489h31.36v1h-31.36zM461.94 535h31.36v1h-31.36z" fill="#f00000"/>
<path d="M336.50 373h31.36v1h-31.36zM367.86 373h31.36v1h-31.36zM430.58 298h31.36v1h-31.36zM430.58 313h31.36v1h-31.36zM430.58 366h31.36v1h-31.36zM430.58 371h31.36v2h-31.36zM430.58 396h31.36v1h-31.36zM430.58 414h31.36v1h-31.36zM430.58 418h31.36v1h-31.36zM430.58 456h31.36v1h-31.36zM430.58 465h31.36v1h-31.36zM430.58 520h31.36v1h-31.36zM461.94 308h31.36v1h-31.36zM461.94 313h31.36v1h-31.36zM461.94 383h31.36v1h-31.36zM461.94 418h31.36v2h-31.36zM461.94 512h31.36v1h-31.36z" fill="#4b0000"/>
<path d="M336.50 389h31.36v1h-31.36zM430.58 296h31.36v2h-31.36zM430.58 323h31.36v1h-31.36zM430.58 356h31.36v2h-31.36zM430.58 360h31.36v1h-31.36zM430.58 365h31.36v1h-31.36zM430.58 399h31.36v1h-31.36zM430.58 415h31.36v1h-31.36zM430.58 417h31.36v1h-31.36zM430.58 420h31.36v1h-31.36zM430.58 444h31.36v1h-31.36zM430.58 548h31.36v1h-31.36zM430.58 550h31.36v1h-31.36zM461.94 310h31.36v1h-31.36zM461.94 322h31.36v1h-31.36zM461.94 326h31.36v2h-31.36zM461.94 408h31.36v1h-31.36zM461.94 414h31.36v2h-31.36zM461.94 417h31.36v1h-31.36zM461.94 449h31.36v1h-31.36zM493.30 512h31.36v1h-31.36zM493.30 535h31.36v1h-31.36z" fill="#2d0000"/>
<path d="M336.50 410h31.36v1h-31.36zM336.50 537h31.36v1h-31.36zM430.58 347h31.36v1h-31.36zM430.58 350h31.36v1h-31.36zM430.58 379h31.36v1h-31.36zM430.58 385h31.36v1h-31.36zM430.58 411h31.36v1h-31.36zM430.58 430h31.36v1h-31.36zM430.58 448h31.36v2h-31.36zM430.58 498h31.36v1h-31.36zM430.58 505h31.36v1h-31.36zM430.58 507h31.36v2h-31.36zM430.58 518h31.36v1h-31.36zM430.58 529h31.36v1h-31.36zM430.58 553h31.36v2h-31.36zM430.58 556h31.36v1h-31.36zM430.58 558h31.36v1h-31.36zM430.58 560h31.36v1h-31.36zM430.58 563h31.36v1h-31.36zM461.94 295h31.36v1h-31.36zM461.94 297h31.36v1h-31.36zM461.94 300h31.36v3h-31.36zM461.94 304h31.36v1h-31.36zM461.94 342h31.36v1h-31.36zM461.94 351h31.36v1h-31.36zM461.94 359h31.36v1h-31.36zM461.94 361h31.36v1h-31.36zM461.94 369h31.36v1h-31.36zM461.94 380h31.36v1h-31.36zM461.94 382h31.36v1h-31.36zM461.94 384h31.36v1h-31.36zM461.94 388h31.36v1h-31.36zM461.94 407h31.36v1h-31.36zM461.94 409h31.36v1h-31.36zM461.94 426h31.36v4h-31.36zM461.94 431h31.36v1h-31.36zM461.94 438h31.36v1h-31.36zM461.94 440h31.36v1h-31.36zM461.94 445h31.36v2h-31.36zM461.94 456h31.36v1h-31.36zM461.94 459h31.36v2h-31.36zM461.94 465h31.36v1h-31.36zM461.94 467h31.36v1h-31.36zM461.94 470h31.36v1h-31.36zM461.94 477h31.36v1h-31.36zM461.94 490h31.36v4h-31.36zM461.94 497h31.36v1h-31.36zM461.94 504h31.36v1h-31.36zM461.94 507h31.36v2h-31.36zM461.94 528h31.36v2h-31.36zM461.94 531h31.36v1h-31.36zM461.94 534h31.36v1h-31.36zM461.94 550h31.36v1h-31.36zM461.94 552h31.36v1h-31.36zM493.30 322h31.36v1h-31.36zM493.30 325h31.36v1h-31.36zM493.30 434h31.36v1h-31.36zM493.30 438h31.36v1h-31.36zM493.30 501h31.36v2h-31.36zM493.30 564h31.36v1h-31.36zM524.66 292h31.36v1h-31.36zM524.66 304h31.36v1h-31.36zM524.66 496h31.36v1h-31.36zM587.38 292h31.36v1h-31.36z" fill="#000f00"/>
<path d="M336.50 441h31.36v1h-31.36zM367.86 441h31.36v1h-31.36zM430.58 320h31.36v1h-31.36zM430.58 380h31.36v1h-31.36zM430.58 388h31.36v1h-31.36zM430.58 394h31.36v1h-31.36zM430.58 402h31.36v1h-31.36zM430.58 516h31.36v1h-31.36zM430.58 532h31.36v1h-31.36zM461.94 330h31.36v1h-31.36zM493.30 292h31.36v1h-31.36zM493.30 306h31.36v1h-31.36zM493.30 315h31.36v1h-31.36zM493.30 339h31.36v1h-31.36zM493.30 364h31.36v1h-31.36zM493.30 368h31.36v1h-31.36zM493.30 413h31.36v1h-31.36zM493.30 425h31.36v1h-31.36zM493.30 436h31.36v1h-31.36zM493.30 495h31.36v1h-31.36zM493.30 505h31.36v1h-31.36zM493.30 532h31.36v1h-31.36zM493.30 540h31.36v1h-31.36zM493.30 571h31.36v1h-31.36zM493.30 573h31.36v1h-31.36zM524.66 361h31.36v3h-31.36zM524.66 436h31.36v1h-31.36zM556.02 463h31.36v2h-31.36zM587.38 329h31.36v1h-31.36zM587.38 407h31.36v2h-31.36zM587.38 554h31.36v2h-31.36z" fill="#006900"/>
<path d="M336.50 489h31.36v1h-31.36zM367.86 463h31.36v1h-31.36zM430.58 331h31.36v1h-31.36zM430.58 368h31.36v1h-31.36zM430.58 383h31.36v2h-31.36zM430.58 416h31.36v1h-31.36zM430.58 466h31.36v1h-31.36zM430.58 468h31.36v1h-31.36zM461.94 316h31.36v2h-31.36zM461.94 321h31.36v1h-31.36zM461.94 331h31.36v3h-31.36zM461.94 420h31.36v1h-31.36zM461.94 511h31.36v1h-31.36zM493.30 373h31.36v1h-31.36z" fill="#5a0000"/>
<path d="M336.50 506h31.36v1h-31.36zM430.58 377h31.36v1h-31.36zM493.30 329h31.36v1h-31.36zM493.30 441h31.36v1h-31.36zM493.30 472h31.36v1h-31.36zM524.66 314h31.36v1h-31.36zM524.66 328h31.36v1h-31.36zM524.66 332h31.36v1h-31.36zM524.66 336h31.36v1h-31.36zM524.66 341h31.36v2h-31.36zM524.66 351h31.36v1h-31.36zM524.66 368h31.36v2h-31.36zM524.66 373h31.36v1h-31.36zM524.66 378h31.36v2h-31.36zM524.66 388h31.36v1h-31.36zM524.66 394h31.36v1h-31.36zM524.66 396h31.36v1h-31.36zM524.66 415h31.36v1h-31.36zM524.66 427h31.36v1h-31.36zM524.66 440h31.36v1h-31.36zM524.66 442h31.36v1h-31.36zM524.66 445h31.36v1h-31.36zM524.66 461h31.36v1h-31.36zM524.66 463h31.36v1h-31.36zM524.66 470h31.36v1h-31.36zM524.66 472h31.36v4h-31.36zM524.66 494h31.36v1h-31.36zM524.66 497h31.36v1h-31.36zM524.66 507h31.36v2h-31.36zM524.66 510h31.36v1h-31.36zM524.66 529h31.36v1h-31.36zM524.66 548h31.36v1h-31.36zM524.66 555h31.36v1h-31.36zM556.02 294h31.36v1h-31.36zM556.02 398h31.36v1h-31.36zM556.02 436h31.36v1h-31.36zM587.38 299h31.36v1h-31.36zM587.38 301h31.36v4h-31.36zM587.38 313h31.36v1h-31.36zM587.38 323h31.36v1h-31.36zM587.38 334h31.36v1h-31.36zM587.38 360h31.36v2h-31.36zM587.38 374h31.36v2h-31.36zM587.38 378h31.36v1h-31.36zM587.38 380h31.36v1h-31.36zM587.38 404h31.36v1h-31.36zM587.38 426h31.36v1h-31.36zM587.38 462h31.36v1h-31.36zM587.38 477h31.36v1h-31.36zM587.38 529h31.36v3h-31.36z" fill="#009600"/>
<path d="M367.86 323h31.36v1h-31.36zM399.22 323h31.36v1h-31.36zM399.22 488h31.36v1h-31.36zM430.58 300h31.36v3h-31.36zM430.58 305h31.36v1h-31.36zM430.58 413h31.36v1h-31.36zM430.58 423h31.36v2h-31.36zM430.58 433h31.36v2h-31.36zM430.58 473h31.36v1h-31.36zM430.58 475h31.36v1h-31.36zM430.58 477h31.36v1h-31.36zM430.58 479h31.36v1h-31.36zM430.58 483h31.36v1h-31.36zM430.58 492h31.36v1h-31.36zM430.58 541h31.36v1h-31.36zM430.58 551h31.36v1h-31.36zM430.58 569h31.36v1h-31.36zM461.94 386h31.36v2h-31.36zM461.94 452h31.36v1h-31.36zM461.94 475h31.36v1h-31.36zM461.94 481h31.36v1h-31.36zM461.94 510h31.36v1h-31.36zM461.94 516h31.36v3h-31.36zM461.94 541h31.36v1h-31.36zM461.94 551h31.36v1h-31.36zM461.94 561h31.36v2h-31.36zM461.94 567h31.36v1h-31.36zM461.94 569h31.36v1h-31.36zM461.94 573h31.36v1h-31.36zM493.30 296h31.36v1h-31.36zM493.30 299h31.36v1h-31.36zM493.30 337h31.36v1h-31.36zM493.30 340h31.36v1h-31.36zM493.30 345h31.36v1h-31.36zM493.30 351h31.36v1h-31.36zM493.30 354h31.36v1h-31.36zM493.30 359h31.36v1h-31.36zM493.30 363h31.36v1h-31.36zM493.30 365h31.36v3h-31.36zM493.30 369h31.36v1h-31.36zM493.30 372h31.36v1h-31.36zM493.30 377h31.36v1h-31.36zM493.30 382h31.36v1h-31.36zM493.30 385h31.36v1h-31.36zM493.30 393h31.36v1h-31.36zM493.30 402h31.36v1h-31.36zM493.30 404h31.36v2h-31.36zM493.30 411h31.36v1h-31.36zM493.30 417h31.36v1h-31.36zM493.30 422h31.36v1h-31.36zM493.30 426h31.36v1h-31.36zM493.30 430h31.36v1h-31.36zM493.30 433h31.36v1h-31.36zM493.30 445h31.36v1h-31.36zM493.30 447h31.36v1h-31.36zM493.30 455h31.36v1h-31.36zM493.30 458h31.36v2h-31.36zM493.30 467h31.36v3h-31.36zM493.30 471h31.36v1h-31.36zM493.30 483h31.36v1h-31.36zM493.30 507h31.36v1h-31.36zM493.30 515h31.36v3h-31.36zM493.30 530h31.36v2h-31.36zM493.30 534h31.36v1h-31.36zM493.30 538h31.36v1h-31.36zM493.30 542h31.36v1h-31.36zM493.30 546h31.36v1h-31.36zM493.30 548h31.36v3h-31.36zM493.30 554h31.36v3h-31.36zM493.30 561h31.36v1h-31.36zM556.02 293h31.36v1h-31.36zM556.02 435h31.36v1h-31.36zM556.02 506h31.36v1h-31.36zM556.02 572h31.36v2h-31.36zM587.38 506h31.36v1h-31.36z" fill="#003c00"/>
<path d="M367.86 389h31.36v1h-31.36zM367.86 489h31.36v1h-31.36zM430.58 309h31.36v1h-31.36zM430.58 317h31.36v1h-31.36zM430.58 321h31.36v1h-31.36zM430.58 324h31.36v2h-31.36zM430.58 332h31.36v1h-31.36zM430.58 381h31.36v1h-31.36zM493.30 352h31.36v1h-31.36zM493.30 410h31.36v1h-31.36z" fill="#780000"/>
<path d="M367.86 410h31.36v1h-31.36zM399.22 352h31.36v1h-31.36zM399.22 557h31.36v1h-31.36zM430.58 337h31.36v1h-31.36zM430.58 340h31.36v2h-31.36zM430.58 345h31.36v1h-31.36zM430.58 348h31.36v1h-31.36zM430.58 351h31.36v1h-31.36zM430.58 374h31.36v1h-31.36zM430.58 376h31.36v1h-31.36zM430.58 390h31.36v1h-31.36zM430.58 409h31.36v1h-31.36zM430.58 412h31.36v1h-31.36zM430.58 439h31.36v1h-31.36zM430.58 442h31.36v1h-31.36zM430.58 445h31.36v1h-31.36zM430.58 484h31.36v1h-31.36zM430.58 500h31.36v1h-31.36zM430.58 527h31.36v1h-31.36zM430.58 538h31.36v1h-31.36zM430.58 543h31.36v1h-31.36zM430.58 547h31.36v1h-31.36zM430.58 565h31.36v2h-31.36zM430.58 573h31.36v1h-31.36zM461.94 319h31.36v1h-31.36zM461.94 345h31.36v1h-31.36zM461.94 354h31.36v1h-31.36zM461.94 358h31.36v1h-31.36zM461.94 360h31.36v1h-31.36zM461.94 362h31.36v1h-31.36zM461.94 367h31.36v2h-31.36zM461.94 372h31.36v1h-31.36zM461.94 375h31.36v1h-31.36zM461.94 378h31.36v2h-31.36zM461.94 385h31.36v1h-31.36zM461.94 392h31.36v2h-31.36zM461.94 400h31.36v1h-31.36zM461.94 405h31.36v2h-31.36zM461.94 433h31.36v2h-31.36zM461.94 439h31.36v1h-31.36zM461.94 447h31.36v2h-31.36zM461.94 450h31.36v1h-31.36zM461.94 466h31.36v1h-31.36zM461.94 468h31.36v1h-31.36zM461.94 473h31.36v1h-31.36zM461.94 509h31.36v1h-31.36zM461.94 542h31.36v1h-31.36zM461.94 545h31.36v1h-31.36zM493.30 308h31.36v1h-31.36zM493.30 310h31.36v2h-31.36zM493.30 318h31.36v1h-31.36zM493.30 326h31.36v1h-31.36zM493.30 331h31.36v4h-31.36zM556.02 353h31.36v1h-31.36zM556.02 428h31.36v1h-31.36zM587.38 356h31.36v1h-31.36z" fill="#0f0000"/>
<path d="M367.86 506h31.36v1h-31.36zM430.58 354h31.36v1h-31.36zM430.58 378h31.36v1h-31.36zM430.58 428h31.36v1h-31.36zM430.58 496h31.36v1h-31.36zM461.94 294h31.36v1h-31.36zM461.94 397h31.36v1h-31.36zM461.94 441h31.36v1h-31.36zM461.94 521h31.36v2h-31.36zM493.30 330h31.36v1h-31.36zM524.66 296h31.36v1h-31.36zM524.66 307h31.36v1h-31.36zM524.66 310h31.36v4h-31.36zM524.66 325h31.36v1h-31.36zM524.66 327h31.36v1h-31.36zM524.66 338h31.36v2h-31.36zM524.66 347h31.36v1h-31.36zM524.66 350h31.36v1h-31.36zM524.66 357h31.36v1h-31.36zM524.66 359h31.36v1h-31.36zM524.66 367h31.36v1h-31.36zM524.66 370h31.36v3h-31.36zM524.66 385h31.36v1h-31.36zM524.66 389h31.36v1h-31.36zM524.66 391h31.36v1h-31.36zM524.66 393h31.36v1h-31.36zM524.66 406h31.36v1h-31.36zM524.66 409h31.36v1h-31.36zM524.66 413h31.36v1h-31.36zM524.66 422h31.36v1h-31.36zM524.66 426h31.36v1h-31.36zM524.66 429h31.36v4h-31.36zM524.66 438h31.36v1h-31.36zM524.66 443h31.36v1h-31.36zM524.66 446h31.36v1h-31.36zM524.66 449h31.36v1h-31.36zM524.66 456h31.36v4h-31.36zM524.66 462h31.36v1h-31.36zM524.66 469h31.36v1h-31.36zM524.66 476h31.36v3h-31.36zM524.66 493h31.36v1h-31.36zM524.66 495h31.36v1h-31.36zM524.66 501h31.36v3h-31.36zM524.66 509h31.36v1h-31.36zM524.66 511h31.36v1h-31.36zM524.66 513h31.36v1h-31.36zM524.66 522h31.36v6h-31.36zM524.66 530h31.36v1h-31.36zM524.66 543h31.36v1h-31.36zM524.66 551h31.36v1h-31.36zM524.66 553h31.36v1h-31.36zM524.66 557h31.36v1h-31.36zM524.66 568h31.36v1h-31.36zM556.02 346h31.36v1h-31.36zM556.02 390h31.36v2h-31.36zM556.02 405h31.36v1h-31.36zM556.02 465h31.36v1h-31.36zM556.02 480h31.36v1h-31.36zM556.02 526h31.36v1h-31.36zM556.02 535h31.36v3h-31.36zM556.02 543h31.36v1h-31.36zM556.02 553h31.36v1h-31.36zM587.38 319h31.36v1h-31.36zM587.38 328h31.36v1h-31.36zM587.38 330h31.36v2h-31.36zM587.38 336h31.36v1h-31.36zM587.38 339h31.36v1h-31.36zM587.38 341h31.36v1h-31.36zM587.38 347h31.36v1h-31.36zM587.38 350h31.36v2h-31.36zM587.38 357h31.36v3h-31.36zM587.38 363h31.36v1h-31.36zM587.38 365h31.36v1h-31.36zM587.38 377h31.36v1h-31.36zM587.38 389h31.36v1h-31.36zM587.38 429h31.36v2h-31.36zM587.38 437h31.36v1h-31.36zM587.38 447h31.36v1h-31.36zM587.38 450h31.36v1h-31.36zM587.38 463h31.36v1h-31.36zM587.38 465h31.36v1h-31.36zM587.38 473h31.36v1h-31.36zM587.38 484h31.36v4h-31.36zM587.38 489h31.36v1h-31.36zM587.38 510h31.36v3h-31.36zM587.38 520h31.36v2h-31.36zM587.38 525h31.36v1h-31.36zM587.38 536h31.36v2h-31.36zM587.38 539h31.36v1h-31.36zM587.38 541h31.36v3h-31.36zM587.38 549h31.36v1h-31.36zM587.38 552h31.36v1h-31.36zM587.38 556h31.36v1h-31.36zM587.38 558h31.36v1h-31.36zM587.38 567h31.36v1h-31.36zM587.38 572h31.36v1h-31.36z" fill="#00a500"/>
<path d="M367.86 536h31.36v2h-31.36zM430.58 304h31.36v1h-31.36zM430.58 306h31.36v1h-31.36zM430.58 315h31.36v1h-31.36zM430.58 422h31.36v1h-31.36zM430.58 425h31.36v1h-31.36zM430.58 429h31.36v1h-31.36zM430.58 482h31.36v1h-31.36zM430.58 491h31.36v1h-31.36zM430.58 493h31.36v1h-31.36zM430.58 539h31.36v1h-31.36zM430.58 545h31.36v1h-31.36zM430.58 559h31.36v1h-31.36zM430.58 561h31.36v1h-31.36zM430.58 570h31.36v3h-31.36zM461.94 306h31.36v2h-31.36zM461.94 390h31.36v1h-31.36zM461.94 422h31.36v1h-31.36zM461.94 437h31.36v1h-31.36zM461.94 469h31.36v1h-31.36zM461.94 478h31.36v1h-31.36zM461.94 498h31.36v1h-31.36zM461.94 513h31.36v2h-31.36zM461.94 539h31.36v2h-31.36zM461.94 548h31.36v1h-31.36zM461.94 564h31.36v1h-31.36zM461.94 566h31.36v1h-31.36zM461.94 574h31.36v1h-31.36zM493.30 297h31.36v2h-31.36zM493.30 341h31.36v1h-31.36zM493.30 353h31.36v1h-31.36zM493.30 358h31.36v1h-31.36zM493.30 371h31.36v1h-31.36zM493.30 379h31.36v1h-31.36zM493.30 381h31.36v1h-31.36zM493.30 384h31.36v1h-31.36zM493.30 398h31.36v1h-31.36zM493.30 406h31.36v2h-31.36zM493.30 409h31.36v1h-31.36zM493.30 414h31.36v3h-31.36zM493.30 418h31.36v2h-31.36zM493.30 421h31.36v1h-31.36zM493.30 427h31.36v1h-31.36zM493.30 442h31.36v2h-31.36zM493.30 448h31.36v1h-31.36zM493.30 457h31.36v1h-31.36zM493.30 462h31.36v1h-31.36zM493.30 466h31.36v1h-31.36zM493.30 475h31.36v1h-31.36zM493.30 477h31.36v1h-31.36zM493.30 480h31.36v1h-31.36zM493.30 482h31.36v1h-31.36zM493.30 484h31.36v1h-31.36zM493.30 490h31.36v1h-31.36zM493.30 492h31.36v3h-31.36zM493.30 498h31.36v2h-31.36zM493.30 503h31.36v1h-31.36zM493.30 523h31.36v1h-31.36zM493.30 528h31.36v2h-31.36zM493.30 551h31.36v2h-31.36zM493.30 563h31.36v1h-31.36zM493.30 566h31.36v1h-31.36zM493.30 574h31.36v1h-31.36zM524.66 301h31.36v2h-31.36zM524.66 397h31.36v1h-31.36zM556.02 292h31.36v1h-31.36zM556.02 397h31.36v1h-31.36zM587.38 396h31.36v1h-31.36z" fill="#002d00"/>
<path d="M399.22 322h31.36v1h-31.36zM430.58 387h31.36v1h-31.36zM430.58 435h31.36v2h-31.36zM430.58 441h31.36v1h-31.36zM524.66 318h31.36v1h-31.36zM524.66 539h31.36v1h-31.36zM524.66 549h31.36v1h-31.36zM556.02 311h31.36v2h-31.36zM556.02 352h31.36v1h-31.36zM556.02 358h31.36v3h-31.36zM556.02 378h31.36v1h-31.36zM556.02 403h31.36v1h-31.36zM556.02 418h31.36v1h-31.36zM556.02 430h31.36v1h-31.36zM556.02 439h31.36v1h-31.36zM556.02 443h31.36v3h-31.36zM556.02 461h31.36v1h-31.36zM556.02 500h31.36v1h-31.36zM556.02 505h31.36v1h-31.36zM556.02 508h31.36v1h-31.36zM556.02 530h31.36v1h-31.36zM556.02 538h31.36v3h-31.36zM556.02 550h31.36v1h-31.36zM556.02 562h31.36v1h-31.36zM556.02 574h31.36v1h-31.36zM587.38 400h31.36v1h-31.36zM587.38 402h31.36v1h-31.36zM587.38 405h31.36v1h-31.36zM587.38 411h31.36v1h-31.36zM587.38 448h31.36v1h-31.36zM587.38 570h31.36v1h-31.36z" fill="#00e100"/>
<path d="M399.22 373h31.36v1h-31.36zM399.22 389h31.36v1h-31.36zM430.58 295h31.36v1h-31.36zM430.58 299h31.36v1h-31.36zM430.58 334h31.36v3h-31.36zM430.58 362h31.36v2h-31.36zM430.58 369h31.36v1h-31.36zM430.58 419h31.36v1h-31.36zM430.58 453h31.36v2h-31.36zM430.58 457h31.36v1h-31.36zM430.58 467h31.36v1h-31.36zM430.58 549h31.36v1h-31.36zM430.58 564h31.36v1h-31.36zM461.94 309h31.36v1h-31.36zM461.94 311h31.36v2h-31.36zM461.94 318h31.36v1h-31.36zM461.94 324h31.36v1h-31.36zM461.94 328h31.36v1h-31.36zM461.94 416h31.36v1h-31.36zM493.30 511h31.36v1h-31.36z" fill="#3c0000"/>
<path d="M399.22 441h31.36v1h-31.36zM430.58 314h31.36v1h-31.36zM430.58 319h31.36v1h-31.36zM430.58 391h31.36v1h-31.36zM430.58 398h31.36v1h-31.36zM430.58 401h31.36v1h-31.36zM430.58 405h31.36v1h-31.36zM430.58 447h31.36v1h-31.36zM430.58 472h31.36v1h-31.36zM430.58 474h31.36v1h-31.36zM430.58 480h31.36v1h-31.36zM430.58 517h31.36v1h-31.36zM430.58 542h31.36v1h-31.36zM430.58 562h31.36v1h-31.36zM461.94 292h31.36v1h-31.36zM461.94 329h31.36v1h-31.36zM461.94 350h31.36v1h-31.36zM461.94 435h31.36v1h-31.36zM461.94 454h31.36v1h-31.36zM461.94 558h31.36v1h-31.36zM461.94 560h31.36v1h-31.36zM493.30 294h31.36v1h-31.36zM493.30 300h31.36v2h-31.36zM493.30 305h31.36v1h-31.36zM493.30 307h31.36v1h-31.36zM493.30 314h31.36v1h-31.36zM493.30 348h31.36v1h-31.36zM493.30 350h31.36v1h-31.36zM493.30 360h31.36v1h-31.36zM493.30 375h31.36v2h-31.36zM493.30 387h31.36v1h-31.36zM493.30 412h31.36v1h-31.36zM493.30 423h31.36v1h-31.36zM493.30 431h31.36v1h-31.36zM493.30 435h31.36v1h-31.36zM493.30 451h31.36v1h-31.36zM493.30 504h31.36v1h-31.36zM493.30 508h31.36v2h-31.36zM493.30 521h31.36v1h-31.36zM493.30 525h31.36v1h-31.36zM493.30 544h31.36v1h-31.36zM493.30 547h31.36v1h-31.36zM493.30 553h31.36v1h-31.36zM493.30 560h31.36v1h-31.36zM493.30 562h31.36v1h-31.36zM493.30 568h31.36v1h-31.36zM493.30 570h31.36v1h-31.36zM493.30 572h31.36v1h-31.36zM524.66 294h31.36v1h-31.36zM524.66 421h31.36v1h-31.36zM524.66 516h31.36v1h-31.36zM524.66 518h31.36v1h-31.36zM524.66 547h31.36v1h-31.36zM556.02 329h31.36v1h-31.36zM556.02 424h31.36v1h-31.36zM587.38 294h31.36v1h-31.36zM587.38 387h31.36v1h-31.36zM587.38 540h31.36v1h-31.36z" fill="#005a00"/>
<path d="M399.22 463h31.36v1h-31.36zM430.58 338h31.36v1h-31.36zM430.58 343h31.36v1h-31.36zM430.58 359h31.36v1h-31.36zM430.58 375h31.36v1h-31.36zM430.58 400h31.36v1h-31.36zM430.58 403h31.36v1h-31.36zM430.58 432h31.36v1h-31.36zM430.58 438h31.36v1h-31.36zM430.58 440h31.36v1h-31.36zM430.58 443h31.36v1h-31.36zM430.58 446h31.36v1h-31.36zM430.58 497h31.36v1h-31.36zM430.58 525h31.36v1h-31.36zM430.58 567h31.36v1h-31.36zM461.94 323h31.36v1h-31.36zM461.94 325h31.36v1h-31.36zM461.94 337h31.36v2h-31.36zM461.94 341h31.36v1h-31.36zM461.94 343h31.36v2h-31.36zM461.94 402h31.36v1h-31.36zM461.94 404h31.36v1h-31.36zM461.94 424h31.36v2h-31.36zM461.94 442h31.36v1h-31.36zM461.94 461h31.36v1h-31.36zM461.94 472h31.36v1h-31.36zM461.94 499h31.36v4h-31.36zM461.94 538h31.36v1h-31.36zM493.30 309h31.36v1h-31.36zM493.30 312h31.36v2h-31.36zM493.30 316h31.36v1h-31.36zM493.30 321h31.36v1h-31.36z" fill="#1e0000"/>
<path d="M399.22 489h31.36v1h-31.36zM430.58 308h31.36v1h-31.36zM430.58 310h31.36v1h-31.36zM430.58 312h31.36v1h-31.36zM430.58 326h31.36v3h-31.36zM430.58 382h31.36v1h-31.36zM430.58 512h31.36v1h-31.36z" fill="#690000"/>
<path d="M399.22 506h31.36v1h-31.36zM430.58 353h31.36v1h-31.36zM430.58 406h31.36v1h-31.36zM461.94 293h31.36v1h-31.36zM524.66 299h31.36v1h-31.36zM524.66 308h31.36v1h-31.36zM524.66 319h31.36v1h-31.36zM524.66 333h31.36v1h-31.36zM524.66 335h31.36v1h-31.36zM524.66 337h31.36v1h-31.36zM524.66 340h31.36v1h-31.36zM524.66 345h31.36v2h-31.36zM524.66 348h31.36v1h-31.36zM524.66 352h31.36v1h-31.36zM524.66 354h31.36v2h-31.36zM524.66 374h31.36v3h-31.36zM524.66 382h31.36v1h-31.36zM524.66 390h31.36v1h-31.36zM524.66 392h31.36v1h-31.36zM524.66 400h31.36v2h-31.36zM524.66 403h31.36v1h-31.36zM524.66 405h31.36v1h-31.36zM524.66 407h31.36v1h-31.36zM524.66 410h31.36v3h-31.36zM524.66 417h31.36v4h-31.36zM524.66 425h31.36v1h-31.36zM524.66 433h31.36v2h-31.36zM524.66 437h31.36v1h-31.36zM524.66 439h31.36v1h-31.36zM524.66 444h31.36v1h-31.36zM524.66 447h31.36v2h-31.36zM524.66 451h31.36v2h-31.36zM524.66 454h31.36v2h-31.36zM524.66 464h31.36v1h-31.36zM524.66 466h31.36v3h-31.36zM524.66 479h31.36v1h-31.36zM524.66 481h31.36v1h-31.36zM524.66 485h31.36v2h-31.36zM524.66 489h31.36v1h-31.36zM524.66 498h31.36v3h-31.36zM524.66 512h31.36v1h-31.36zM524.66 520h31.36v1h-31.36zM524.66 528h31.36v1h-31.36zM524.66 531h31.36v1h-31.36zM524.66 545h31.36v2h-31.36zM524.66 550h31.36v1h-31.36zM524.66 552h31.36v1h-31.36zM524.66 554h31.36v1h-31.36zM524.66 558h31.36v2h-31.36zM524.66 562h31.36v1h-31.36zM524.66 570h31.36v2h-31.36zM524.66 574h31.36v1h-31.36zM556.02 295h31.36v1h-31.36zM556.02 301h31.36v1h-31.36zM556.02 323h31.36v1h-31.36zM556.02 338h31.36v1h-31.36zM556.02 340h31.36v1h-31.36zM556.02 342h31.36v1h-31.36zM556.02 348h31.36v1h-31.36zM556.02 361h31.36v1h-31.36zM556.02 384h31.36v2h-31.36zM556.02 388h31.36v2h-31.36zM556.02 392h31.36v1h-31.36zM556.02 402h31.36v1h-31.36zM556.02 407h31.36v2h-31.36zM556.02 416h31.36v1h-31.36zM556.02 421h31.36v2h-31.36zM556.02 425h31.36v1h-31.36zM556.02 434h31.36v1h-31.36zM556.02 438h31.36v1h-31.36zM556.02 455h31.36v2h-31.36zM556.02 458h31.36v1h-31.36zM556.02 466h31.36v1h-31.36zM556.02 468h31.36v4h-31.36zM556.02 477h31.36v3h-31.36zM556.02 489h31.36v1h-31.36zM556.02 492h31.36v2h-31.36zM556.02 498h31.36v1h-31.36zM556.02 521h31.36v2h-31.36zM556.02 525h31.36v1h-31.36zM556.02 544h31.36v1h-31.36zM556.02 552h31.36v1h-31.36zM556.02 554h31.36v2h-31.36zM556.02 564h31.36v3h-31.36zM556.02 568h31.36v2h-31.36zM587.38 297h31.36v1h-31.36zM587.38 307h31.36v1h-31.36zM587.38 309h31.36v1h-31.36zM587.38 312h31.36v1h-31.36zM587.38 317h31.36v2h-31.36zM587.38 321h31.36v1h-31.36zM587.38 332h31.36v2h-31.36zM587.38 335h31.36v1h-31.36zM587.38 340h31.36v1h-31.36zM587.38 342h31.36v4h-31.36zM587.38 349h31.36v1h-31.36zM587.38 352h31.36v1h-31.36zM587.38 355h31.36v1h-31.36zM587.38 362h31.36v1h-31.36zM587.38 364h31.36v1h-31.36zM587.38 379h31.36v1h-31.36zM587.38 382h31.36v1h-31.36zM587.38 390h31.36v1h-31.36zM587.38 403h31.36v1h-31.36zM587.38 412h31.36v1h-31.36zM587.38 416h31.36v4h-31.36zM587.38 421h31.36v1h-31.36zM587.38 423h31.36v2h-31.36zM587.38 427h31.36v2h-31.36zM587.38 433h31.36v2h-31.36zM587.38 451h31.36v5h-31.36zM587.38 460h31.36v1h-31.36zM587.38 466h31.36v2h-31.36zM587.38 472h31.36v1h-31.36zM587.38 480h31.36v1h-31.36zM587.38 483h31.36v1h-31.36zM587.38 488h31.36v1h-31.36zM587.38 492h31.36v1h-31.36zM587.38 498h31.36v1h-31.36zM587.38 500h31.36v1h-31.36zM587.38 503h31.36v1h-31.36zM587.38 507h31.36v3h-31.36zM587.38 513h31.36v6h-31.36zM587.38 522h31.36v3h-31.36zM587.38 526h31.36v3h-31.36zM587.38 534h31.36v2h-31.36zM587.38 538h31.36v1h-31.36zM587.38 548h31.36v1h-31.36zM587.38 550h31.36v1h-31.36zM587.38 553h31.36v1h-31.36zM587.38 557h31.36v1h-31.36zM587.38 565h31.36v2h-31.36zM587.38 574h31.36v1h-31.36z" fill="#00b400"/>
<path d="M430.58 292h31.36v3h-31.36z" fill="#00ff00"/>
<path d="M430.58 311h31.36v1h-31.36zM430.58 316h31.36v1h-31.36zM430.58 318h31.36v1h-31.36zM430.58 333h31.36v1h-31.36zM430.58 346h31.36v1h-31.36zM430.58 373h31.36v1h-31.36zM430.58 389h31.36v1h-31.36zM430.58 511h31.36v1h-31.36zM461.94 335h31.36v2h-31.36zM461.94 464h31.36v1h-31.36zM493.30 389h31.36v1h-31.36z" fill="#870000"/>
<path d="M430.58 322h31.36v1h-31.36zM430.58 367h31.36v1h-31.36zM430.58 395h31.36v1h-31.36zM430.58 426h31.36v2h-31.36zM430.58 455h31.36v1h-31.36zM430.58 458h31.36v1h-31.36zM430.58 469h31.36v3h-31.36zM430.58 486h31.36v1h-31.36zM430.58 495h31.36v1h-31.36zM430.58 504h31.36v1h-31.36zM430.58 510h31.36v1h-31.36zM430.58 513h31.36v1h-31.36zM430.58 523h31.36v1h-31.36zM430.58 526h31.36v1h-31.36zM430.58 530h31.36v2h-31.36zM430.58 544h31.36v1h-31.36zM430.58 546h31.36v1h-31.36zM430.58 552h31.36v1h-31.36zM430.58 555h31.36v1h-31.36zM430.58 574h31.36v1h-31.36zM461.94 303h31.36v1h-31.36zM461.94 305h31.36v1h-31.36zM461.94 314h31.36v1h-31.36zM461.94 357h31.36v1h-31.36zM461.94 391h31.36v1h-31.36zM461.94 399h31.36v1h-31.36zM461.94 423h31.36v1h-31.36zM461.94 432h31.36v1h-31.36zM461.94 451h31.36v1h-31.36zM461.94 455h31.36v1h-31.36zM461.94 476h31.36v1h-31.36zM461.94 479h31.36v2h-31.36zM461.94 520h31.36v1h-31.36zM461.94 523h31.36v2h-31.36zM461.94 527h31.36v1h-31.36zM461.94 532h31.36v2h-31.36zM461.94 543h31.36v1h-31.36zM461.94 546h31.36v2h-31.36zM461.94 549h31.36v1h-31.36zM461.94 563h31.36v1h-31.36zM461.94 565h31.36v1h-31.36zM461.94 570h31.36v1h-31.36zM493.30 319h31.36v2h-31.36zM493.30 323h31.36v1h-31.36zM493.30 378h31.36v1h-31.36zM493.30 383h31.36v1h-31.36zM493.30 408h31.36v1h-31.36zM493.30 439h31.36v1h-31.36zM493.30 444h31.36v1h-31.36zM493.30 446h31.36v1h-31.36zM493.30 452h31.36v1h-31.36zM493.30 456h31.36v1h-31.36zM493.30 460h31.36v1h-31.36zM493.30 473h31.36v2h-31.36zM493.30 476h31.36v1h-31.36zM493.30 479h31.36v1h-31.36zM493.30 485h31.36v2h-31.36zM493.30 497h31.36v1h-31.36zM493.30 514h31.36v1h-31.36zM493.30 526h31.36v1h-31.36zM493.30 539h31.36v1h-31.36zM493.30 543h31.36v1h-31.36zM493.30 558h31.36v2h-31.36zM524.66 303h31.36v1h-31.36zM524.66 386h31.36v1h-31.36zM556.02 386h31.36v1h-31.36zM587.38 397h31.36v1h-31.36zM587.38 435h31.36v1h-31.36z" fill="#001e00"/>
<path d="M430.58 329h31.36v1h-31.36zM430.58 478h31.36v1h-31.36zM430.58 499h31.36v1h-31.36zM493.30 342h31.36v1h-31.36zM493.30 424h31.36v1h-31.36zM524.66 326h31.36v1h-31.36zM524.66 387h31.36v1h-31.36zM524.66 398h31.36v1h-31.36zM524.66 536h31.36v1h-31.36zM524.66 538h31.36v1h-31.36zM587.38 436h31.36v1h-31.36zM587.38 474h31.36v1h-31.36z" fill="#007800"/>
<path d="M430.58 330h31.36v1h-31.36zM493.30 302h31.36v3h-31.36zM524.66 315h31.36v2h-31.36zM524.66 321h31.36v1h-31.36zM524.66 343h31.36v2h-31.36zM524.66 349h31.36v1h-31.36zM524.66 356h31.36v1h-31.36zM524.66 360h31.36v1h-31.36zM524.66 395h31.36v1h-31.36zM524.66 414h31.36v1h-31.36zM524.66 416h31.36v1h-31.36zM524.66 423h31.36v1h-31.36zM524.66 428h31.36v1h-31.36zM524.66 450h31.36v1h-31.36zM524.66 471h31.36v1h-31.36zM524.66 492h31.36v1h-31.36zM524.66 535h31.36v1h-31.36zM524.66 537h31.36v1h-31.36zM524.66 556h31.36v1h-31.36zM524.66 563h31.36v1h-31.36zM556.02 387h31.36v1h-31.36zM587.38 300h31.36v1h-31.36zM587.38 398h31.36v1h-31.36zM587.38 475h31.36v1h-31.36zM587.38 532h31.36v1h-31.36zM587.38 551h31.36v1h-31.36z" fill="#008700"/>
<path d="M430.58 386h31.36v1h-31.36zM524.66 399h31.36v1h-31.36zM556.02 343h31.36v1h-31.36zM556.02 369h31.36v1h-31.36zM556.02 417h31.36v1h-31.36zM556.02 507h31.36v1h-31.36z" fill="#00f000"/>
<path d="M430.58 397h31.36v1h-31.36zM430.58 407h31.36v1h-31.36zM524.66 295h31.36v1h-31.36zM524.66 297h31.36v1h-31.36zM524.66 300h31.36v1h-31.36zM524.66 306h31.36v1h-31.36zM524.66 309h31.36v1h-31.36zM524.66 317h31.36v1h-31.36zM524.66 330h31.36v1h-31.36zM524.66 334h31.36v1h-31.36zM524.66 353h31.36v1h-31.36zM524.66 358h31.36v1h-31.36zM524.66 364h31.36v1h-31.36zM524.66 366h31.36v1h-31.36zM524.66 383h31.36v2h-31.36zM524.66 402h31.36v1h-31.36zM524.66 404h31.36v1h-31.36zM524.66 408h31.36v1h-31.36zM524.66 424h31.36v1h-31.36zM524.66 453h31.36v1h-31.36zM524.66 460h31.36v1h-31.36zM524.66 465h31.36v1h-31.36zM524.66 480h31.36v1h-31.36zM524.66 484h31.36v1h-31.36zM524.66 488h31.36v1h-31.36zM524.66 490h31.36v2h-31.36zM524.66 505h31.36v1h-31.36zM524.66 515h31.36v1h-31.36zM524.66 519h31.36v1h-31.36zM524.66 521h31.36v1h-31.36zM524.66 532h31.36v1h-31.36zM524.66 542h31.36v1h-31.36zM524.66 544h31.36v1h-31.36zM524.66 560h31.36v2h-31.36zM524.66 565h31.36v2h-31.36zM524.66 572h31.36v1h-31.36zM556.02 299h31.36v2h-31.36zM556.02 302h31.36v8h-31.36zM556.02 315h31.36v1h-31.36zM556.02 318h31.36v2h-31.36zM556.02 321h31.36v1h-31.36zM556.02 325h31.36v1h-31.36zM556.02 332h31.36v1h-31.36zM556.02 334h31.36v1h-31.36zM556.02 337h31.36v1h-31.36zM556.02 339h31.36v1h-31.36zM556.02 344h31.36v2h-31.36zM556.02 349h31.36v2h-31.36zM556.02 356h31.36v2h-31.36zM556.02 362h31.36v1h-31.36zM556.02 366h31.36v3h-31.36zM556.02 370h31.36v4h-31.36zM556.02 375h31.36v3h-31.36zM556.02 380h31.36v4h-31.36zM556.02 399h31.36v3h-31.36zM556.02 406h31.36v1h-31.36zM556.02 412h31.36v1h-31.36zM556.02 414h31.36v2h-31.36zM556.02 423h31.36v1h-31.36zM556.02 427h31.36v1h-31.36zM556.02 431h31.36v3h-31.36zM556.02 446h31.36v9h-31.36zM556.02 467h31.36v1h-31.36zM556.02 472h31.36v1h-31.36zM556.02 474h31.36v1h-31.36zM556.02 476h31.36v1h-31.36zM556.02 481h31.36v1h-31.36zM556.02 483h31.36v6h-31.36zM556.02 490h31.36v2h-31.36zM556.02 494h31.36v4h-31.36zM556.02 503h31.36v1h-31.36zM556.02 513h31.36v1h-31.36zM556.02 516h31.36v3h-31.36zM556.02 520h31.36v1h-31.36zM556.02 524h31.36v1h-31.36zM556.02 529h31.36v1h-31.36zM556.02 533h31.36v1h-31.36zM556.02 542h31.36v1h-31.36zM556.02 548h31.36v1h-31.36zM556.02 551h31.36v1h-31.36zM556.02 556h31.36v1h-31.36zM556.02 558h31.36v1h-31.36zM556.02 560h31.36v1h-31.36zM556.02 563h31.36v1h-31.36zM556.02 567h31.36v1h-31.36zM556.02 571h31.36v1h-31.36zM587.38 296h31.36v1h-31.36zM587.38 298h31.36v1h-31.36zM587.38 306h31.36v1h-31.36zM587.38 308h31.36v1h-31.36zM587.38 310h31.36v1h-31.36zM587.38 314h31.36v3h-31.36zM587.38 320h31.36v1h-31.36zM587.38 327h31.36v1h-31.36zM587.38 346h31.36v1h-31.36zM587.38 353h31.36v2h-31.36zM587.38 366h31.36v5h-31.36zM587.38 373h31.36v1h-31.36zM587.38 376h31.36v1h-31.36zM587.38 381h31.36v1h-31.36zM587.38 383h31.36v3h-31.36zM587.38 388h31.36v1h-31.36zM587.38 395h31.36v1h-31.36zM587.38 399h31.36v1h-31.36zM587.38 406h31.36v1h-31.36zM587.38 413h31.36v2h-31.36zM587.38 420h31.36v1h-31.36zM587.38 422h31.36v1h-31.36zM587.38 425h31.36v1h-31.36zM587.38 431h31.36v2h-31.36zM587.38 438h31.36v3h-31.36zM587.38 444h31.36v2h-31.36zM587.38 456h31.36v4h-31.36zM587.38 464h31.36v1h-31.36zM587.38 468h31.36v3h-31.36zM587.38 479h31.36v1h-31.36zM587.38 481h31.36v2h-31.36zM587.38 491h31.36v1h-31.36zM587.38 493h31.36v1h-31.36zM587.38 495h31.36v2h-31.36zM587.38 501h31.36v2h-31.36zM587.38 504h31.36v2h-31.36zM587.38 519h31.36v1h-31.36zM587.38 533h31.36v1h-31.36zM587.38 544h31.36v4h-31.36zM587.38 560h31.36v1h-31.36zM587.38 568h31.36v1h-31.36zM587.38 571h31.36v1h-31.36z" fill="#00c300"/>
</g>
<text class="s" transform="translate(351.5 287.8) rotate(90)" font-size="8.2" fill="#111" text-anchor="end">72h3</text><text class="s" transform="translate(382.8 287.8) rotate(90)" font-size="8.2" fill="#111" text-anchor="end">72h2</text><text class="s" transform="translate(414.2 287.8) rotate(90)" font-size="8.2" fill="#111" text-anchor="end">72h1</text><text class="s" transform="translate(445.6 287.8) rotate(90)" font-size="8.2" fill="#111" text-anchor="end">24h3</text><text class="s" transform="translate(476.9 287.8) rotate(90)" font-size="8.2" fill="#111" text-anchor="end">24h2</text><text class="s" transform="translate(508.3 287.8) rotate(90)" font-size="8.2" fill="#111" text-anchor="end">24h1</text><text class="s" transform="translate(539.6 287.8) rotate(90)" font-size="8.2" fill="#111" text-anchor="end">con3</text><text class="s" transform="translate(571.0 287.8) rotate(90)" font-size="8.2" fill="#111" text-anchor="end">con2</text><text class="s" transform="translate(602.4 287.8) rotate(90)" font-size="8.2" fill="#111" text-anchor="end">con1</text>
<defs><linearGradient id="kg" x1="0" y1="0" x2="0" y2="1"><stop offset="0" stop-color="#f00"/><stop offset="0.08" stop-color="#f00"/><stop offset="0.5" stop-color="#000"/><stop offset="0.92" stop-color="#0f0"/><stop offset="1" stop-color="#0f0"/></linearGradient></defs>
<rect x="619.9" y="291.1" width="11.9" height="92.8" fill="url(#kg)"/>
<line x1="631.8" y1="293.3" x2="634" y2="293.3" stroke="#222" stroke-width="0.6"/><text class="s" transform="translate(643.7 293.3) rotate(-90)" font-size="6.4" fill="#111" text-anchor="middle">1.5</text><line x1="631.8" y1="308.0" x2="634" y2="308.0" stroke="#222" stroke-width="0.6"/><text class="s" transform="translate(643.7 308.0) rotate(-90)" font-size="6.4" fill="#111" text-anchor="middle">1</text><line x1="631.8" y1="322.7" x2="634" y2="322.7" stroke="#222" stroke-width="0.6"/><text class="s" transform="translate(643.7 322.7) rotate(-90)" font-size="6.4" fill="#111" text-anchor="middle">0.5</text><line x1="631.8" y1="337.4" x2="634" y2="337.4" stroke="#222" stroke-width="0.6"/><text class="s" transform="translate(643.7 337.4) rotate(-90)" font-size="6.4" fill="#111" text-anchor="middle">0</text><line x1="631.8" y1="352.1" x2="634" y2="352.1" stroke="#222" stroke-width="0.6"/><text class="s" transform="translate(643.7 352.1) rotate(-90)" font-size="6.4" fill="#111" text-anchor="middle">−0.5</text><line x1="631.8" y1="366.8" x2="634" y2="366.8" stroke="#222" stroke-width="0.6"/><text class="s" transform="translate(643.7 366.8) rotate(-90)" font-size="6.4" fill="#111" text-anchor="middle">−1</text><line x1="631.8" y1="381.5" x2="634" y2="381.5" stroke="#222" stroke-width="0.6"/><text class="s" transform="translate(643.7 381.5) rotate(-90)" font-size="6.4" fill="#111" text-anchor="middle">−1.5</text><text class="s" transform="translate(654.2 337.4) rotate(-90)" font-size="6.4" fill="#111" text-anchor="middle">Row Z−Score</text>
</svg>
</body></html>
